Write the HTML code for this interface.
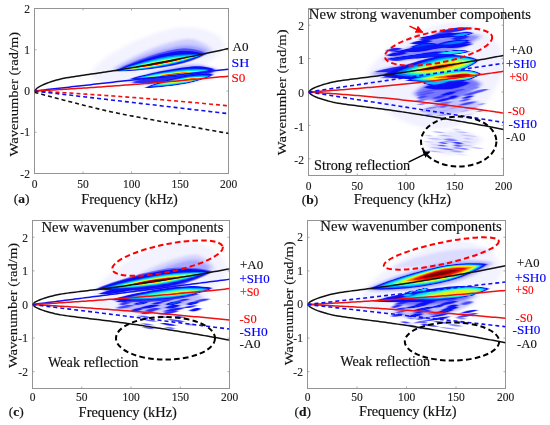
<!DOCTYPE html><html><head><meta charset="utf-8"><style>html,body{margin:0;padding:0;background:#fff;}svg{display:block;will-change:transform;}text{font-family:"Liberation Serif", serif;stroke-width:0.15px;}</style></head><body>
<svg width="550" height="425" viewBox="0 0 550 425">
<defs>
<filter id="cm" x="0" y="0" width="1" height="1" color-interpolation-filters="sRGB"><feComponentTransfer><feFuncR type="table" tableValues="1.000 0.987 0.973 0.960 0.947 0.933 0.909 0.885 0.861 0.837 0.813 0.789 0.765 0.728 0.691 0.654 0.618 0.581 0.544 0.507 0.471 0.427 0.384 0.341 0.298 0.255 0.212 0.169 0.125 0.082 0.039 0.035 0.031 0.027 0.024 0.020 0.016 0.012 0.008 0.004 0.000 0.000 0.000 0.000 0.000 0.000 0.000 0.000 0.000 0.000 0.000 0.039 0.078 0.118 0.157 0.196 0.235 0.275 0.314 0.373 0.431 0.490 0.549 0.608 0.667 0.725 0.784 0.820 0.856 0.892 0.928 0.964 1.000 1.000 1.000 1.000 1.000 1.000 1.000 1.000 1.000 0.993 0.985 0.978 0.971 0.963 0.956 0.949 0.941 0.895 0.850 0.804 0.758 0.712 0.667 0.621 0.575 0.529 0.510 0.490 0.471"/><feFuncG type="table" tableValues="1.000 0.987 0.973 0.960 0.947 0.933 0.909 0.885 0.861 0.837 0.813 0.789 0.765 0.728 0.691 0.654 0.618 0.581 0.544 0.507 0.471 0.427 0.384 0.341 0.298 0.255 0.212 0.169 0.125 0.082 0.039 0.076 0.114 0.151 0.188 0.225 0.263 0.300 0.337 0.375 0.412 0.459 0.506 0.553 0.600 0.647 0.694 0.741 0.788 0.835 0.882 0.897 0.912 0.926 0.941 0.956 0.971 0.985 1.000 1.000 1.000 1.000 1.000 1.000 1.000 1.000 1.000 0.985 0.970 0.955 0.940 0.925 0.910 0.857 0.805 0.752 0.700 0.648 0.595 0.543 0.490 0.431 0.373 0.314 0.255 0.196 0.137 0.078 0.020 0.017 0.015 0.013 0.011 0.009 0.007 0.004 0.002 0.000 0.000 0.000 0.000"/><feFuncB type="table" tableValues="1.000 1.000 1.000 1.000 1.000 1.000 1.000 1.000 1.000 1.000 1.000 1.000 1.000 1.000 1.000 1.000 1.000 1.000 1.000 1.000 1.000 0.996 0.992 0.988 0.984 0.980 0.976 0.973 0.969 0.965 0.961 0.965 0.969 0.973 0.976 0.980 0.984 0.988 0.992 0.996 1.000 1.000 1.000 1.000 1.000 1.000 1.000 1.000 1.000 1.000 1.000 0.961 0.922 0.882 0.843 0.804 0.765 0.725 0.686 0.625 0.564 0.502 0.441 0.380 0.319 0.257 0.196 0.163 0.131 0.098 0.065 0.033 0.000 0.000 0.000 0.000 0.000 0.000 0.000 0.000 0.000 0.000 0.000 0.000 0.000 0.000 0.000 0.000 0.000 0.000 0.000 0.000 0.000 0.000 0.000 0.000 0.000 0.000 0.000 0.000 0.000"/></feComponentTransfer></filter>
<clipPath id="clipa"><rect x="34.5" y="8.5" width="194.00" height="165.00"/></clipPath>
<clipPath id="clipb"><rect x="308.5" y="8.5" width="195.00" height="167.00"/></clipPath>
<clipPath id="clipc"><rect x="32.5" y="220.5" width="197.00" height="168.00"/></clipPath>
<clipPath id="clipd"><rect x="307.5" y="220.5" width="198.00" height="168.00"/></clipPath>
<filter id="b1p5_0p6" x="-30%" y="-50%" width="160%" height="200%" color-interpolation-filters="sRGB"><feGaussianBlur stdDeviation="1.5 0.6"/></filter>
<filter id="b0p9_0p5" x="-30%" y="-50%" width="160%" height="200%" color-interpolation-filters="sRGB"><feGaussianBlur stdDeviation="0.9 0.5"/></filter>
<filter id="b2p5_1p5" x="-30%" y="-50%" width="160%" height="200%" color-interpolation-filters="sRGB"><feGaussianBlur stdDeviation="2.5 1.5"/></filter>
<marker id="ahk" viewBox="0 0 10 10" refX="9" refY="5" markerWidth="7.5" markerHeight="7" orient="auto" markerUnits="userSpaceOnUse"><path d="M0,0 L10,5 L0,10 z" fill="#000"/></marker>
<marker id="ahr" viewBox="0 0 10 10" refX="9" refY="5" markerWidth="8" markerHeight="8" orient="auto" markerUnits="userSpaceOnUse"><path d="M0,0 L10,5 L0,10 z" fill="#f00"/></marker>
</defs>
<g clip-path="url(#clipa)"><g filter="url(#cm)">
<rect x="4.5" y="-21.5" width="254.0" height="225.0" fill="#000"/>
<g filter="url(#b2p5_1p5)">
<path d="M90.0,75.0L95.9,66.1L101.7,60.9L107.6,56.6L113.5,52.7L119.3,49.2L125.2,45.9L131.1,43.0L137.0,40.3L142.8,37.8L148.7,35.5L154.6,33.5L160.4,31.7L166.3,30.1L172.2,28.7L178.0,27.8L183.9,27.3L189.8,27.3L195.7,27.9L201.5,29.0L207.4,30.7L213.3,33.1L219.1,36.6L225.0,45.0L225.0,45.0L219.1,53.9L213.3,59.0L207.4,63.3L201.5,66.9L195.7,70.1L189.8,72.8L183.9,75.2L178.0,77.2L172.2,78.7L166.3,80.0L160.4,81.1L154.6,82.0L148.7,82.7L142.8,83.3L137.0,83.7L131.1,83.9L125.2,83.9L119.3,83.7L113.5,83.2L107.6,82.5L101.7,81.4L95.9,79.7L90.0,75.0Z" fill="#090909"/>
<path d="M112.1,70.0L115.6,67.1L119.1,64.8L122.5,62.7L126.0,60.8L129.5,58.9L133.0,57.1L136.5,55.3L139.9,53.7L143.4,52.0L146.9,50.5L150.4,49.0L153.8,47.6L157.3,46.3L160.8,45.1L164.3,43.9L167.8,42.8L171.2,41.9L174.7,40.9L178.2,40.1L181.7,39.4L185.2,38.8L188.6,38.7L192.1,39.0L195.6,39.8L199.1,41.0L202.5,42.6L206.0,44.6L209.5,47.1L213.0,50.9L213.0,50.9L209.5,52.7L206.0,54.2L202.5,55.5L199.1,56.7L195.6,57.9L192.1,58.9L188.6,59.8L185.2,60.7L181.7,61.4L178.2,62.0L174.7,62.7L171.2,63.3L167.8,63.9L164.3,64.5L160.8,65.0L157.3,65.5L153.8,66.1L150.4,66.6L146.9,67.0L143.4,67.5L139.9,67.9L136.5,68.3L133.0,68.6L129.5,69.0L126.0,69.3L122.5,69.5L119.1,69.8L115.6,69.9L112.1,70.0Z" fill="#1a1a1a"/>
<path d="M114.0,69.7L117.3,67.6L120.6,65.9L123.9,64.3L127.2,62.8L130.4,61.3L133.7,60.0L137.0,58.6L140.3,57.3L143.5,56.1L146.8,54.9L150.1,53.7L153.4,52.6L156.7,51.5L159.9,50.5L163.2,49.6L166.5,48.7L169.8,47.9L173.0,47.1L176.3,46.4L179.6,45.8L182.9,45.4L186.2,45.2L189.4,45.3L192.7,45.7L196.0,46.3L199.3,47.1L202.5,48.2L205.8,49.6L209.1,51.8L209.1,51.8L205.8,53.4L202.5,54.8L199.3,56.1L196.0,57.3L192.7,58.3L189.4,59.3L186.2,60.2L182.9,61.1L179.6,61.8L176.3,62.4L173.0,63.0L169.8,63.6L166.5,64.2L163.2,64.7L159.9,65.2L156.7,65.7L153.4,66.2L150.1,66.7L146.8,67.1L143.5,67.5L140.3,67.9L137.0,68.2L133.7,68.6L130.4,68.8L127.2,69.1L123.9,69.3L120.6,69.5L117.3,69.7L114.0,69.7Z" fill="#292929"/>
<path d="M128.0,82.0L131.9,80.0L135.8,78.4L139.7,76.9L143.7,75.5L147.6,74.2L151.5,73.0L155.4,71.8L159.3,70.7L163.2,69.7L167.1,68.7L171.0,67.9L175.0,67.1L178.9,66.4L182.8,65.7L186.7,65.2L190.6,64.8L194.5,64.7L198.4,64.9L202.3,65.3L206.3,66.0L210.2,66.9L214.1,68.1L218.0,70.0L218.0,70.0L214.1,72.9L210.2,75.2L206.3,77.2L202.3,78.9L198.4,80.3L194.5,81.6L190.6,82.5L186.7,83.2L182.8,83.7L178.9,84.1L175.0,84.4L171.0,84.6L167.1,84.8L163.2,84.9L159.3,84.9L155.4,84.9L151.5,84.8L147.6,84.6L143.7,84.3L139.7,84.0L135.8,83.5L131.9,83.0L128.0,82.0Z" fill="#292929"/>
</g>
<g filter="url(#b0p9_0p5)">
<path d="M114.0,71.3L117.3,69.3L120.5,67.7L123.7,66.2L126.9,64.7L130.1,63.4L133.3,62.0L136.5,60.8L139.7,59.5L142.9,58.3L146.2,57.2L149.4,56.1L152.6,55.0L155.8,54.0L159.0,53.1L162.2,52.2L165.4,51.4L168.6,50.6L171.8,49.9L175.0,49.3L178.3,48.7L181.5,48.4L184.7,48.3L187.9,48.4L191.1,48.7L194.3,49.2L197.5,49.9L200.7,50.8L203.9,51.9L207.2,53.8L207.2,53.8L203.9,55.6L200.7,57.1L197.5,58.5L194.3,59.7L191.1,60.9L187.9,62.0L184.7,63.0L181.5,63.8L178.3,64.6L175.0,65.3L171.8,65.9L168.6,66.4L165.4,67.0L162.2,67.5L159.0,68.0L155.8,68.4L152.6,68.9L149.4,69.3L146.2,69.6L142.9,70.0L139.7,70.3L136.5,70.6L133.3,70.8L130.1,71.0L126.9,71.2L123.7,71.3L120.5,71.4L117.3,71.4L114.0,71.3Z" fill="#3d3d3d"/>
<path d="M132.0,82.5L135.6,81.1L139.1,79.9L142.7,78.8L146.3,77.8L149.8,76.8L153.4,75.8L157.0,74.9L160.5,74.1L164.1,73.2L167.7,72.5L171.2,71.8L174.8,71.1L178.3,70.5L181.9,69.9L185.5,69.3L189.0,68.9L192.6,68.6L196.2,68.5L199.7,68.6L203.3,69.0L206.9,69.5L210.4,70.2L214.0,71.5L214.0,71.5L210.4,73.6L206.9,75.2L203.3,76.6L199.7,77.8L196.2,78.8L192.6,79.7L189.0,80.3L185.5,80.8L181.9,81.2L178.3,81.6L174.8,82.0L171.2,82.3L167.7,82.5L164.1,82.7L160.5,82.9L157.0,83.0L153.4,83.1L149.8,83.2L146.3,83.2L142.7,83.1L139.1,83.1L135.6,82.9L132.0,82.5Z" fill="#454545"/>
<path d="M116.0,71.0L119.0,69.2L122.1,67.9L125.1,66.6L128.2,65.3L131.2,64.1L134.2,63.0L137.3,61.9L140.3,60.8L143.4,59.7L146.4,58.7L149.5,57.8L152.5,56.8L155.5,56.0L158.6,55.1L161.6,54.3L164.7,53.6L167.7,52.9L170.8,52.3L173.8,51.7L176.9,51.3L179.9,51.0L182.9,50.8L186.0,50.9L189.0,51.0L192.1,51.3L195.1,51.8L198.2,52.3L201.2,53.1L204.2,54.4L204.2,54.4L201.2,56.0L198.2,57.4L195.1,58.6L192.1,59.8L189.0,60.8L186.0,61.8L182.9,62.7L179.9,63.6L176.9,64.3L173.8,65.0L170.8,65.6L167.7,66.1L164.7,66.7L161.6,67.2L158.6,67.6L155.5,68.1L152.5,68.5L149.5,68.9L146.4,69.3L143.4,69.6L140.3,69.9L137.3,70.2L134.2,70.4L131.2,70.6L128.2,70.8L125.1,71.0L122.1,71.1L119.0,71.1L116.0,71.0Z" fill="#4c4c4c"/>
<path d="M129.6,79.0L132.5,78.0L135.4,77.1L138.4,76.3L141.3,75.6L144.3,74.9L147.2,74.2L150.2,73.5L153.1,72.8L156.1,72.2L159.0,71.6L161.9,71.0L164.9,70.5L167.8,69.9L170.8,69.4L173.7,68.9L176.7,68.5L179.6,68.0L182.5,67.6L185.5,67.2L188.4,66.9L191.4,66.5L194.3,66.3L197.3,66.2L200.2,66.3L203.1,66.6L206.1,67.0L209.0,67.5L212.0,68.2L214.9,69.4L214.9,69.4L212.0,70.6L209.0,71.5L206.1,72.3L203.1,73.1L200.2,73.8L197.3,74.3L194.3,74.8L191.4,75.2L188.4,75.5L185.5,75.9L182.5,76.2L179.6,76.4L176.7,76.7L173.7,77.0L170.8,77.2L167.8,77.4L164.9,77.6L161.9,77.8L159.0,78.0L156.1,78.2L153.1,78.4L150.2,78.5L147.2,78.6L144.3,78.8L141.3,78.9L138.4,79.0L135.4,79.0L132.5,79.1L129.6,79.0Z" fill="#4c4c4c"/>
<path d="M144.0,88.0L147.0,86.7L150.1,85.5L153.1,84.5L156.2,83.5L159.2,82.5L162.3,81.6L165.3,80.7L168.3,79.8L171.4,79.0L174.4,78.2L177.5,77.5L180.5,76.8L183.6,76.2L186.6,75.6L189.7,75.1L192.7,74.6L195.7,74.3L198.8,74.1L201.8,73.9L204.9,73.9L207.9,73.9L211.0,74.1L214.0,74.5L214.0,74.5L211.0,76.0L207.9,77.2L204.9,78.3L201.8,79.3L198.8,80.3L195.7,81.2L192.7,82.0L189.7,82.7L186.6,83.4L183.6,84.0L180.5,84.5L177.5,85.0L174.4,85.5L171.4,85.9L168.3,86.3L165.3,86.6L162.3,87.0L159.2,87.3L156.2,87.5L153.1,87.7L150.1,87.9L147.0,88.0L144.0,88.0Z" fill="#4c4c4c"/>
<path d="M117.9,70.6L120.8,69.4L123.7,68.3L126.5,67.3L129.4,66.3L132.3,65.3L135.2,64.4L138.1,63.5L140.9,62.7L143.8,61.8L146.7,61.0L149.6,60.3L152.4,59.5L155.3,58.8L158.2,58.1L161.1,57.5L163.9,56.9L166.8,56.3L169.7,55.8L172.6,55.4L175.5,55.0L178.3,54.7L181.2,54.5L184.1,54.4L187.0,54.3L189.8,54.2L192.7,54.2L195.6,54.3L198.5,54.5L201.3,55.0L201.3,55.0L198.5,56.3L195.6,57.3L192.7,58.3L189.8,59.3L187.0,60.2L184.1,61.0L181.2,61.9L178.3,62.6L175.5,63.3L172.6,64.0L169.7,64.7L166.8,65.2L163.9,65.8L161.1,66.3L158.2,66.8L155.3,67.3L152.4,67.7L149.6,68.1L146.7,68.5L143.8,68.9L140.9,69.2L138.1,69.5L135.2,69.8L132.3,70.0L129.4,70.3L126.5,70.4L123.7,70.6L120.8,70.7L117.9,70.6Z" fill="#6b6b6b"/>
<path d="M134.4,78.4L137.0,77.7L139.6,77.0L142.2,76.4L144.8,75.8L147.5,75.2L150.1,74.7L152.7,74.1L155.3,73.6L157.9,73.1L160.5,72.7L163.1,72.2L165.7,71.8L168.3,71.4L170.9,71.0L173.5,70.6L176.2,70.2L178.8,69.9L181.4,69.6L184.0,69.3L186.6,69.0L189.2,68.8L191.8,68.7L194.4,68.7L197.0,68.7L199.6,68.8L202.2,68.9L204.9,69.1L207.5,69.4L210.1,69.9L210.1,69.9L207.5,70.7L204.9,71.4L202.2,72.0L199.6,72.6L197.0,73.1L194.4,73.6L191.8,74.1L189.2,74.5L186.6,74.8L184.0,75.2L181.4,75.4L178.8,75.7L176.2,76.0L173.5,76.2L170.9,76.5L168.3,76.7L165.7,76.9L163.1,77.1L160.5,77.3L157.9,77.5L155.3,77.7L152.7,77.8L150.1,78.0L147.5,78.1L144.8,78.2L142.2,78.3L139.6,78.4L137.0,78.5L134.4,78.4Z" fill="#6b6b6b"/>
<path d="M149.0,86.8L151.7,85.8L154.4,84.9L157.1,84.0L159.8,83.2L162.5,82.4L165.2,81.7L167.9,80.9L170.6,80.3L173.3,79.6L176.0,79.0L178.7,78.4L181.3,77.8L184.0,77.3L186.7,76.8L189.4,76.3L192.1,76.0L194.8,75.7L197.5,75.5L200.2,75.3L202.9,75.3L205.6,75.2L208.3,75.3L211.0,75.6L211.0,75.6L208.3,76.7L205.6,77.7L202.9,78.6L200.2,79.4L197.5,80.2L194.8,80.9L192.1,81.6L189.4,82.2L186.7,82.7L184.0,83.2L181.3,83.6L178.7,84.0L176.0,84.4L173.3,84.8L170.6,85.1L167.9,85.5L165.2,85.7L162.5,86.0L159.8,86.3L157.1,86.5L154.4,86.6L151.7,86.8L149.0,86.8Z" fill="#6b6b6b"/>
<path d="M119.9,70.3L122.6,69.2L125.3,68.3L128.1,67.4L130.8,66.6L133.6,65.7L136.3,64.9L139.1,64.1L141.8,63.4L144.5,62.6L147.3,61.9L150.0,61.2L152.8,60.6L155.5,59.9L158.3,59.3L161.0,58.8L163.7,58.2L166.5,57.7L169.2,57.3L172.0,56.9L174.7,56.5L177.5,56.2L180.2,55.9L182.9,55.7L185.7,55.5L188.4,55.4L191.2,55.3L193.9,55.2L196.7,55.2L199.4,55.4L199.4,55.4L196.7,56.5L193.9,57.4L191.2,58.3L188.4,59.1L185.7,60.0L182.9,60.7L180.2,61.5L177.5,62.2L174.7,62.9L172.0,63.5L169.2,64.1L166.5,64.7L163.7,65.2L161.0,65.7L158.3,66.2L155.5,66.7L152.8,67.1L150.0,67.6L147.3,68.0L144.5,68.3L141.8,68.7L139.1,69.0L136.3,69.3L133.6,69.6L130.8,69.8L128.1,70.0L125.3,70.2L122.6,70.3L119.9,70.3Z" fill="#808080"/>
<path d="M139.3,77.9L141.6,77.3L143.9,76.7L146.3,76.2L148.6,75.7L151.0,75.2L153.3,74.8L155.6,74.3L158.0,73.9L160.3,73.5L162.7,73.1L165.0,72.7L167.4,72.4L169.7,72.0L172.0,71.7L174.4,71.4L176.7,71.1L179.1,70.8L181.4,70.6L183.7,70.3L186.1,70.1L188.4,70.0L190.8,69.9L193.1,69.8L195.5,69.8L197.8,69.8L200.1,69.8L202.5,69.9L204.8,70.0L207.2,70.2L207.2,70.2L204.8,70.8L202.5,71.4L200.1,71.8L197.8,72.3L195.5,72.7L193.1,73.1L190.8,73.5L188.4,73.9L186.1,74.2L183.7,74.5L181.4,74.8L179.1,75.1L176.7,75.4L174.4,75.6L172.0,75.8L169.7,76.1L167.4,76.3L165.0,76.5L162.7,76.7L160.3,76.8L158.0,77.0L155.6,77.2L153.3,77.3L151.0,77.5L148.6,77.6L146.3,77.7L143.9,77.8L141.6,77.9L139.3,77.9Z" fill="#808080"/>
<path d="M152.0,86.0L154.4,85.1L156.9,84.4L159.3,83.7L161.7,83.1L164.2,82.4L166.6,81.8L169.0,81.2L171.5,80.6L173.9,80.1L176.3,79.6L178.8,79.1L181.2,78.6L183.7,78.1L186.1,77.7L188.5,77.3L191.0,77.0L193.4,76.8L195.8,76.6L198.3,76.4L200.7,76.3L203.1,76.3L205.6,76.3L208.0,76.5L208.0,76.5L205.6,77.4L203.1,78.2L200.7,79.0L198.3,79.7L195.8,80.3L193.4,80.9L191.0,81.5L188.5,82.0L186.1,82.4L183.7,82.8L181.2,83.2L178.8,83.6L176.3,83.9L173.9,84.2L171.5,84.5L169.0,84.8L166.6,85.0L164.2,85.3L161.7,85.5L159.3,85.7L156.9,85.8L154.4,86.0L152.0,86.0Z" fill="#808080"/>
<path d="M122.8,69.9L125.3,68.9L127.9,68.1L130.4,67.4L132.9,66.6L135.5,65.9L138.0,65.2L140.6,64.6L143.1,63.9L145.6,63.3L148.2,62.7L150.7,62.1L153.3,61.5L155.8,61.0L158.4,60.5L160.9,60.0L163.4,59.5L166.0,59.1L168.5,58.7L171.1,58.3L173.6,58.0L176.2,57.6L178.7,57.3L181.2,57.0L183.8,56.8L186.3,56.6L188.9,56.3L191.4,56.2L193.9,56.0L196.5,56.0L196.5,56.0L193.9,56.9L191.4,57.6L188.9,58.4L186.3,59.1L183.8,59.8L181.2,60.5L178.7,61.1L176.2,61.7L173.6,62.3L171.1,62.9L168.5,63.5L166.0,64.0L163.4,64.6L160.9,65.1L158.4,65.5L155.8,66.0L153.3,66.5L150.7,66.9L148.2,67.3L145.6,67.7L143.1,68.0L140.6,68.3L138.0,68.6L135.5,68.9L132.9,69.2L130.4,69.4L127.9,69.6L125.3,69.8L122.8,69.9Z" fill="#949494"/>
<path d="M158.0,85.0L160.0,84.3L162.1,83.7L164.1,83.2L166.2,82.6L168.2,82.1L170.3,81.6L172.3,81.1L174.3,80.6L176.4,80.2L178.4,79.8L180.5,79.4L182.5,79.0L184.6,78.6L186.6,78.2L188.7,77.9L190.7,77.6L192.7,77.4L194.8,77.2L196.8,77.1L198.9,77.0L200.9,76.9L203.0,76.9L205.0,77.0L205.0,77.0L203.0,77.7L200.9,78.4L198.9,78.9L196.8,79.5L194.8,80.0L192.7,80.5L190.7,80.9L188.7,81.4L186.6,81.7L184.6,82.1L182.5,82.4L180.5,82.7L178.4,83.0L176.4,83.3L174.3,83.5L172.3,83.8L170.3,84.0L168.2,84.2L166.2,84.4L164.1,84.6L162.1,84.8L160.0,84.9L158.0,85.0Z" fill="#999999"/>
<path d="M146.1,77.1L148.0,76.6L149.9,76.2L151.8,75.8L153.7,75.4L155.6,75.1L157.5,74.7L159.4,74.4L161.3,74.0L163.2,73.7L165.1,73.4L167.0,73.2L168.9,72.9L170.8,72.7L172.7,72.4L174.6,72.2L176.6,72.0L178.5,71.8L180.4,71.7L182.3,71.5L184.2,71.4L186.1,71.2L188.0,71.1L189.9,71.0L191.8,71.0L193.7,70.9L195.6,70.9L197.5,70.8L199.4,70.8L201.3,70.9L201.3,70.9L199.4,71.3L197.5,71.6L195.6,72.0L193.7,72.3L191.8,72.6L189.9,72.9L188.0,73.2L186.1,73.5L184.2,73.8L182.3,74.0L180.4,74.3L178.5,74.5L176.6,74.8L174.6,75.0L172.7,75.2L170.8,75.4L168.9,75.6L167.0,75.8L165.1,76.0L163.2,76.1L161.3,76.3L159.4,76.4L157.5,76.6L155.6,76.7L153.7,76.8L151.8,76.9L149.9,77.0L148.0,77.1L146.1,77.1Z" fill="#9e9e9e"/>
<path d="M126.7,69.2L128.9,68.5L131.2,67.8L133.5,67.2L135.7,66.6L138.0,66.0L140.3,65.4L142.6,64.9L144.8,64.3L147.1,63.8L149.4,63.2L151.7,62.7L153.9,62.3L156.2,61.8L158.5,61.3L160.8,60.9L163.0,60.5L165.3,60.1L167.6,59.7L169.9,59.3L172.1,59.0L174.4,58.7L176.7,58.4L179.0,58.1L181.2,57.8L183.5,57.6L185.8,57.3L188.1,57.1L190.3,56.9L192.6,56.8L192.6,56.8L190.3,57.5L188.1,58.2L185.8,58.8L183.5,59.4L181.2,60.0L179.0,60.6L176.7,61.1L174.4,61.7L172.1,62.2L169.9,62.7L167.6,63.2L165.3,63.7L163.0,64.1L160.8,64.6L158.5,65.0L156.2,65.4L153.9,65.8L151.7,66.2L149.4,66.6L147.1,66.9L144.8,67.3L142.6,67.6L140.3,67.9L138.0,68.2L135.7,68.4L133.5,68.7L131.2,68.9L128.9,69.1L126.7,69.2Z" fill="#adadad"/>
<path d="M166.0,83.3L167.6,82.8L169.1,82.4L170.7,82.0L172.3,81.6L173.8,81.2L175.4,80.8L177.0,80.5L178.5,80.1L180.1,79.8L181.7,79.5L183.2,79.2L184.8,78.9L186.3,78.6L187.9,78.3L189.5,78.1L191.0,77.9L192.6,77.7L194.2,77.6L195.7,77.4L197.3,77.3L198.9,77.3L200.4,77.2L202.0,77.3L202.0,77.3L200.4,77.8L198.9,78.3L197.3,78.7L195.7,79.1L194.2,79.5L192.6,79.8L191.0,80.2L189.5,80.5L187.9,80.7L186.3,81.0L184.8,81.3L183.2,81.5L181.7,81.7L180.1,81.9L178.5,82.1L177.0,82.3L175.4,82.5L173.8,82.7L172.3,82.8L170.7,83.0L169.1,83.1L167.6,83.2L166.0,83.3Z" fill="#b2b2b2"/>
<path d="M152.8,76.4L154.3,76.0L155.8,75.7L157.3,75.4L158.7,75.2L160.2,74.9L161.7,74.6L163.1,74.4L164.6,74.2L166.1,73.9L167.6,73.7L169.0,73.5L170.5,73.3L172.0,73.1L173.4,72.9L174.9,72.8L176.4,72.6L177.9,72.5L179.3,72.3L180.8,72.2L182.3,72.1L183.7,72.0L185.2,71.9L186.7,71.8L188.2,71.7L189.6,71.7L191.1,71.6L192.6,71.6L194.0,71.5L195.5,71.6L195.5,71.6L194.0,71.9L192.6,72.1L191.1,72.4L189.6,72.6L188.2,72.9L186.7,73.1L185.2,73.3L183.7,73.5L182.3,73.7L180.8,73.9L179.3,74.1L177.9,74.3L176.4,74.5L174.9,74.7L173.4,74.8L172.0,75.0L170.5,75.2L169.0,75.3L167.6,75.4L166.1,75.6L164.6,75.7L163.1,75.8L161.7,75.9L160.2,76.0L158.7,76.1L157.3,76.2L155.8,76.3L154.3,76.3L152.8,76.4Z" fill="#b8b8b8"/>
<path d="M131.5,68.4L133.5,67.8L135.5,67.3L137.5,66.8L139.5,66.3L141.5,65.8L143.5,65.3L145.5,64.8L147.6,64.4L149.6,63.9L151.6,63.5L153.6,63.0L155.6,62.6L157.6,62.2L159.6,61.8L161.6,61.4L163.6,61.1L165.6,60.7L167.6,60.4L169.6,60.0L171.6,59.7L173.6,59.4L175.7,59.1L177.7,58.8L179.7,58.5L181.7,58.3L183.7,58.0L185.7,57.8L187.7,57.5L189.7,57.4L189.7,57.4L187.7,58.0L185.7,58.5L183.7,59.0L181.7,59.5L179.7,60.0L177.7,60.5L175.7,61.0L173.6,61.4L171.6,61.9L169.6,62.3L167.6,62.7L165.6,63.1L163.6,63.5L161.6,63.9L159.6,64.3L157.6,64.7L155.6,65.0L153.6,65.4L151.6,65.7L149.6,66.1L147.6,66.4L145.5,66.7L143.5,67.0L141.5,67.3L139.5,67.5L137.5,67.8L135.5,68.0L133.5,68.2L131.5,68.4Z" fill="#cccccc"/>
<path d="M176.0,81.6L177.0,81.3L178.0,81.0L179.0,80.8L180.0,80.5L181.0,80.3L182.0,80.1L183.0,79.8L184.0,79.6L185.0,79.4L186.0,79.2L187.0,79.0L188.0,78.8L189.0,78.7L190.0,78.5L191.0,78.3L192.0,78.2L193.0,78.1L194.0,78.0L195.0,77.9L196.0,77.8L197.0,77.8L198.0,77.8L199.0,77.8L199.0,77.8L198.0,78.1L197.0,78.4L196.0,78.7L195.0,78.9L194.0,79.2L193.0,79.4L192.0,79.6L191.0,79.8L190.0,80.0L189.0,80.1L188.0,80.3L187.0,80.5L186.0,80.6L185.0,80.7L184.0,80.9L183.0,81.0L182.0,81.1L181.0,81.2L180.0,81.3L179.0,81.4L178.0,81.5L177.0,81.6L176.0,81.6Z" fill="#d1d1d1"/>
<path d="M160.6,75.5L161.6,75.3L162.6,75.1L163.6,74.9L164.6,74.7L165.6,74.6L166.6,74.4L167.6,74.3L168.6,74.1L169.6,74.0L170.6,73.8L171.6,73.7L172.6,73.5L173.6,73.4L174.6,73.3L175.7,73.2L176.7,73.1L177.7,73.0L178.7,72.9L179.7,72.8L180.7,72.7L181.7,72.6L182.7,72.6L183.7,72.5L184.7,72.4L185.7,72.4L186.7,72.3L187.7,72.3L188.7,72.2L189.7,72.2L189.7,72.2L188.7,72.4L187.7,72.6L186.7,72.7L185.7,72.9L184.7,73.1L183.7,73.2L182.7,73.4L181.7,73.5L180.7,73.7L179.7,73.8L178.7,73.9L177.7,74.1L176.7,74.2L175.7,74.3L174.6,74.4L173.6,74.5L172.6,74.6L171.6,74.7L170.6,74.8L169.6,74.9L168.6,75.0L167.6,75.1L166.6,75.1L165.6,75.2L164.6,75.3L163.6,75.4L162.6,75.4L161.6,75.5L160.6,75.5Z" fill="#d9d9d9"/>
<path d="M136.3,67.5L138.1,67.1L139.8,66.7L141.5,66.3L143.2,65.9L144.9,65.5L146.6,65.1L148.3,64.7L150.0,64.3L151.7,63.9L153.4,63.6L155.1,63.2L156.8,62.9L158.5,62.5L160.2,62.2L161.9,61.9L163.6,61.5L165.3,61.2L167.1,60.9L168.8,60.6L170.5,60.4L172.2,60.1L173.9,59.8L175.6,59.5L177.3,59.3L179.0,59.0L180.7,58.8L182.4,58.6L184.1,58.3L185.8,58.1L185.8,58.1L184.1,58.6L182.4,59.1L180.7,59.5L179.0,59.9L177.3,60.3L175.6,60.7L173.9,61.1L172.2,61.5L170.5,61.8L168.8,62.2L167.1,62.5L165.3,62.9L163.6,63.2L161.9,63.6L160.2,63.9L158.5,64.2L156.8,64.5L155.1,64.8L153.4,65.1L151.7,65.4L150.0,65.7L148.3,65.9L146.6,66.2L144.9,66.5L143.2,66.7L141.5,66.9L139.8,67.2L138.1,67.4L136.3,67.5Z" fill="#e6e6e6"/>
<path d="M143.1,66.3L144.4,66.0L145.7,65.7L147.0,65.4L148.2,65.1L149.5,64.8L150.8,64.6L152.0,64.3L153.3,64.0L154.6,63.7L155.9,63.5L157.1,63.2L158.4,63.0L159.7,62.7L160.9,62.5L162.2,62.2L163.5,62.0L164.7,61.7L166.0,61.5L167.3,61.3L168.6,61.1L169.8,60.9L171.1,60.6L172.4,60.4L173.6,60.2L174.9,60.0L176.2,59.8L177.5,59.6L178.7,59.5L180.0,59.3L180.0,59.3L178.7,59.6L177.5,59.9L176.2,60.2L174.9,60.5L173.6,60.8L172.4,61.1L171.1,61.4L169.8,61.7L168.6,61.9L167.3,62.2L166.0,62.5L164.7,62.7L163.5,63.0L162.2,63.2L160.9,63.5L159.7,63.7L158.4,63.9L157.1,64.2L155.9,64.4L154.6,64.6L153.3,64.8L152.0,65.0L150.8,65.2L149.5,65.4L148.2,65.6L147.0,65.8L145.7,66.0L144.4,66.2L143.1,66.3Z" fill="#fafafa"/>
</g>
</g></g>
<rect x="34.5" y="8.5" width="194.00" height="165.00" fill="none" stroke="#949494" stroke-width="1"/>
<path d="M34.5,173.50h2M228.5,173.50h-2M34.5,132.25h2M228.5,132.25h-2M34.5,91.00h2M228.5,91.00h-2M34.5,49.75h2M228.5,49.75h-2M34.5,8.50h2M228.5,8.50h-2M34.50,173.5v-2M34.50,8.5v2M83.00,173.5v-2M83.00,8.5v2M131.50,173.5v-2M131.50,8.5v2M180.00,173.5v-2M180.00,8.5v2M228.50,173.5v-2M228.50,8.5v2" stroke="#949494" stroke-width="0.8" fill="none"/>
<g clip-path="url(#clipb)"><g filter="url(#cm)">
<rect x="278.5" y="-21.5" width="255.0" height="227.0" fill="#000"/>
<g filter="url(#b2p5_1p5)">
<path d="M365.0,80.0L371.1,66.9L377.2,59.8L383.3,54.0L389.3,49.0L395.4,44.6L401.5,40.6L407.6,37.1L413.7,34.0L419.8,31.2L425.9,28.8L432.0,26.8L438.0,25.1L444.1,23.8L450.2,22.8L456.3,22.5L462.4,23.0L468.5,24.3L474.6,26.4L480.7,29.3L486.7,33.3L492.8,38.4L498.9,45.3L505.0,60.0L505.0,60.0L498.9,81.6L492.8,92.9L486.7,101.7L480.7,109.0L474.6,115.0L468.5,119.8L462.4,123.5L456.3,126.2L450.2,127.8L444.1,128.5L438.0,128.8L432.0,128.6L425.9,127.9L419.8,126.8L413.7,125.1L407.6,123.0L401.5,120.3L395.4,117.1L389.3,113.2L383.3,108.5L377.2,102.8L371.1,95.4L365.0,80.0Z" fill="#0a0a0a"/>
<path d="M425.0,145.0L427.5,142.3L430.0,140.4L432.4,138.6L434.9,137.0L437.4,135.6L439.9,134.4L442.3,133.3L444.8,132.3L447.3,131.6L449.8,131.0L452.3,130.6L454.7,130.4L457.2,130.4L459.7,130.5L462.2,130.8L464.7,131.3L467.1,132.0L469.6,132.8L472.1,133.8L474.6,134.9L477.0,136.2L479.5,137.8L482.0,140.0L482.0,140.0L479.5,142.7L477.0,144.6L474.6,146.4L472.1,148.0L469.6,149.4L467.1,150.6L464.7,151.7L462.2,152.7L459.7,153.4L457.2,154.0L454.7,154.4L452.3,154.6L449.8,154.6L447.3,154.5L444.8,154.2L442.3,153.7L439.9,153.0L437.4,152.2L434.9,151.2L432.4,150.1L430.0,148.8L427.5,147.2L425.0,145.0Z" fill="#0f0f0f"/>
<path d="M420.0,112.0L422.7,110.2L425.4,108.8L428.1,107.5L430.8,106.3L433.5,105.2L436.2,104.2L438.9,103.3L441.6,102.5L444.3,101.8L447.0,101.2L449.7,100.7L452.3,100.3L455.0,100.0L457.7,99.8L460.4,99.8L463.1,99.8L465.8,99.9L468.5,100.1L471.2,100.4L473.9,100.8L476.6,101.3L479.3,102.0L482.0,103.0L482.0,103.0L479.3,104.8L476.6,106.2L473.9,107.5L471.2,108.7L468.5,109.8L465.8,110.8L463.1,111.7L460.4,112.5L457.7,113.2L455.0,113.8L452.3,114.3L449.7,114.7L447.0,115.0L444.3,115.2L441.6,115.2L438.9,115.2L436.2,115.1L433.5,114.9L430.8,114.6L428.1,114.2L425.4,113.7L422.7,113.0L420.0,112.0Z" fill="#1f1f1f"/>
<path d="M383.0,60.0L387.3,57.4L391.6,55.2L395.9,53.1L400.2,51.2L404.5,49.3L408.8,47.5L413.1,45.8L417.4,44.2L421.7,42.7L426.0,41.2L430.3,39.9L434.7,38.6L439.0,37.5L443.3,36.4L447.6,35.5L451.9,34.8L456.2,34.3L460.5,34.0L464.8,33.9L469.1,34.0L473.4,34.3L477.7,34.9L482.0,36.0L482.0,36.0L477.7,39.2L473.4,41.8L469.1,44.2L464.8,46.4L460.5,48.4L456.2,50.2L451.9,51.8L447.6,53.2L443.3,54.4L439.0,55.4L434.7,56.3L430.3,57.2L426.0,57.9L421.7,58.5L417.4,59.1L413.1,59.6L408.8,60.0L404.5,60.3L400.2,60.5L395.9,60.6L391.6,60.6L387.3,60.5L383.0,60.0Z" fill="#2e2e2e"/>
<path d="M370.0,74.0L372.2,73.0L374.3,72.1L376.5,71.4L378.7,70.6L380.9,70.0L383.0,69.3L385.2,68.7L387.4,68.1L389.6,67.6L391.7,67.1L393.9,66.6L396.1,66.2L398.3,65.8L400.4,65.4L402.6,65.1L404.8,64.8L407.0,64.6L409.1,64.7L411.3,64.9L413.5,65.3L415.7,65.9L417.8,66.7L420.0,68.0L420.0,68.0L417.8,69.8L415.7,71.1L413.5,72.2L411.3,73.2L409.1,73.9L407.0,74.5L404.8,74.8L402.6,75.1L400.4,75.3L398.3,75.4L396.1,75.6L393.9,75.6L391.7,75.7L389.6,75.7L387.4,75.7L385.2,75.6L383.0,75.5L380.9,75.4L378.7,75.3L376.5,75.1L374.3,74.8L372.2,74.5L370.0,74.0Z" fill="#2e2e2e"/>
<path d="M413.0,94.0L416.0,90.9L419.0,88.6L422.0,86.5L425.0,84.6L428.0,82.8L431.0,81.3L434.0,79.9L437.0,78.7L440.0,77.7L443.0,76.9L446.0,76.2L449.0,75.8L452.0,75.6L455.0,75.5L458.0,75.7L461.0,76.0L464.0,76.5L467.0,77.2L470.0,78.0L473.0,79.1L476.0,80.3L479.0,81.8L482.0,84.0L482.0,84.0L479.0,86.9L476.0,89.1L473.0,91.1L470.0,92.8L467.0,94.5L464.0,95.9L461.0,97.3L458.0,98.4L455.0,99.4L452.0,100.1L449.0,100.8L446.0,101.2L443.0,101.5L440.0,101.5L437.0,101.4L434.0,101.2L431.0,100.7L428.0,100.1L425.0,99.4L422.0,98.4L419.0,97.3L416.0,96.0L413.0,94.0Z" fill="#333333"/>
</g>
<g filter="url(#b1p5_0p6)">
<path d="M455.3,154.0L456.8,153.8L458.2,153.6L459.7,153.6L461.2,153.7L462.7,153.8L464.2,154.1L465.6,154.4L467.1,154.8L468.6,155.3L468.6,155.3L467.1,155.6L465.6,155.7L464.2,155.7L462.7,155.6L461.2,155.5L459.7,155.2L458.2,154.9L456.8,154.5L455.3,154.0Z" fill="#0f0f0f"/>
<path d="M422.9,141.3L424.1,141.1L425.2,140.9L426.3,140.9L427.4,140.9L428.5,141.0L429.6,141.2L430.8,141.5L431.9,141.8L433.0,142.3L433.0,142.3L431.9,142.6L430.8,142.7L429.6,142.8L428.5,142.7L427.4,142.6L426.3,142.4L425.2,142.2L424.1,141.8L422.9,141.3Z" fill="#181818"/>
<path d="M442.4,102.3L443.9,101.7L445.5,101.1L447.1,100.7L448.7,100.3L450.3,100.0L451.9,99.8L453.5,99.7L455.0,99.7L456.6,99.8L456.6,99.8L455.0,100.4L453.5,101.0L451.9,101.4L450.3,101.8L448.7,102.1L447.1,102.3L445.5,102.4L443.9,102.4L442.4,102.3Z" fill="#1a1a1a"/>
<path d="M452.4,129.0L453.3,128.7L454.3,128.5L455.2,128.4L456.2,128.4L457.1,128.5L458.1,128.7L459.0,129.0L460.0,129.3L461.0,129.8L461.0,129.8L460.0,130.1L459.0,130.3L458.1,130.4L457.1,130.4L456.2,130.3L455.2,130.1L454.3,129.8L453.3,129.5L452.4,129.0Z" fill="#1a1a1a"/>
<path d="M459.7,116.1L461.3,115.5L462.9,115.0L464.5,114.6L466.2,114.2L467.8,114.0L469.4,113.7L471.0,113.6L472.6,113.5L474.2,113.5L474.2,113.5L472.6,114.1L471.0,114.6L469.4,115.0L467.8,115.3L466.2,115.6L464.5,115.9L462.9,116.0L461.3,116.1L459.7,116.1Z" fill="#1a1a1a"/>
<path d="M424.3,135.3L425.3,135.0L426.4,134.8L427.4,134.7L428.4,134.8L429.4,134.9L430.4,135.1L431.4,135.3L432.4,135.7L433.4,136.2L433.4,136.2L432.4,136.5L431.4,136.6L430.4,136.7L429.4,136.7L428.4,136.6L427.4,136.4L426.4,136.1L425.3,135.8L424.3,135.3Z" fill="#1c1c1c"/>
<path d="M430.2,144.4L432.1,144.3L434.0,144.3L435.8,144.4L437.7,144.5L439.6,144.7L441.4,144.9L443.3,145.2L445.2,145.6L447.1,146.0L447.1,146.0L445.2,146.1L443.3,146.1L441.4,146.0L439.6,145.9L437.7,145.7L435.8,145.5L434.0,145.2L432.1,144.8L430.2,144.4Z" fill="#1c1c1c"/>
<path d="M470.6,147.4L472.1,147.1L473.5,147.0L474.9,147.0L476.4,147.1L477.8,147.2L479.3,147.5L480.7,147.8L482.1,148.1L483.6,148.7L483.6,148.7L482.1,148.9L480.7,149.0L479.3,149.0L477.8,148.9L476.4,148.8L474.9,148.6L473.5,148.2L472.1,147.9L470.6,147.4Z" fill="#1e1e1e"/>
<path d="M460.7,141.2L462.0,141.1L463.4,141.0L464.7,141.0L466.0,141.0L467.4,141.2L468.7,141.4L470.0,141.7L471.4,142.0L472.7,142.4L472.7,142.4L471.4,142.6L470.0,142.7L468.7,142.7L467.4,142.6L466.0,142.5L464.7,142.3L463.4,142.0L462.0,141.7L460.7,141.2Z" fill="#1f1f1f"/>
<path d="M463.2,138.2L464.3,138.0L465.3,137.8L466.4,137.8L467.4,137.8L468.5,137.9L469.6,138.1L470.6,138.4L471.7,138.7L472.8,139.2L472.8,139.2L471.7,139.5L470.6,139.6L469.6,139.6L468.5,139.6L467.4,139.5L466.4,139.3L465.3,139.1L464.3,138.7L463.2,138.2Z" fill="#1f1f1f"/>
<path d="M459.9,134.8L461.9,134.8L463.8,134.8L465.8,134.9L467.8,135.0L469.8,135.2L471.8,135.4L473.8,135.8L475.7,136.1L477.7,136.6L477.7,136.6L475.7,136.7L473.8,136.7L471.8,136.6L469.8,136.4L467.8,136.2L465.8,136.0L463.8,135.7L461.9,135.3L459.9,134.8Z" fill="#202020"/>
<path d="M445.7,138.2L446.9,138.0L448.2,138.0L449.4,138.0L450.6,138.0L451.9,138.2L453.1,138.3L454.3,138.6L455.6,138.9L456.8,139.3L456.8,139.3L455.6,139.4L454.3,139.5L453.1,139.5L451.9,139.4L450.6,139.3L449.4,139.1L448.2,138.8L446.9,138.5L445.7,138.2Z" fill="#212121"/>
<path d="M425.4,137.9L427.2,137.7L429.1,137.7L431.0,137.7L432.9,137.8L434.7,138.0L436.6,138.3L438.5,138.6L440.4,139.0L442.2,139.6L442.2,139.6L440.4,139.7L438.5,139.8L436.6,139.7L434.7,139.6L432.9,139.4L431.0,139.2L429.1,138.8L427.2,138.4L425.4,137.9Z" fill="#212121"/>
<path d="M429.5,147.2L431.3,147.0L433.1,147.0L434.9,147.0L436.7,147.1L438.6,147.3L440.4,147.6L442.2,147.9L444.0,148.3L445.8,148.8L445.8,148.8L444.0,149.0L442.2,149.0L440.4,149.0L438.6,148.9L436.7,148.7L434.9,148.5L433.1,148.1L431.3,147.7L429.5,147.2Z" fill="#212121"/>
<path d="M453.6,144.2L455.9,144.1L458.1,144.1L460.4,144.2L462.7,144.3L465.0,144.6L467.3,144.9L469.6,145.2L471.9,145.7L474.1,146.2L474.1,146.2L471.9,146.3L469.6,146.3L467.3,146.2L465.0,146.0L462.7,145.8L460.4,145.5L458.1,145.1L455.9,144.7L453.6,144.2Z" fill="#222222"/>
<path d="M455.1,131.5L456.6,131.4L458.1,131.3L459.6,131.3L461.1,131.4L462.6,131.6L464.1,131.8L465.6,132.1L467.1,132.4L468.6,132.9L468.6,132.9L467.1,133.0L465.6,133.1L464.1,133.1L462.6,133.0L461.1,132.9L459.6,132.6L458.1,132.3L456.6,132.0L455.1,131.5Z" fill="#222222"/>
<path d="M422.8,150.3L425.2,150.2L427.6,150.3L429.9,150.4L432.3,150.5L434.6,150.8L437.0,151.1L439.3,151.5L441.7,151.9L444.0,152.4L444.0,152.4L441.7,152.5L439.3,152.4L437.0,152.3L434.6,152.2L432.3,151.9L429.9,151.6L427.6,151.3L425.2,150.8L422.8,150.3Z" fill="#232323"/>
<path d="M458.1,105.4L459.5,104.7L460.9,104.3L462.3,103.8L463.7,103.5L465.2,103.3L466.6,103.1L468.0,103.0L469.4,103.0L470.8,103.1L470.8,103.1L469.4,103.7L468.0,104.2L466.6,104.6L465.2,104.9L463.7,105.2L462.3,105.3L460.9,105.4L459.5,105.5L458.1,105.4Z" fill="#242424"/>
<path d="M431.7,131.5L433.3,131.3L434.8,131.3L436.4,131.3L438.0,131.3L439.5,131.5L441.1,131.7L442.6,132.0L444.2,132.4L445.7,132.9L445.7,132.9L444.2,133.1L442.6,133.2L441.1,133.2L439.5,133.1L438.0,132.9L436.4,132.7L434.8,132.4L433.3,132.0L431.7,131.5Z" fill="#242424"/>
<path d="M438.1,135.0L439.8,134.9L441.5,134.9L443.1,134.9L444.8,135.0L446.5,135.2L448.2,135.4L449.8,135.7L451.5,136.0L453.2,136.5L453.2,136.5L451.5,136.6L449.8,136.6L448.2,136.5L446.5,136.4L444.8,136.3L443.1,136.0L441.5,135.7L439.8,135.4L438.1,135.0Z" fill="#252525"/>
<path d="M434.8,112.4L436.6,111.8L438.4,111.2L440.2,110.7L441.9,110.3L443.7,110.0L445.5,109.8L447.3,109.6L449.1,109.5L450.8,109.6L450.8,109.6L449.1,110.2L447.3,110.8L445.5,111.3L443.7,111.7L441.9,112.0L440.2,112.2L438.4,112.4L436.6,112.5L434.8,112.4Z" fill="#252525"/>
<path d="M432.7,105.7L434.6,105.0L436.5,104.5L438.4,104.0L440.2,103.5L442.1,103.2L444.0,102.9L445.9,102.8L447.8,102.7L449.6,102.7L449.6,102.7L447.8,103.4L445.9,104.0L444.0,104.5L442.1,104.9L440.2,105.2L438.4,105.5L436.5,105.7L434.6,105.8L432.7,105.7Z" fill="#252525"/>
<path d="M459.4,112.0L460.6,111.4L461.8,111.0L463.1,110.6L464.3,110.3L465.5,110.1L466.7,110.0L467.9,109.9L469.1,109.9L470.3,110.0L470.3,110.0L469.1,110.5L467.9,111.0L466.7,111.3L465.5,111.6L464.3,111.8L463.1,112.0L461.8,112.1L460.6,112.1L459.4,112.0Z" fill="#262626"/>
<path d="M420.4,111.8L421.4,111.3L422.4,110.9L423.4,110.6L424.4,110.3L425.4,110.1L426.4,110.0L427.4,110.0L428.4,110.0L429.4,110.2L429.4,110.2L428.4,110.7L427.4,111.1L426.4,111.4L425.4,111.7L424.4,111.8L423.4,111.9L422.4,112.0L421.4,111.9L420.4,111.8Z" fill="#272727"/>
<path d="M448.6,150.6L450.4,150.4L452.1,150.3L453.8,150.3L455.5,150.3L457.2,150.5L459.0,150.8L460.7,151.1L462.4,151.6L464.1,152.1L464.1,152.1L462.4,152.4L460.7,152.4L459.0,152.4L457.2,152.4L455.5,152.2L453.8,151.9L452.1,151.6L450.4,151.1L448.6,150.6Z" fill="#282828"/>
<path d="M441.3,141.1L443.0,140.9L444.6,140.9L446.3,140.9L448.0,141.0L449.7,141.2L451.4,141.4L453.1,141.7L454.7,142.1L456.4,142.6L456.4,142.6L454.7,142.7L453.1,142.8L451.4,142.7L449.7,142.6L448.0,142.5L446.3,142.2L444.6,141.9L443.0,141.6L441.3,141.1Z" fill="#282828"/>
<path d="M448.6,108.8L449.8,108.2L451.0,107.8L452.2,107.4L453.5,107.1L454.7,106.8L455.9,106.7L457.1,106.7L458.4,106.7L459.6,106.8L459.6,106.8L458.4,107.4L457.1,107.9L455.9,108.3L454.7,108.6L453.5,108.8L452.2,109.0L451.0,109.0L449.8,109.0L448.6,108.8Z" fill="#2a2a2a"/>
<path d="M452.2,147.5L453.3,147.2L454.3,147.1L455.4,147.0L456.5,147.0L457.5,147.1L458.6,147.3L459.7,147.6L460.7,148.0L461.8,148.5L461.8,148.5L460.7,148.8L459.7,148.9L458.6,149.0L457.5,149.0L456.5,148.9L455.4,148.7L454.3,148.4L453.3,148.0L452.2,147.5Z" fill="#2b2b2b"/>
<path d="M423.0,115.7L424.1,115.1L425.2,114.6L426.2,114.3L427.3,114.0L428.4,113.8L429.5,113.7L430.6,113.7L431.6,113.7L432.7,113.9L432.7,113.9L431.6,114.5L430.6,115.0L429.5,115.3L428.4,115.6L427.3,115.8L426.2,115.9L425.2,115.9L424.1,115.9L423.0,115.7Z" fill="#2c2c2c"/>
<path d="M476.7,105.0L477.7,104.5L478.7,104.0L479.7,103.7L480.7,103.4L481.8,103.2L482.8,103.1L483.8,103.1L484.8,103.2L485.8,103.4L485.8,103.4L484.8,104.0L483.8,104.4L482.8,104.8L481.8,105.0L480.7,105.2L479.7,105.3L478.7,105.3L477.7,105.2L476.7,105.0Z" fill="#2d2d2d"/>
<path d="M464.2,109.2L465.8,108.5L467.5,108.0L469.1,107.5L470.8,107.2L472.4,106.9L474.1,106.7L475.7,106.5L477.4,106.4L479.0,106.5L479.0,106.5L477.4,107.1L475.7,107.7L474.1,108.1L472.4,108.5L470.8,108.8L469.1,109.0L467.5,109.2L465.8,109.2L464.2,109.2Z" fill="#2d2d2d"/>
<path d="M436.0,116.2L437.7,115.5L439.4,115.0L441.1,114.6L442.7,114.2L444.4,113.9L446.1,113.7L447.8,113.5L449.4,113.4L451.1,113.4L451.1,113.4L449.4,114.1L447.8,114.6L446.1,115.0L444.4,115.4L442.7,115.7L441.1,115.9L439.4,116.1L437.7,116.2L436.0,116.2Z" fill="#2d2d2d"/>
<path d="M475.4,112.0L476.6,111.4L477.8,110.9L479.0,110.5L480.1,110.2L481.3,110.0L482.5,109.9L483.7,109.8L484.9,109.9L486.1,110.0L486.1,110.0L484.9,110.6L483.7,111.1L482.5,111.5L481.3,111.8L480.1,112.0L479.0,112.1L477.8,112.2L476.6,112.1L475.4,112.0Z" fill="#313131"/>
<path d="M442.9,139.1L444.6,138.8L446.3,138.7L448.1,138.6L449.8,138.7L451.5,138.9L453.3,139.1L455.0,139.5L456.7,140.0L458.5,140.7L458.5,140.7L456.7,141.0L455.0,141.2L453.3,141.2L451.5,141.2L449.8,141.0L448.1,140.7L446.3,140.3L444.6,139.8L442.9,139.1Z" fill="#313131"/>
<path d="M414.5,101.5L416.2,100.6L417.8,99.9L419.5,99.3L421.2,98.8L422.8,98.5L424.5,98.3L426.2,98.2L427.9,98.2L429.5,98.5L429.5,98.5L427.9,99.4L426.2,100.1L424.5,100.7L422.8,101.1L421.2,101.5L419.5,101.7L417.8,101.8L416.2,101.7L414.5,101.5Z" fill="#323232"/>
<path d="M422.5,109.5L424.5,108.7L426.5,108.0L428.6,107.5L430.6,107.0L432.6,106.7L434.6,106.4L436.6,106.2L438.6,106.1L440.6,106.2L440.6,106.2L438.6,107.0L436.6,107.6L434.6,108.2L432.6,108.6L430.6,109.0L428.6,109.3L426.5,109.4L424.5,109.5L422.5,109.5Z" fill="#323232"/>
<path d="M466.5,89.5L468.0,88.7L469.4,88.1L470.9,87.6L472.3,87.2L473.7,86.9L475.2,86.7L476.6,86.6L478.0,86.7L479.5,86.9L479.5,86.9L478.0,87.7L476.6,88.4L475.2,88.9L473.7,89.3L472.3,89.6L470.9,89.7L469.4,89.8L468.0,89.7L466.5,89.5Z" fill="#323232"/>
<path d="M416.8,104.9L418.3,104.1L419.9,103.5L421.4,102.9L422.9,102.5L424.4,102.2L426.0,102.0L427.5,101.9L429.0,101.9L430.6,102.1L430.6,102.1L429.0,102.9L427.5,103.5L426.0,104.0L424.4,104.5L422.9,104.8L421.4,105.0L419.9,105.0L418.3,105.0L416.8,104.9Z" fill="#333333"/>
<path d="M435.4,86.4L437.3,85.6L439.3,84.9L441.3,84.3L443.3,83.8L445.2,83.4L447.2,83.1L449.2,82.9L451.2,82.8L453.1,82.8L453.1,82.8L451.2,83.7L449.2,84.3L447.2,84.9L445.2,85.4L443.3,85.8L441.3,86.1L439.3,86.3L437.3,86.4L435.4,86.4Z" fill="#333333"/>
<path d="M437.9,148.1L439.7,147.9L441.6,147.9L443.5,147.9L445.4,148.0L447.3,148.2L449.2,148.5L451.0,148.8L452.9,149.2L454.8,149.8L454.8,149.8L452.9,150.0L451.0,150.0L449.2,150.0L447.3,149.9L445.4,149.7L443.5,149.5L441.6,149.1L439.7,148.7L437.9,148.1Z" fill="#353535"/>
<path d="M448.7,89.7L450.4,88.9L452.0,88.2L453.7,87.6L455.4,87.1L457.1,86.8L458.8,86.6L460.4,86.5L462.1,86.5L463.8,86.7L463.8,86.7L462.1,87.6L460.4,88.3L458.8,88.8L457.1,89.3L455.4,89.6L453.7,89.9L452.0,89.9L450.4,89.9L448.7,89.7Z" fill="#363636"/>
<path d="M434.0,105.4L436.2,104.3L438.3,103.5L440.4,102.8L442.5,102.2L444.7,101.8L446.8,101.5L448.9,101.4L451.0,101.4L453.1,101.6L453.1,101.6L451.0,102.6L448.9,103.5L446.8,104.2L444.7,104.7L442.5,105.2L440.4,105.4L438.3,105.6L436.2,105.6L434.0,105.4Z" fill="#363636"/>
<path d="M428.5,89.8L430.3,89.0L432.1,88.3L433.9,87.7L435.7,87.3L437.5,86.9L439.3,86.6L441.1,86.5L442.9,86.5L444.7,86.6L444.7,86.6L442.9,87.5L441.1,88.1L439.3,88.7L437.5,89.2L435.7,89.5L433.9,89.8L432.1,89.9L430.3,90.0L428.5,89.8Z" fill="#373737"/>
<path d="M459.5,148.5L460.5,148.2L461.6,148.1L462.7,148.1L463.7,148.1L464.8,148.2L465.8,148.4L466.9,148.6L467.9,149.0L469.0,149.4L469.0,149.4L467.9,149.7L466.9,149.8L465.8,149.8L464.8,149.8L463.7,149.7L462.7,149.5L461.6,149.3L460.5,148.9L459.5,148.5Z" fill="#373737"/>
<path d="M452.7,145.2L453.9,144.8L455.0,144.6L456.1,144.5L457.2,144.5L458.4,144.6L459.5,144.8L460.6,145.2L461.8,145.6L462.9,146.2L462.9,146.2L461.8,146.6L460.6,146.8L459.5,146.9L458.4,146.9L457.2,146.8L456.1,146.6L455.0,146.3L453.9,145.8L452.7,145.2Z" fill="#393939"/>
<path d="M438.9,107.3L440.0,106.5L441.2,105.9L442.3,105.4L443.4,105.0L444.5,104.8L445.7,104.7L446.8,104.8L447.9,104.9L449.1,105.3L449.1,105.3L447.9,106.1L446.8,106.7L445.7,107.2L444.5,107.6L443.4,107.8L442.3,107.9L441.2,107.8L440.0,107.7L438.9,107.3Z" fill="#3a3a3a"/>
<path d="M416.4,93.5L419.0,92.5L421.6,91.7L424.2,91.0L426.8,90.4L429.4,89.9L432.0,89.4L434.6,89.1L437.2,88.9L439.8,88.8L439.8,88.8L437.2,89.8L434.6,90.6L432.0,91.3L429.4,91.9L426.8,92.4L424.2,92.8L421.6,93.2L419.0,93.4L416.4,93.5Z" fill="#3b3b3b"/>
<path d="M437.3,145.2L438.4,145.0L439.6,144.8L440.7,144.8L441.9,144.8L443.0,144.9L444.1,145.1L445.3,145.4L446.4,145.8L447.6,146.2L447.6,146.2L446.4,146.5L445.3,146.6L444.1,146.6L443.0,146.6L441.9,146.5L440.7,146.3L439.6,146.0L438.4,145.7L437.3,145.2Z" fill="#3b3b3b"/>
<path d="M416.8,95.6L418.9,94.8L421.0,94.1L423.0,93.5L425.1,93.0L427.2,92.5L429.2,92.2L431.3,92.0L433.4,91.9L435.4,91.9L435.4,91.9L433.4,92.8L431.3,93.5L429.2,94.1L427.2,94.6L425.1,95.0L423.0,95.3L421.0,95.5L418.9,95.7L416.8,95.6Z" fill="#3d3d3d"/>
<path d="M469.7,93.1L471.9,92.0L474.0,91.2L476.2,90.5L478.3,89.9L480.5,89.5L482.6,89.2L484.8,89.1L486.9,89.0L489.1,89.2L489.1,89.2L486.9,90.3L484.8,91.1L482.6,91.8L480.5,92.4L478.3,92.8L476.2,93.1L474.0,93.2L471.9,93.3L469.7,93.1Z" fill="#3d3d3d"/>
<path d="M458.6,101.3L460.1,100.6L461.5,100.0L463.0,99.5L464.5,99.1L466.0,98.8L467.5,98.6L469.0,98.5L470.5,98.5L471.9,98.6L471.9,98.6L470.5,99.4L469.0,100.0L467.5,100.5L466.0,100.9L464.5,101.2L463.0,101.4L461.5,101.5L460.1,101.5L458.6,101.3Z" fill="#3e3e3e"/>
<path d="M462.1,95.5L464.0,94.6L466.0,93.8L467.9,93.1L469.9,92.6L471.9,92.2L473.8,91.9L475.8,91.8L477.8,91.8L479.7,92.0L479.7,92.0L477.8,93.0L475.8,93.8L473.8,94.4L471.9,95.0L469.9,95.4L467.9,95.6L466.0,95.7L464.0,95.7L462.1,95.5Z" fill="#3e3e3e"/>
<path d="M438.1,142.5L439.2,142.2L440.3,142.1L441.4,142.1L442.5,142.1L443.6,142.2L444.7,142.4L445.8,142.7L446.9,143.0L448.0,143.5L448.0,143.5L446.9,143.7L445.8,143.9L444.7,143.9L443.6,143.9L442.5,143.8L441.4,143.6L440.3,143.3L439.2,143.0L438.1,142.5Z" fill="#3e3e3e"/>
<path d="M432.8,34.6L435.2,33.5L437.5,32.7L439.8,32.0L442.1,31.6L444.5,31.3L446.8,31.2L449.1,31.3L451.5,31.6L453.8,32.1L453.8,32.1L451.5,33.2L449.1,34.1L446.8,34.7L444.5,35.2L442.1,35.5L439.8,35.6L437.5,35.5L435.2,35.2L432.8,34.6Z" fill="#3f3f3f"/>
<path d="M457.7,105.4L459.9,104.5L462.1,103.7L464.2,103.0L466.4,102.5L468.6,102.0L470.7,101.7L472.9,101.5L475.1,101.4L477.2,101.5L477.2,101.5L475.1,102.5L472.9,103.3L470.7,104.0L468.6,104.5L466.4,104.9L464.2,105.2L462.1,105.4L459.9,105.5L457.7,105.4Z" fill="#404040"/>
<path d="M444.6,93.2L447.0,92.3L449.3,91.6L451.6,90.9L453.9,90.4L456.2,89.9L458.5,89.5L460.8,89.3L463.1,89.1L465.4,89.1L465.4,89.1L463.1,90.0L460.8,90.7L458.5,91.4L456.2,91.9L453.9,92.4L451.6,92.8L449.3,93.0L447.0,93.2L444.6,93.2Z" fill="#404040"/>
<path d="M416.8,98.2L418.0,97.3L419.1,96.7L420.3,96.2L421.5,95.8L422.7,95.6L423.9,95.5L425.0,95.5L426.2,95.7L427.4,96.0L427.4,96.0L426.2,96.9L425.0,97.5L423.9,98.0L422.7,98.4L421.5,98.7L420.3,98.7L419.1,98.7L418.0,98.5L416.8,98.2Z" fill="#404040"/>
<path d="M389.3,60.1L391.7,59.0L394.2,58.2L396.6,57.5L399.0,57.0L401.5,56.7L403.9,56.6L406.4,56.7L408.8,57.0L411.2,57.5L411.2,57.5L408.8,58.6L406.4,59.5L403.9,60.1L401.5,60.6L399.0,60.9L396.6,61.0L394.2,60.9L391.7,60.7L389.3,60.1Z" fill="#424242"/>
<path d="M452.6,142.4L453.8,142.1L455.0,141.9L456.2,141.9L457.4,141.9L458.6,142.0L459.9,142.2L461.1,142.5L462.3,143.0L463.5,143.5L463.5,143.5L462.3,143.9L461.1,144.0L459.9,144.1L458.6,144.1L457.4,144.0L456.2,143.8L455.0,143.4L453.8,143.0L452.6,142.4Z" fill="#434343"/>
<path d="M433.0,98.4L434.4,97.6L435.8,96.9L437.2,96.4L438.6,96.0L440.0,95.7L441.4,95.6L442.8,95.5L444.2,95.6L445.7,95.8L445.7,95.8L444.2,96.7L442.8,97.3L441.4,97.8L440.0,98.2L438.6,98.5L437.2,98.7L435.8,98.7L434.4,98.6L433.0,98.4Z" fill="#444444"/>
<path d="M457.8,34.2L459.3,33.3L460.9,32.7L462.5,32.2L464.0,31.8L465.6,31.6L467.2,31.6L468.8,31.7L470.3,32.0L471.9,32.5L471.9,32.5L470.3,33.4L468.8,34.1L467.2,34.6L465.6,34.9L464.0,35.1L462.5,35.2L460.9,35.0L459.3,34.7L457.8,34.2Z" fill="#464646"/>
<path d="M385.5,50.7L387.4,49.7L389.2,48.9L391.1,48.3L393.0,47.9L394.9,47.7L396.8,47.7L398.6,47.8L400.5,48.1L402.4,48.6L402.4,48.6L400.5,49.7L398.6,50.4L396.8,51.0L394.9,51.4L393.0,51.6L391.1,51.7L389.2,51.5L387.4,51.2L385.5,50.7Z" fill="#474747"/>
<path d="M438.4,31.9L442.2,30.5L446.0,29.5L449.8,28.7L453.6,28.0L457.4,27.6L461.2,27.3L465.0,27.2L468.8,27.4L472.6,27.8L472.6,27.8L468.8,29.1L465.0,30.2L461.2,31.0L457.4,31.7L453.6,32.1L449.8,32.4L446.0,32.4L442.2,32.3L438.4,31.9Z" fill="#474747"/>
<path d="M451.0,38.8L453.1,37.7L455.1,36.8L457.1,36.1L459.2,35.7L461.2,35.4L463.2,35.4L465.3,35.6L467.3,35.9L469.3,36.6L469.3,36.6L467.3,37.8L465.3,38.7L463.2,39.3L461.2,39.8L459.2,40.0L457.1,40.1L455.1,39.9L453.1,39.5L451.0,38.8Z" fill="#484848"/>
<path d="M418.4,39.4L421.5,38.2L424.6,37.2L427.7,36.4L430.8,35.9L433.9,35.5L437.0,35.3L440.1,35.4L443.2,35.6L446.3,36.1L446.3,36.1L443.2,37.3L440.1,38.3L437.0,39.0L433.9,39.6L430.8,40.0L427.7,40.1L424.6,40.1L421.5,39.9L418.4,39.4Z" fill="#494949"/>
<path d="M461.3,98.5L462.8,97.6L464.3,97.0L465.8,96.5L467.3,96.0L468.8,95.7L470.3,95.6L471.8,95.5L473.3,95.5L474.9,95.7L474.9,95.7L473.3,96.6L471.8,97.2L470.3,97.8L468.8,98.2L467.3,98.5L465.8,98.7L464.3,98.7L462.8,98.7L461.3,98.5Z" fill="#494949"/>
<path d="M433.9,101.8L435.9,100.8L437.9,100.1L440.0,99.4L442.0,98.9L444.0,98.5L446.0,98.2L448.1,98.0L450.1,98.0L452.1,98.2L452.1,98.2L450.1,99.1L448.1,99.9L446.0,100.5L444.0,101.1L442.0,101.5L440.0,101.8L437.9,101.9L435.9,102.0L433.9,101.8Z" fill="#4b4b4b"/>
<path d="M443.1,47.5L446.5,46.3L449.9,45.4L453.3,44.6L456.8,44.0L460.2,43.6L463.6,43.4L467.0,43.3L470.4,43.4L473.8,43.8L473.8,43.8L470.4,45.1L467.0,46.0L463.6,46.8L460.2,47.4L456.8,47.8L453.3,48.0L449.9,48.0L446.5,47.9L443.1,47.5Z" fill="#4c4c4c"/>
<path d="M411.9,56.2L415.8,54.9L419.8,53.9L423.7,53.0L427.7,52.4L431.6,51.9L435.5,51.6L439.5,51.5L443.4,51.6L447.3,51.9L447.3,51.9L443.4,53.2L439.5,54.2L435.5,55.1L431.6,55.7L427.7,56.2L423.7,56.5L419.8,56.6L415.8,56.5L411.9,56.2Z" fill="#4d4d4d"/>
<path d="M437.8,44.1L441.4,42.8L445.0,41.8L448.6,41.0L452.2,40.4L455.8,40.0L459.4,39.7L463.0,39.7L466.7,39.8L470.3,40.2L470.3,40.2L466.7,41.5L463.0,42.5L459.4,43.3L455.8,43.9L452.2,44.4L448.6,44.6L445.0,44.6L441.4,44.5L437.8,44.1Z" fill="#4d4d4d"/>
<path d="M405.9,51.5L409.3,50.3L412.8,49.4L416.2,48.6L419.6,48.0L423.1,47.6L426.5,47.4L429.9,47.3L433.4,47.4L436.8,47.8L436.8,47.8L433.4,49.0L429.9,49.9L426.5,50.7L423.1,51.3L419.6,51.7L416.2,51.9L412.8,52.0L409.3,51.9L405.9,51.5Z" fill="#4d4d4d"/>
<path d="M448.2,98.1L449.3,97.3L450.4,96.6L451.5,96.1L452.6,95.8L453.8,95.6L454.9,95.5L456.0,95.5L457.1,95.7L458.2,96.1L458.2,96.1L457.1,96.9L456.0,97.6L454.9,98.1L453.8,98.4L452.6,98.7L451.5,98.7L450.4,98.7L449.3,98.5L448.2,98.1Z" fill="#4e4e4e"/>
<path d="M409.6,43.5L412.2,42.4L414.8,41.5L417.4,40.9L419.9,40.4L422.5,40.1L425.1,39.9L427.7,40.0L430.3,40.2L432.9,40.8L432.9,40.8L430.3,41.9L427.7,42.8L425.1,43.4L422.5,43.9L419.9,44.2L417.4,44.4L414.8,44.3L412.2,44.1L409.6,43.5Z" fill="#4e4e4e"/>
<path d="M385.3,55.4L387.8,54.4L390.3,53.6L392.9,53.0L395.4,52.5L397.9,52.2L400.4,52.1L402.9,52.1L405.4,52.3L407.9,52.7L407.9,52.7L405.4,53.7L402.9,54.4L400.4,55.1L397.9,55.5L395.4,55.8L392.9,56.0L390.3,56.0L387.8,55.8L385.3,55.4Z" fill="#4f4f4f"/>
<path d="M440.5,95.3L442.3,94.5L444.0,93.8L445.7,93.2L447.4,92.7L449.1,92.4L450.8,92.2L452.5,92.1L454.2,92.1L455.9,92.2L455.9,92.2L454.2,93.1L452.5,93.8L450.8,94.4L449.1,94.8L447.4,95.2L445.7,95.4L444.0,95.5L442.3,95.5L440.5,95.3Z" fill="#525252"/>
<path d="M410.5,47.3L413.4,46.0L416.4,45.0L419.4,44.3L422.3,43.7L425.3,43.3L428.3,43.2L431.2,43.3L434.2,43.5L437.2,44.1L437.2,44.1L434.2,45.4L431.2,46.3L428.3,47.1L425.3,47.7L422.3,48.0L419.4,48.2L416.4,48.1L413.4,47.8L410.5,47.3Z" fill="#5b5b5b"/>
</g>
<g filter="url(#b0p9_0p5)">
<path d="M380.0,78.0L381.7,77.5L383.5,77.0L385.2,76.6L387.0,76.3L388.7,75.9L390.4,75.6L392.2,75.3L393.9,75.0L395.7,74.7L397.4,74.4L399.1,74.2L400.9,73.9L402.6,73.7L404.3,73.6L406.1,73.4L407.8,73.3L409.6,73.3L411.3,73.3L413.0,73.3L414.8,73.4L416.5,73.5L418.3,73.7L420.0,74.0L420.0,74.0L418.3,74.7L416.5,75.2L414.8,75.7L413.0,76.1L411.3,76.5L409.6,76.8L407.8,77.1L406.1,77.4L404.3,77.6L402.6,77.7L400.9,77.9L399.1,78.0L397.4,78.1L395.7,78.2L393.9,78.3L392.2,78.3L390.4,78.3L388.7,78.4L387.0,78.3L385.2,78.3L383.5,78.3L381.7,78.2L380.0,78.0Z" fill="#383838"/>
<path d="M374.0,72.0L376.0,71.4L378.0,70.8L380.0,70.3L382.0,69.8L384.0,69.3L386.0,68.9L388.0,68.4L390.0,68.0L392.0,67.6L394.0,67.2L396.0,66.9L398.0,66.5L400.0,66.2L402.0,65.9L404.0,65.6L406.0,65.3L408.0,65.1L410.0,65.0L412.0,65.0L414.0,65.1L416.0,65.2L418.0,65.5L420.0,66.0L420.0,66.0L418.0,67.0L416.0,67.8L414.0,68.5L412.0,69.1L410.0,69.6L408.0,70.0L406.0,70.3L404.0,70.6L402.0,70.8L400.0,71.0L398.0,71.2L396.0,71.4L394.0,71.5L392.0,71.7L390.0,71.8L388.0,71.9L386.0,72.0L384.0,72.1L382.0,72.1L380.0,72.1L378.0,72.2L376.0,72.1L374.0,72.0Z" fill="#474747"/>
<path d="M381.6,75.7L385.0,73.7L388.3,72.0L391.7,70.5L395.1,69.1L398.4,67.7L401.8,66.5L405.2,65.2L408.5,64.0L411.9,62.9L415.2,61.9L418.6,60.8L422.0,59.9L425.3,59.0L428.7,58.2L432.1,57.4L435.4,56.7L438.8,56.1L442.1,55.6L445.5,55.2L448.9,55.0L452.2,54.9L455.6,55.0L459.0,55.3L462.3,55.6L465.7,56.2L469.0,56.8L472.4,57.6L475.8,58.7L479.1,60.3L479.1,60.3L475.8,62.9L472.4,65.0L469.0,66.8L465.7,68.5L462.3,70.1L459.0,71.5L455.6,72.8L452.2,74.0L448.9,75.0L445.5,75.8L442.1,76.5L438.8,77.1L435.4,77.6L432.1,78.0L428.7,78.4L425.3,78.7L422.0,78.9L418.6,79.1L415.2,79.2L411.9,79.2L408.5,79.1L405.2,79.0L401.8,78.8L398.4,78.6L395.1,78.2L391.7,77.8L388.3,77.3L385.0,76.7L381.6,75.7Z" fill="#4c4c4c"/>
<path d="M405.0,80.5L408.3,79.4L411.6,78.5L414.9,77.7L418.2,76.9L421.5,76.2L424.8,75.5L428.1,74.8L431.4,74.2L434.7,73.6L438.0,73.0L441.3,72.5L444.7,72.0L448.0,71.5L451.3,71.1L454.6,70.7L457.9,70.4L461.2,70.0L464.5,69.8L467.8,70.0L471.1,70.4L474.4,71.1L477.7,72.2L481.0,73.8L481.0,73.8L477.7,76.0L474.4,77.6L471.1,79.0L467.8,80.0L464.5,80.7L461.2,81.0L457.9,81.3L454.6,81.5L451.3,81.7L448.0,81.9L444.7,82.0L441.3,82.1L438.0,82.1L434.7,82.2L431.4,82.1L428.1,82.1L424.8,82.0L421.5,81.9L418.2,81.7L414.9,81.6L411.6,81.3L408.3,81.0L405.0,80.5Z" fill="#4c4c4c"/>
<path d="M424.0,87.5L426.0,86.5L428.0,85.7L430.0,85.0L432.0,84.4L434.0,83.8L436.0,83.2L438.0,82.7L440.0,82.3L442.0,81.9L444.0,81.5L446.0,81.2L448.0,81.0L450.0,80.8L452.0,80.6L454.0,80.6L456.0,80.6L458.0,80.7L460.0,80.9L462.0,81.1L464.0,81.4L466.0,81.8L468.0,82.3L470.0,83.0L470.0,83.0L468.0,84.1L466.0,85.0L464.0,85.8L462.0,86.5L460.0,87.1L458.0,87.7L456.0,88.1L454.0,88.6L452.0,88.9L450.0,89.2L448.0,89.3L446.0,89.5L444.0,89.6L442.0,89.6L440.0,89.6L438.0,89.5L436.0,89.4L434.0,89.2L432.0,89.0L430.0,88.8L428.0,88.5L426.0,88.1L424.0,87.5Z" fill="#4c4c4c"/>
<path d="M418.0,38.0L420.4,37.4L422.9,36.8L425.3,36.4L427.7,35.9L430.2,35.5L432.6,35.1L435.0,34.7L437.5,34.4L439.9,34.0L442.3,33.7L444.8,33.4L447.2,33.2L449.7,33.0L452.1,32.8L454.5,32.7L457.0,32.5L459.4,32.5L461.8,32.5L464.3,32.5L466.7,32.5L469.1,32.6L471.6,32.7L474.0,33.0L474.0,33.0L471.6,33.7L469.1,34.3L466.7,34.8L464.3,35.3L461.8,35.7L459.4,36.1L457.0,36.5L454.5,36.8L452.1,37.1L449.7,37.4L447.2,37.6L444.8,37.8L442.3,37.9L439.9,38.1L437.5,38.2L435.0,38.3L432.6,38.3L430.2,38.3L427.7,38.3L425.3,38.3L422.9,38.3L420.4,38.2L418.0,38.0Z" fill="#4f4f4f"/>
<path d="M390.0,52.5L393.6,51.6L397.1,50.9L400.7,50.2L404.3,49.5L407.8,48.8L411.4,48.1L415.0,47.5L418.5,46.9L422.1,46.4L425.7,45.8L429.2,45.3L432.8,44.8L436.3,44.4L439.9,43.9L443.5,43.6L447.0,43.2L450.6,42.9L454.2,42.7L457.7,42.4L461.3,42.2L464.9,42.1L468.4,42.0L472.0,42.0L472.0,42.0L468.4,42.9L464.9,43.8L461.3,44.5L457.7,45.2L454.2,45.9L450.6,46.6L447.0,47.2L443.5,47.7L439.9,48.3L436.3,48.8L432.8,49.2L429.2,49.6L425.7,50.0L422.1,50.4L418.5,50.8L415.0,51.1L411.4,51.4L407.8,51.6L404.3,51.9L400.7,52.1L397.1,52.3L393.6,52.5L390.0,52.5Z" fill="#4f4f4f"/>
<path d="M384.0,59.5L387.8,58.7L391.7,58.1L395.5,57.5L399.3,56.9L403.1,56.3L407.0,55.8L410.8,55.3L414.6,54.8L418.4,54.3L422.3,53.9L426.1,53.5L429.9,53.1L433.7,52.8L437.6,52.5L441.4,52.2L445.2,52.0L449.0,51.8L452.9,51.6L456.7,51.5L460.5,51.4L464.3,51.4L468.2,51.4L472.0,51.5L472.0,51.5L468.2,52.3L464.3,53.0L460.5,53.7L456.7,54.3L452.9,54.9L449.0,55.4L445.2,55.9L441.4,56.4L437.6,56.8L433.7,57.2L429.9,57.5L426.1,57.8L422.3,58.1L418.4,58.4L414.6,58.6L410.8,58.8L407.0,59.0L403.1,59.2L399.3,59.3L395.5,59.4L391.7,59.5L387.8,59.6L384.0,59.5Z" fill="#525252"/>
<path d="M440.0,44.5L441.2,44.1L442.4,43.8L443.7,43.5L444.9,43.2L446.1,42.9L447.3,42.6L448.5,42.4L449.7,42.2L451.0,41.9L452.2,41.7L453.4,41.5L454.6,41.4L455.8,41.2L457.0,41.1L458.3,41.0L459.5,40.9L460.7,40.8L461.9,40.8L463.1,40.8L464.3,40.8L465.6,40.8L466.8,40.9L468.0,41.0L468.0,41.0L466.8,41.4L465.6,41.8L464.3,42.1L463.1,42.4L461.9,42.7L460.7,43.0L459.5,43.2L458.3,43.5L457.0,43.6L455.8,43.8L454.6,44.0L453.4,44.1L452.2,44.2L451.0,44.3L449.7,44.4L448.5,44.5L447.3,44.5L446.1,44.6L444.9,44.6L443.7,44.6L442.4,44.6L441.2,44.6L440.0,44.5Z" fill="#6b6b6b"/>
<path d="M394.3,74.0L397.2,72.3L400.0,70.9L402.9,69.6L405.7,68.4L408.6,67.3L411.4,66.2L414.3,65.2L417.2,64.2L420.0,63.2L422.9,62.3L425.7,61.4L428.6,60.6L431.5,59.9L434.3,59.2L437.2,58.6L440.0,58.0L442.9,57.5L445.7,57.0L448.6,56.7L451.5,56.5L454.3,56.4L457.2,56.5L460.0,56.6L462.9,56.9L465.7,57.3L468.6,57.9L471.5,58.5L474.3,59.3L477.2,60.6L477.2,60.6L474.3,62.9L471.5,64.8L468.6,66.4L465.7,67.9L462.9,69.3L460.0,70.6L457.2,71.7L454.3,72.7L451.5,73.6L448.6,74.3L445.7,75.0L442.9,75.4L440.0,75.9L437.2,76.2L434.3,76.5L431.5,76.8L428.6,76.9L425.7,77.1L422.9,77.1L420.0,77.1L417.2,77.1L414.3,77.0L411.4,76.8L408.6,76.6L405.7,76.3L402.9,75.9L400.0,75.5L397.2,74.9L394.3,74.0Z" fill="#6b6b6b"/>
<path d="M452.0,36.0L452.8,35.6L453.7,35.3L454.5,35.1L455.3,34.8L456.1,34.5L457.0,34.3L457.8,34.1L458.6,33.9L459.4,33.7L460.3,33.6L461.1,33.4L461.9,33.3L462.7,33.2L463.6,33.1L464.4,33.0L465.2,33.0L466.0,33.0L466.9,33.0L467.7,33.0L468.5,33.1L469.3,33.2L470.2,33.3L471.0,33.5L471.0,33.5L470.2,33.9L469.3,34.3L468.5,34.6L467.7,34.8L466.9,35.1L466.0,35.3L465.2,35.5L464.4,35.7L463.6,35.9L462.7,36.0L461.9,36.1L461.1,36.2L460.3,36.3L459.4,36.3L458.6,36.3L457.8,36.4L457.0,36.4L456.1,36.4L455.3,36.3L454.5,36.3L453.7,36.2L452.8,36.2L452.0,36.0Z" fill="#737373"/>
<path d="M410.0,79.8L413.0,78.8L416.1,78.1L419.1,77.4L422.2,76.7L425.2,76.1L428.3,75.4L431.3,74.9L434.3,74.3L437.4,73.8L440.4,73.3L443.5,72.8L446.5,72.4L449.6,72.0L452.6,71.6L455.7,71.3L458.7,71.0L461.7,70.7L464.8,70.5L467.8,70.6L470.9,71.0L473.9,71.7L477.0,72.6L480.0,74.0L480.0,74.0L477.0,75.9L473.9,77.3L470.9,78.5L467.8,79.4L464.8,80.0L461.7,80.3L458.7,80.5L455.7,80.7L452.6,80.9L449.6,81.0L446.5,81.1L443.5,81.2L440.4,81.3L437.4,81.3L434.3,81.2L431.3,81.2L428.3,81.1L425.2,81.0L422.2,80.9L419.1,80.7L416.1,80.5L413.0,80.3L410.0,79.8Z" fill="#737373"/>
<path d="M423.0,83.0L424.2,82.3L425.3,81.8L426.5,81.3L427.7,80.9L428.9,80.5L430.0,80.2L431.2,79.9L432.4,79.6L433.6,79.4L434.7,79.2L435.9,79.0L437.1,78.9L438.3,78.8L439.4,78.8L440.6,78.8L441.8,78.9L443.0,79.0L444.1,79.1L445.3,79.3L446.5,79.5L447.7,79.7L448.8,80.0L450.0,80.5L450.0,80.5L448.8,81.2L447.7,81.7L446.5,82.2L445.3,82.6L444.1,83.0L443.0,83.3L441.8,83.6L440.6,83.9L439.4,84.1L438.3,84.3L437.1,84.5L435.9,84.6L434.7,84.7L433.6,84.7L432.4,84.7L431.2,84.6L430.0,84.5L428.9,84.4L427.7,84.2L426.5,84.0L425.3,83.8L424.2,83.5L423.0,83.0Z" fill="#787878"/>
<path d="M401.1,73.0L403.7,71.6L406.3,70.4L408.9,69.3L411.5,68.2L414.1,67.2L416.7,66.3L419.2,65.4L421.8,64.5L424.4,63.7L427.0,62.9L429.6,62.1L432.2,61.4L434.8,60.7L437.4,60.1L440.0,59.6L442.5,59.1L445.1,58.6L447.7,58.2L450.3,57.9L452.9,57.7L455.5,57.6L458.1,57.6L460.7,57.7L463.3,57.9L465.8,58.2L468.4,58.6L471.0,59.1L473.6,59.7L476.2,60.8L476.2,60.8L473.6,62.9L471.0,64.5L468.4,66.0L465.8,67.3L463.3,68.6L460.7,69.7L458.1,70.7L455.5,71.6L452.9,72.4L450.3,73.1L447.7,73.6L445.1,74.1L442.5,74.5L440.0,74.8L437.4,75.1L434.8,75.3L432.2,75.4L429.6,75.6L427.0,75.6L424.4,75.7L421.8,75.6L419.2,75.5L416.7,75.4L414.1,75.2L411.5,75.0L408.9,74.7L406.3,74.3L403.7,73.8L401.1,73.0Z" fill="#808080"/>
<path d="M438.0,53.5L439.3,53.1L440.6,52.8L441.9,52.5L443.2,52.2L444.5,51.9L445.8,51.7L447.1,51.4L448.4,51.2L449.7,51.1L451.0,50.9L452.3,50.7L453.7,50.6L455.0,50.5L456.3,50.4L457.6,50.4L458.9,50.3L460.2,50.3L461.5,50.4L462.8,50.4L464.1,50.5L465.4,50.6L466.7,50.8L468.0,51.0L468.0,51.0L466.7,51.5L465.4,51.8L464.1,52.2L462.8,52.5L461.5,52.7L460.2,53.0L458.9,53.2L457.6,53.4L456.3,53.6L455.0,53.7L453.7,53.8L452.3,53.9L451.0,53.9L449.7,54.0L448.4,54.0L447.1,54.0L445.8,54.0L444.5,54.0L443.2,53.9L441.9,53.9L440.6,53.8L439.3,53.7L438.0,53.5Z" fill="#858585"/>
<path d="M415.0,79.4L417.8,78.6L420.6,77.9L423.3,77.2L426.1,76.7L428.9,76.1L431.7,75.6L434.5,75.0L437.3,74.6L440.0,74.1L442.8,73.7L445.6,73.3L448.4,72.9L451.2,72.5L454.0,72.2L456.7,71.9L459.5,71.6L462.3,71.4L465.1,71.2L467.9,71.3L470.7,71.6L473.4,72.2L476.2,73.0L479.0,74.2L479.0,74.2L476.2,75.9L473.4,77.1L470.7,78.1L467.9,78.9L465.1,79.5L462.3,79.8L459.5,80.0L456.7,80.1L454.0,80.3L451.2,80.4L448.4,80.5L445.6,80.6L442.8,80.6L440.0,80.6L437.3,80.6L434.5,80.6L431.7,80.5L428.9,80.4L426.1,80.3L423.3,80.2L420.6,80.0L417.8,79.8L415.0,79.4Z" fill="#858585"/>
<path d="M406.0,72.3L408.4,71.1L410.7,70.1L413.1,69.1L415.4,68.2L417.8,67.4L420.1,66.5L422.5,65.7L424.8,65.0L427.2,64.3L429.5,63.6L431.9,63.0L434.2,62.3L436.6,61.8L438.9,61.3L441.3,60.8L443.7,60.3L446.0,59.9L448.4,59.6L450.7,59.3L453.1,59.2L455.4,59.1L457.8,59.0L460.1,59.1L462.5,59.2L464.8,59.4L467.2,59.6L469.5,60.0L471.9,60.4L474.2,61.1L474.2,61.1L471.9,62.8L469.5,64.1L467.2,65.4L464.8,66.5L462.5,67.5L460.1,68.5L457.8,69.3L455.4,70.1L453.1,70.8L450.7,71.5L448.4,72.0L446.0,72.4L443.7,72.8L441.3,73.1L438.9,73.4L436.6,73.7L434.2,73.8L431.9,74.0L429.5,74.1L427.2,74.2L424.8,74.2L422.5,74.1L420.1,74.1L417.8,74.0L415.4,73.8L413.1,73.6L410.7,73.3L408.4,72.9L406.0,72.3Z" fill="#949494"/>
<path d="M420.0,79.0L422.5,78.3L425.0,77.7L427.5,77.2L430.0,76.6L432.5,76.2L435.0,75.7L437.5,75.3L440.0,74.8L442.5,74.4L445.0,74.1L447.5,73.7L450.0,73.4L452.5,73.1L455.0,72.8L457.5,72.6L460.0,72.3L462.5,72.1L465.0,72.1L467.5,72.2L470.0,72.5L472.5,72.9L475.0,73.4L477.5,74.3L477.5,74.3L475.0,75.6L472.5,76.6L470.0,77.4L467.5,78.0L465.0,78.6L462.5,78.9L460.0,79.1L457.5,79.3L455.0,79.5L452.5,79.6L450.0,79.7L447.5,79.8L445.0,79.8L442.5,79.9L440.0,79.9L437.5,79.9L435.0,79.8L432.5,79.8L430.0,79.7L427.5,79.6L425.0,79.5L422.5,79.3L420.0,79.0Z" fill="#9e9e9e"/>
<path d="M409.9,71.7L412.1,70.7L414.2,69.9L416.4,69.1L418.5,68.3L420.7,67.6L422.8,66.9L425.0,66.3L427.1,65.6L429.3,65.0L431.4,64.5L433.6,63.9L435.7,63.4L437.9,62.9L440.0,62.5L442.2,62.1L444.3,61.7L446.5,61.4L448.6,61.1L450.8,60.9L452.9,60.7L455.1,60.5L457.2,60.5L459.4,60.4L461.5,60.4L463.7,60.5L465.8,60.6L468.0,60.8L470.1,61.0L472.3,61.5L472.3,61.5L470.1,62.8L468.0,63.9L465.8,64.8L463.7,65.7L461.5,66.6L459.4,67.4L457.2,68.1L455.1,68.8L452.9,69.4L450.8,69.9L448.6,70.4L446.5,70.8L444.3,71.2L442.2,71.5L440.0,71.8L437.9,72.1L435.7,72.3L433.6,72.5L431.4,72.6L429.3,72.7L427.1,72.8L425.0,72.8L422.8,72.8L420.7,72.8L418.5,72.7L416.4,72.6L414.2,72.4L412.1,72.2L409.9,71.7Z" fill="#a8a8a8"/>
<path d="M412.8,71.3L414.8,70.5L416.7,69.8L418.7,69.2L420.6,68.6L422.6,68.0L424.5,67.4L426.5,66.9L428.4,66.4L430.4,65.9L432.3,65.4L434.3,65.0L436.2,64.5L438.2,64.1L440.1,63.7L442.1,63.4L444.0,63.1L446.0,62.8L447.9,62.5L449.9,62.3L451.8,62.1L453.8,61.9L455.7,61.8L457.7,61.7L459.6,61.6L461.6,61.6L463.5,61.6L465.5,61.7L467.4,61.8L469.4,62.0L469.4,62.0L467.4,63.0L465.5,63.8L463.5,64.5L461.6,65.2L459.6,65.9L457.7,66.5L455.7,67.1L453.8,67.6L451.8,68.1L449.9,68.6L447.9,69.0L446.0,69.4L444.0,69.8L442.1,70.1L440.1,70.4L438.2,70.6L436.2,70.8L434.3,71.0L432.3,71.2L430.4,71.3L428.4,71.5L426.5,71.6L424.5,71.6L422.6,71.7L420.6,71.7L418.7,71.7L416.7,71.6L414.8,71.5L412.8,71.3Z" fill="#b8b8b8"/>
<path d="M426.0,78.5L428.2,77.9L430.3,77.4L432.5,77.0L434.7,76.5L436.9,76.1L439.0,75.8L441.2,75.4L443.4,75.0L445.6,74.7L447.7,74.4L449.9,74.1L452.1,73.8L454.3,73.6L456.4,73.3L458.6,73.1L460.8,72.9L463.0,72.8L465.1,72.8L467.3,72.9L469.5,73.1L471.7,73.4L473.8,73.8L476.0,74.4L476.0,74.4L473.8,75.4L471.7,76.2L469.5,76.8L467.3,77.3L465.1,77.8L463.0,78.1L460.8,78.3L458.6,78.5L456.4,78.7L454.3,78.8L452.1,78.9L449.9,79.0L447.7,79.0L445.6,79.1L443.4,79.1L441.2,79.1L439.0,79.1L436.9,79.1L434.7,79.0L432.5,79.0L430.3,78.9L428.2,78.7L426.0,78.5Z" fill="#b8b8b8"/>
<path d="M415.8,70.8L417.4,70.2L419.0,69.7L420.6,69.2L422.2,68.7L423.8,68.3L425.4,67.8L427.0,67.4L428.7,67.0L430.3,66.6L431.9,66.3L433.5,65.9L435.1,65.6L436.7,65.3L438.3,65.0L440.0,64.7L441.6,64.5L443.2,64.3L444.8,64.1L446.4,63.9L448.0,63.7L449.6,63.6L451.3,63.4L452.9,63.3L454.5,63.2L456.1,63.2L457.7,63.1L459.3,63.1L460.9,63.1L462.6,63.2L462.6,63.2L460.9,63.8L459.3,64.4L457.7,64.9L456.1,65.4L454.5,65.9L452.9,66.3L451.3,66.8L449.6,67.2L448.0,67.6L446.4,68.0L444.8,68.3L443.2,68.6L441.6,68.9L440.0,69.2L438.3,69.5L436.7,69.7L435.1,70.0L433.5,70.2L431.9,70.3L430.3,70.5L428.7,70.6L427.0,70.7L425.4,70.8L423.8,70.9L422.2,71.0L420.6,71.0L419.0,71.0L417.4,71.0L415.8,70.8Z" fill="#cccccc"/>
<path d="M434.0,77.8L435.8,77.3L437.5,77.0L439.3,76.6L441.0,76.3L442.8,76.0L444.6,75.7L446.3,75.4L448.1,75.1L449.8,74.9L451.6,74.6L453.4,74.4L455.1,74.2L456.9,74.0L458.7,73.9L460.4,73.7L462.2,73.6L463.9,73.5L465.7,73.5L467.5,73.6L469.2,73.7L471.0,73.9L472.7,74.2L474.5,74.6L474.5,74.6L472.7,75.3L471.0,75.8L469.2,76.3L467.5,76.7L465.7,77.0L463.9,77.3L462.2,77.6L460.4,77.7L458.7,77.8L456.9,78.0L455.1,78.0L453.4,78.1L451.6,78.2L449.8,78.2L448.1,78.3L446.3,78.3L444.6,78.3L442.8,78.2L441.0,78.2L439.3,78.2L437.5,78.1L435.8,78.0L434.0,77.8Z" fill="#d1d1d1"/>
<path d="M419.6,70.2L420.9,69.8L422.1,69.4L423.3,69.0L424.5,68.7L425.7,68.4L426.9,68.1L428.1,67.8L429.3,67.5L430.5,67.2L431.8,66.9L433.0,66.7L434.2,66.4L435.4,66.2L436.6,66.0L437.8,65.8L439.0,65.6L440.2,65.4L441.4,65.3L442.6,65.1L443.9,65.0L445.1,64.9L446.3,64.8L447.5,64.7L448.7,64.6L449.9,64.5L451.1,64.5L452.3,64.5L453.5,64.4L454.8,64.5L454.8,64.5L453.5,64.9L452.3,65.3L451.1,65.7L449.9,66.0L448.7,66.3L447.5,66.6L446.3,66.9L445.1,67.2L443.9,67.5L442.6,67.8L441.4,68.0L440.2,68.2L439.0,68.5L437.8,68.7L436.6,68.9L435.4,69.1L434.2,69.2L433.0,69.4L431.8,69.5L430.5,69.7L429.3,69.8L428.1,69.9L426.9,70.0L425.7,70.1L424.5,70.1L423.3,70.2L422.1,70.2L420.9,70.3L419.6,70.2Z" fill="#e0e0e0"/>
<path d="M446.0,76.9L447.1,76.6L448.2,76.3L449.3,76.1L450.3,75.9L451.4,75.7L452.5,75.5L453.6,75.3L454.7,75.2L455.8,75.0L456.9,74.9L458.0,74.7L459.0,74.6L460.1,74.5L461.2,74.4L462.3,74.4L463.4,74.4L464.5,74.3L465.6,74.4L466.7,74.4L467.7,74.5L468.8,74.6L469.9,74.8L471.0,75.0L471.0,75.0L469.9,75.4L468.8,75.7L467.7,76.0L466.7,76.2L465.6,76.4L464.5,76.6L463.4,76.8L462.3,76.9L461.2,77.0L460.1,77.1L459.0,77.2L458.0,77.2L456.9,77.3L455.8,77.3L454.7,77.3L453.6,77.3L452.5,77.3L451.4,77.3L450.3,77.2L449.3,77.2L448.2,77.1L447.1,77.0L446.0,76.9Z" fill="#f2f2f2"/>
<path d="M423.6,69.6L424.4,69.3L425.3,69.1L426.2,68.8L427.0,68.6L427.9,68.4L428.8,68.2L429.7,67.9L430.5,67.7L431.4,67.6L432.3,67.4L433.2,67.2L434.0,67.0L434.9,66.9L435.8,66.7L436.7,66.6L437.5,66.4L438.4,66.3L439.3,66.2L440.2,66.1L441.0,66.0L441.9,65.9L442.8,65.8L443.7,65.7L444.5,65.7L445.4,65.6L446.3,65.5L447.2,65.5L448.0,65.5L448.9,65.5L448.9,65.5L448.0,65.7L447.2,66.0L446.3,66.2L445.4,66.4L444.5,66.7L443.7,66.9L442.8,67.1L441.9,67.3L441.0,67.4L440.2,67.6L439.3,67.8L438.4,68.0L437.5,68.1L436.7,68.3L435.8,68.4L434.9,68.5L434.0,68.7L433.2,68.8L432.3,68.9L431.4,69.0L430.5,69.1L429.7,69.2L428.8,69.3L427.9,69.4L427.0,69.4L426.2,69.5L425.3,69.6L424.4,69.6L423.6,69.6Z" fill="#f7f7f7"/>
</g>
</g></g>
<rect x="308.5" y="8.5" width="195.00" height="167.00" fill="none" stroke="#949494" stroke-width="1"/>
<path d="M308.5,158.80h2M503.5,158.80h-2M308.5,125.40h2M503.5,125.40h-2M308.5,92.00h2M503.5,92.00h-2M308.5,58.60h2M503.5,58.60h-2M308.5,25.20h2M503.5,25.20h-2M308.50,175.5v-2M308.50,8.5v2M357.25,175.5v-2M357.25,8.5v2M406.00,175.5v-2M406.00,8.5v2M454.75,175.5v-2M454.75,8.5v2M503.50,175.5v-2M503.50,8.5v2" stroke="#949494" stroke-width="0.8" fill="none"/>
<g clip-path="url(#clipc)"><g filter="url(#cm)">
<rect x="2.5" y="190.5" width="257.0" height="228.0" fill="#000"/>
<g filter="url(#b2p5_1p5)">
<path d="M90.0,300.0L96.0,287.9L102.0,281.0L108.0,275.3L114.0,270.3L120.0,265.9L126.0,261.8L132.0,258.2L138.0,254.8L144.0,251.9L150.0,249.2L156.0,246.9L162.0,244.9L168.0,243.1L174.0,241.8L180.0,240.9L186.0,240.8L192.0,241.4L198.0,242.8L204.0,244.9L210.0,247.8L216.0,251.9L222.0,257.5L228.0,270.0L228.0,270.0L222.0,281.7L216.0,288.2L210.0,293.5L204.0,298.0L198.0,301.8L192.0,305.1L186.0,307.9L180.0,310.1L174.0,311.7L168.0,313.0L162.0,314.0L156.0,314.7L150.0,315.3L144.0,315.6L138.0,315.6L132.0,315.4L126.0,314.9L120.0,314.2L114.0,313.1L108.0,311.6L102.0,309.7L96.0,306.8L90.0,300.0Z" fill="#090909"/>
<path d="M126.1,282.7L129.1,280.1L132.2,278.1L135.2,276.2L138.3,274.4L141.4,272.7L144.4,271.1L147.5,269.5L150.5,268.0L153.6,266.6L156.6,265.2L159.7,263.9L162.8,262.7L165.8,261.6L168.9,260.5L171.9,259.4L175.0,258.5L178.0,257.6L181.1,256.8L184.2,256.1L187.2,255.4L190.3,254.8L193.3,254.3L196.4,254.3L199.4,254.9L202.5,256.2L205.6,258.2L208.6,260.7L211.7,263.9L214.7,268.6L214.7,268.6L211.7,270.9L208.6,272.7L205.6,274.2L202.5,275.6L199.4,276.7L196.4,277.6L193.3,278.3L190.3,278.8L187.2,279.2L184.2,279.7L181.1,280.1L178.0,280.5L175.0,280.8L171.9,281.2L168.9,281.5L165.8,281.8L162.8,282.0L159.7,282.3L156.6,282.5L153.6,282.7L150.5,282.8L147.5,282.9L144.4,283.1L141.4,283.1L138.3,283.2L135.2,283.2L132.2,283.1L129.1,283.0L126.1,282.7Z" fill="#171717"/>
<path d="M115.0,308.0L118.9,305.7L122.8,303.9L126.7,302.3L130.7,300.8L134.6,299.4L138.5,298.1L142.4,297.0L146.3,296.0L150.2,295.1L154.1,294.4L158.0,293.8L162.0,293.3L165.9,292.9L169.8,292.7L173.7,292.6L177.6,292.7L181.5,292.9L185.4,293.2L189.3,293.6L193.3,294.1L197.2,294.8L201.1,295.7L205.0,297.0L205.0,297.0L201.1,299.3L197.2,301.1L193.3,302.7L189.3,304.2L185.4,305.6L181.5,306.9L177.6,308.0L173.7,309.0L169.8,309.9L165.9,310.6L162.0,311.2L158.0,311.7L154.1,312.1L150.2,312.3L146.3,312.4L142.4,312.3L138.5,312.1L134.6,311.8L130.7,311.4L126.7,310.9L122.8,310.2L118.9,309.3L115.0,308.0Z" fill="#212121"/>
<path d="M140.8,279.6L143.3,277.7L145.7,276.2L148.2,274.8L150.6,273.5L153.1,272.2L155.5,271.0L158.0,269.9L160.4,268.8L162.9,267.8L165.3,266.8L167.8,265.9L170.2,265.0L172.6,264.1L175.1,263.4L177.5,262.7L180.0,262.0L182.4,261.4L184.9,260.8L187.3,260.3L189.8,259.9L192.2,259.5L194.7,259.5L197.1,259.8L199.5,260.3L202.0,261.2L204.4,262.3L206.9,263.7L209.3,265.5L211.8,268.1L211.8,268.1L209.3,269.5L206.9,270.7L204.4,271.7L202.0,272.7L199.5,273.5L197.1,274.3L194.7,274.9L192.2,275.4L189.8,275.9L187.3,276.3L184.9,276.6L182.4,277.0L180.0,277.3L177.5,277.6L175.1,277.9L172.6,278.1L170.2,278.4L167.8,278.6L165.3,278.8L162.9,279.0L160.4,279.2L158.0,279.3L155.5,279.4L153.1,279.6L150.6,279.6L148.2,279.7L145.7,279.8L143.3,279.7L140.8,279.6Z" fill="#262626"/>
</g>
<g filter="url(#b1p5_0p6)">
<path d="M164.6,327.2L165.8,326.9L167.1,326.7L168.3,326.7L169.5,326.7L170.8,326.9L172.0,327.2L173.3,327.6L174.5,328.1L175.7,328.8L175.7,328.8L174.5,329.1L173.3,329.3L172.0,329.3L170.8,329.3L169.5,329.1L168.3,328.8L167.1,328.4L165.8,327.9L164.6,327.2Z" fill="#333333"/>
<path d="M157.3,316.1L158.5,315.8L159.7,315.6L160.9,315.6L162.2,315.6L163.4,315.8L164.6,316.1L165.8,316.5L167.1,317.0L168.3,317.6L168.3,317.6L167.1,317.9L165.8,318.1L164.6,318.1L163.4,318.0L162.2,317.9L160.9,317.6L159.7,317.2L158.5,316.7L157.3,316.1Z" fill="#333333"/>
<path d="M172.9,315.9L174.4,315.7L175.9,315.6L177.4,315.7L178.9,315.8L180.4,316.0L181.9,316.3L183.4,316.7L184.9,317.2L186.4,317.8L186.4,317.8L184.9,318.0L183.4,318.0L181.9,318.0L180.4,317.9L178.9,317.7L177.4,317.4L175.9,317.0L174.4,316.5L172.9,315.9Z" fill="#373737"/>
<path d="M185.2,323.8L186.1,323.5L187.1,323.3L188.1,323.2L189.0,323.3L190.0,323.4L191.0,323.6L191.9,324.0L192.9,324.4L193.9,325.0L193.9,325.0L192.9,325.4L191.9,325.5L191.0,325.6L190.0,325.6L189.0,325.4L188.1,325.2L187.1,324.8L186.1,324.4L185.2,323.8Z" fill="#373737"/>
<path d="M140.6,323.4L142.2,323.3L143.8,323.2L145.4,323.3L146.9,323.4L148.5,323.7L150.1,324.0L151.7,324.4L153.3,324.8L154.9,325.4L154.9,325.4L153.3,325.6L151.7,325.6L150.1,325.5L148.5,325.4L146.9,325.2L145.4,324.9L143.8,324.5L142.2,324.0L140.6,323.4Z" fill="#3b3b3b"/>
<path d="M137.0,315.7L138.9,315.5L140.7,315.4L142.5,315.5L144.3,315.6L146.1,315.9L147.9,316.2L149.7,316.7L151.5,317.3L153.4,318.0L153.4,318.0L151.5,318.2L149.7,318.3L147.9,318.2L146.1,318.1L144.3,317.8L142.5,317.5L140.7,317.0L138.9,316.4L137.0,315.7Z" fill="#3b3b3b"/>
<path d="M142.9,319.6L144.6,319.4L146.2,319.4L147.9,319.5L149.6,319.6L151.3,319.9L153.0,320.2L154.6,320.6L156.3,321.1L158.0,321.7L158.0,321.7L156.3,321.8L154.6,321.8L153.0,321.8L151.3,321.6L149.6,321.4L147.9,321.1L146.2,320.7L144.6,320.2L142.9,319.6Z" fill="#3b3b3b"/>
<path d="M141.3,327.0L142.9,326.9L144.5,326.8L146.1,326.9L147.7,327.0L149.3,327.3L150.9,327.6L152.5,328.0L154.1,328.4L155.7,329.0L155.7,329.0L154.1,329.2L152.5,329.2L150.9,329.1L149.3,329.0L147.7,328.7L146.1,328.4L144.5,328.1L142.9,327.6L141.3,327.0Z" fill="#3b3b3b"/>
<path d="M166.9,319.3L169.0,319.1L171.1,319.1L173.2,319.2L175.3,319.4L177.4,319.7L179.5,320.1L181.6,320.6L183.7,321.2L185.8,322.0L185.8,322.0L183.7,322.1L181.6,322.1L179.5,322.1L177.4,321.9L175.3,321.6L173.2,321.2L171.1,320.7L169.0,320.1L166.9,319.3Z" fill="#3f3f3f"/>
<path d="M115.6,308.2L117.7,307.2L119.8,306.5L121.9,305.9L124.0,305.5L126.0,305.1L128.1,304.9L130.2,304.9L132.3,304.9L134.4,305.2L134.4,305.2L132.3,306.1L130.2,306.8L128.1,307.4L126.0,307.9L124.0,308.2L121.9,308.4L119.8,308.5L117.7,308.4L115.6,308.2Z" fill="#3f3f3f"/>
<path d="M193.8,301.5L195.7,300.6L197.6,299.9L199.5,299.3L201.4,298.9L203.3,298.6L205.2,298.4L207.1,298.4L209.0,298.5L210.9,298.8L210.9,298.8L209.0,299.7L207.1,300.4L205.2,301.0L203.3,301.4L201.4,301.7L199.5,301.9L197.6,301.9L195.7,301.8L193.8,301.5Z" fill="#404040"/>
<path d="M139.9,313.9L141.5,313.0L143.1,312.4L144.7,311.9L146.4,311.5L148.0,311.2L149.6,311.1L151.3,311.1L152.9,311.2L154.5,311.5L154.5,311.5L152.9,312.3L151.3,313.0L149.6,313.5L148.0,313.9L146.4,314.2L144.7,314.3L143.1,314.3L141.5,314.2L139.9,313.9Z" fill="#434343"/>
<path d="M118.6,304.3L120.0,303.4L121.5,302.7L122.9,302.2L124.3,301.8L125.7,301.6L127.2,301.5L128.6,301.6L130.0,301.8L131.4,302.2L131.4,302.2L130.0,303.1L128.6,303.7L127.2,304.3L125.7,304.6L124.3,304.9L122.9,304.9L121.5,304.9L120.0,304.7L118.6,304.3Z" fill="#444444"/>
<path d="M144.8,311.0L146.5,310.0L148.3,309.3L150.0,308.7L151.8,308.3L153.5,308.0L155.3,307.9L157.0,307.9L158.8,308.1L160.5,308.4L160.5,308.4L158.8,309.4L157.0,310.1L155.3,310.7L153.5,311.1L151.8,311.4L150.0,311.5L148.3,311.5L146.5,311.4L144.8,311.0Z" fill="#444444"/>
<path d="M158.4,314.4L160.7,313.4L163.1,312.7L165.4,312.1L167.7,311.6L170.1,311.2L172.4,311.0L174.8,310.8L177.1,310.8L179.4,311.0L179.4,311.0L177.1,311.9L174.8,312.7L172.4,313.3L170.1,313.8L167.7,314.2L165.4,314.4L163.1,314.5L160.7,314.5L158.4,314.4Z" fill="#454545"/>
<path d="M182.9,307.9L184.6,307.1L186.3,306.5L187.9,306.1L189.6,305.7L191.3,305.4L193.0,305.3L194.6,305.2L196.3,305.3L198.0,305.5L198.0,305.5L196.3,306.2L194.6,306.8L193.0,307.3L191.3,307.7L189.6,307.9L187.9,308.1L186.3,308.1L184.6,308.1L182.9,307.9Z" fill="#464646"/>
<path d="M176.5,301.2L178.0,300.5L179.5,299.9L181.0,299.5L182.5,299.1L184.0,298.9L185.5,298.8L187.0,298.7L188.5,298.8L190.0,299.1L190.0,299.1L188.5,299.8L187.0,300.3L185.5,300.8L184.0,301.1L182.5,301.4L181.0,301.5L179.5,301.5L178.0,301.5L176.5,301.2Z" fill="#464646"/>
<path d="M141.3,301.4L143.2,300.6L145.0,300.0L146.8,299.5L148.6,299.0L150.4,298.8L152.2,298.6L154.0,298.5L155.8,298.6L157.6,298.8L157.6,298.8L155.8,299.7L154.0,300.3L152.2,300.8L150.4,301.2L148.6,301.5L146.8,301.7L145.0,301.7L143.2,301.7L141.3,301.4Z" fill="#474747"/>
<path d="M162.3,311.5L164.8,310.5L167.4,309.7L169.9,309.0L172.5,308.4L175.1,308.0L177.6,307.7L180.2,307.6L182.7,307.6L185.3,307.9L185.3,307.9L182.7,308.9L180.2,309.7L177.6,310.4L175.1,311.0L172.5,311.4L169.9,311.7L167.4,311.8L164.8,311.8L162.3,311.5Z" fill="#484848"/>
<path d="M169.7,298.2L171.6,297.3L173.5,296.6L175.5,296.0L177.4,295.6L179.3,295.3L181.2,295.1L183.2,295.0L185.1,295.1L187.0,295.4L187.0,295.4L185.1,296.4L183.2,297.1L181.2,297.6L179.3,298.1L177.4,298.4L175.5,298.6L173.5,298.6L171.6,298.5L169.7,298.2Z" fill="#484848"/>
<path d="M143.9,295.5L146.1,294.6L148.3,293.9L150.5,293.3L152.8,292.8L155.0,292.5L157.2,292.3L159.4,292.2L161.6,292.2L163.8,292.4L163.8,292.4L161.6,293.3L159.4,294.0L157.2,294.6L155.0,295.1L152.8,295.4L150.5,295.6L148.3,295.8L146.1,295.7L143.9,295.5Z" fill="#4a4a4a"/>
<path d="M159.8,323.2L161.7,323.0L163.6,322.9L165.6,323.0L167.5,323.2L169.4,323.4L171.4,323.8L173.3,324.3L175.2,324.9L177.2,325.6L177.2,325.6L175.2,325.8L173.3,325.9L171.4,325.8L169.4,325.7L167.5,325.4L165.6,325.0L163.6,324.5L161.7,323.9L159.8,323.2Z" fill="#4b4b4b"/>
<path d="M159.1,301.2L160.6,300.3L162.1,299.6L163.6,299.1L165.1,298.7L166.6,298.4L168.1,298.3L169.6,298.4L171.1,298.6L172.6,299.1L172.6,299.1L171.1,300.0L169.6,300.7L168.1,301.2L166.6,301.6L165.1,301.9L163.6,301.9L162.1,301.9L160.6,301.7L159.1,301.2Z" fill="#4b4b4b"/>
<path d="M150.9,304.2L152.3,303.5L153.7,303.0L155.1,302.6L156.5,302.2L157.8,302.0L159.2,301.9L160.6,301.9L162.0,302.0L163.4,302.2L163.4,302.2L162.0,302.9L160.6,303.4L159.2,303.9L157.8,304.2L156.5,304.4L155.1,304.5L153.7,304.6L152.3,304.5L150.9,304.2Z" fill="#4b4b4b"/>
<path d="M188.5,310.8L190.0,309.8L191.5,309.2L193.0,308.6L194.5,308.2L196.0,308.0L197.5,307.9L199.0,308.0L200.5,308.2L202.0,308.6L202.0,308.6L200.5,309.6L199.0,310.3L197.5,310.8L196.0,311.2L194.5,311.4L193.0,311.5L191.5,311.5L190.0,311.2L188.5,310.8Z" fill="#4e4e4e"/>
<path d="M147.8,298.2L149.8,297.3L151.8,296.6L153.8,296.1L155.7,295.6L157.7,295.3L159.7,295.1L161.7,295.1L163.6,295.1L165.6,295.4L165.6,295.4L163.6,296.3L161.7,297.0L159.7,297.6L157.7,298.0L155.7,298.4L153.8,298.5L151.8,298.6L149.8,298.5L147.8,298.2Z" fill="#4e4e4e"/>
<path d="M128.8,298.2L130.8,297.3L132.7,296.6L134.6,296.1L136.6,295.6L138.5,295.3L140.4,295.1L142.4,295.1L144.3,295.2L146.2,295.4L146.2,295.4L144.3,296.3L142.4,297.0L140.4,297.6L138.5,298.0L136.6,298.4L134.6,298.5L132.7,298.6L130.8,298.5L128.8,298.2Z" fill="#4f4f4f"/>
<path d="M138.5,308.4L140.9,307.4L143.3,306.7L145.7,306.0L148.1,305.5L150.5,305.1L152.9,304.9L155.3,304.7L157.7,304.7L160.1,305.0L160.1,305.0L157.7,305.9L155.3,306.7L152.9,307.3L150.5,307.9L148.1,308.2L145.7,308.5L143.3,308.6L140.9,308.6L138.5,308.4Z" fill="#505050"/>
<path d="M164.9,307.9L166.6,306.9L168.3,306.2L169.9,305.6L171.6,305.2L173.3,304.9L175.0,304.8L176.7,304.9L178.4,305.0L180.1,305.5L180.1,305.5L178.4,306.4L176.7,307.1L175.0,307.7L173.3,308.1L171.6,308.4L169.9,308.5L168.3,308.5L166.6,308.3L164.9,307.9Z" fill="#515151"/>
<path d="M115.0,302.0L117.6,301.0L120.3,300.1L122.9,299.4L125.6,298.8L128.2,298.4L130.9,298.1L133.5,298.0L136.2,298.0L138.8,298.2L138.8,298.2L136.2,299.3L133.5,300.2L130.9,300.9L128.2,301.5L125.6,301.9L122.9,302.2L120.3,302.3L117.6,302.3L115.0,302.0Z" fill="#535353"/>
<path d="M186.1,304.3L187.6,303.4L189.1,302.8L190.6,302.3L192.1,301.9L193.5,301.7L195.0,301.6L196.5,301.6L198.0,301.8L199.5,302.2L199.5,302.2L198.0,303.0L196.5,303.7L195.0,304.2L193.5,304.6L192.1,304.8L190.6,304.9L189.1,304.9L187.6,304.7L186.1,304.3Z" fill="#555555"/>
<path d="M131.0,310.7L132.3,309.9L133.7,309.3L135.0,308.8L136.3,308.5L137.6,308.3L138.9,308.2L140.3,308.2L141.6,308.4L142.9,308.8L142.9,308.8L141.6,309.5L140.3,310.1L138.9,310.6L137.6,310.9L136.3,311.1L135.0,311.2L133.7,311.2L132.3,311.0L131.0,310.7Z" fill="#555555"/>
<path d="M133.6,304.4L135.2,303.6L136.8,303.1L138.5,302.6L140.1,302.2L141.7,302.0L143.3,301.8L144.9,301.8L146.5,301.8L148.1,302.1L148.1,302.1L146.5,302.8L144.9,303.4L143.3,303.9L141.7,304.2L140.1,304.5L138.5,304.6L136.8,304.7L135.2,304.6L133.6,304.4Z" fill="#5c5c5c"/>
<path d="M165.6,304.5L167.4,303.6L169.2,302.9L170.9,302.3L172.7,301.9L174.4,301.6L176.2,301.5L178.0,301.5L179.7,301.6L181.5,302.0L181.5,302.0L179.7,302.9L178.0,303.5L176.2,304.1L174.4,304.5L172.7,304.8L170.9,304.9L169.2,305.0L167.4,304.8L165.6,304.5Z" fill="#5f5f5f"/>
</g>
<g filter="url(#b0p9_0p5)">
<path d="M95.5,289.2L99.6,287.1L103.6,285.5L107.7,284.0L111.7,282.6L115.7,281.2L119.8,279.9L123.8,278.7L127.9,277.4L131.9,276.3L136.0,275.2L140.0,274.1L144.0,273.1L148.1,272.2L152.1,271.3L156.2,270.4L160.2,269.7L164.3,269.0L168.3,268.3L172.3,267.9L176.4,267.6L180.4,267.4L184.5,267.3L188.5,267.4L192.5,267.7L196.6,268.0L200.6,268.5L204.7,269.2L208.7,270.0L212.8,271.4L212.8,271.4L208.7,274.0L204.7,276.0L200.6,277.8L196.6,279.5L192.5,281.1L188.5,282.5L184.5,283.9L180.4,285.0L176.4,286.1L172.3,287.0L168.3,287.8L164.3,288.5L160.2,289.0L156.2,289.6L152.1,290.0L148.1,290.4L144.0,290.8L140.0,291.0L136.0,291.2L131.9,291.4L127.9,291.4L123.8,291.4L119.8,291.4L115.7,291.3L111.7,291.1L107.7,290.8L103.6,290.5L99.6,290.0L95.5,289.2Z" fill="#383838"/>
<path d="M125.0,302.0L128.3,301.1L131.5,300.3L134.8,299.6L138.0,299.0L141.3,298.3L144.6,297.7L147.8,297.1L151.1,296.6L154.3,296.1L157.6,295.7L160.9,295.2L164.1,294.8L167.4,294.5L170.7,294.2L173.9,293.9L177.2,293.7L180.4,293.6L183.7,293.5L187.0,293.5L190.2,293.5L193.5,293.6L196.7,293.7L200.0,294.0L200.0,294.0L196.7,295.0L193.5,295.8L190.2,296.6L187.0,297.3L183.7,298.0L180.4,298.6L177.2,299.1L173.9,299.6L170.7,300.1L167.4,300.5L164.1,300.8L160.9,301.1L157.6,301.4L154.3,301.6L151.1,301.8L147.8,302.0L144.6,302.1L141.3,302.2L138.0,302.3L134.8,302.3L131.5,302.3L128.3,302.2L125.0,302.0Z" fill="#424242"/>
<path d="M97.5,288.9L101.4,287.1L105.3,285.7L109.2,284.3L113.1,283.1L117.0,281.8L120.9,280.6L124.9,279.5L128.8,278.4L132.7,277.3L136.6,276.3L140.5,275.3L144.4,274.4L148.3,273.5L152.2,272.7L156.1,271.9L160.0,271.2L163.9,270.5L167.8,269.9L171.7,269.4L175.6,269.1L179.5,268.9L183.4,268.8L187.3,268.8L191.3,268.9L195.2,269.2L199.1,269.5L203.0,270.0L206.9,270.7L210.8,271.8L210.8,271.8L206.9,274.0L203.0,275.8L199.1,277.4L195.2,278.9L191.3,280.3L187.3,281.6L183.4,282.8L179.5,283.8L175.6,284.8L171.7,285.6L167.8,286.4L163.9,287.0L160.0,287.6L156.1,288.1L152.2,288.6L148.3,289.0L144.4,289.4L140.5,289.7L136.6,289.9L132.7,290.1L128.8,290.2L124.9,290.3L120.9,290.3L117.0,290.3L113.1,290.2L109.2,290.1L105.3,289.9L101.4,289.6L97.5,288.9Z" fill="#4c4c4c"/>
<path d="M110.0,300.0L114.5,298.5L119.0,297.3L123.4,296.2L127.9,295.1L132.4,294.1L136.9,293.1L141.3,292.2L145.8,291.4L150.3,290.5L154.8,289.8L159.3,289.0L163.7,288.4L168.2,287.8L172.7,287.2L177.2,286.7L181.7,286.4L186.1,286.2L190.6,286.1L195.1,286.1L199.6,286.3L204.0,286.7L208.5,287.1L213.0,288.0L213.0,288.0L208.5,289.9L204.0,291.4L199.6,292.8L195.1,294.0L190.6,295.1L186.1,296.1L181.7,296.9L177.2,297.6L172.7,298.2L168.2,298.7L163.7,299.1L159.3,299.5L154.8,299.8L150.3,300.1L145.8,300.3L141.3,300.5L136.9,300.6L132.4,300.7L127.9,300.7L123.4,300.7L119.0,300.6L114.5,300.4L110.0,300.0Z" fill="#4c4c4c"/>
<path d="M98.0,294.0L99.8,293.2L101.7,292.5L103.5,291.9L105.3,291.3L107.1,290.7L109.0,290.2L110.8,289.7L112.6,289.3L114.4,288.9L116.3,288.5L118.1,288.2L119.9,287.9L121.7,287.6L123.6,287.4L125.4,287.2L127.2,287.0L129.0,286.9L130.9,286.8L132.7,286.7L134.5,286.7L136.3,286.7L138.2,286.8L140.0,287.0L140.0,287.0L138.2,287.8L136.3,288.5L134.5,289.1L132.7,289.7L130.9,290.3L129.0,290.8L127.2,291.3L125.4,291.7L123.6,292.1L121.7,292.5L119.9,292.8L118.1,293.1L116.3,293.4L114.4,293.6L112.6,293.8L110.8,294.0L109.0,294.1L107.1,294.2L105.3,294.3L103.5,294.3L101.7,294.3L99.8,294.2L98.0,294.0Z" fill="#4c4c4c"/>
<path d="M103.4,288.2L107.0,286.9L110.6,285.9L114.1,284.9L117.7,284.0L121.3,283.0L124.8,282.2L128.4,281.3L132.0,280.5L135.5,279.7L139.1,278.9L142.7,278.1L146.2,277.4L149.8,276.7L153.3,276.1L156.9,275.4L160.5,274.9L164.0,274.3L167.6,273.9L171.2,273.4L174.7,273.1L178.3,272.8L181.9,272.5L185.4,272.3L189.0,272.2L192.6,272.1L196.1,272.0L199.7,272.0L203.3,272.1L206.8,272.5L206.8,272.5L203.3,273.9L199.7,275.2L196.1,276.3L192.6,277.4L189.0,278.4L185.4,279.4L181.9,280.3L178.3,281.2L174.7,282.0L171.2,282.7L167.6,283.4L164.0,284.1L160.5,284.7L156.9,285.2L153.3,285.7L149.8,286.2L146.2,286.6L142.7,287.0L139.1,287.3L135.5,287.6L132.0,287.9L128.4,288.1L124.8,288.3L121.3,288.4L117.7,288.5L114.1,288.6L110.6,288.6L107.0,288.5L103.4,288.2Z" fill="#6b6b6b"/>
<path d="M122.0,299.0L125.8,297.8L129.7,296.9L133.5,296.0L137.3,295.1L141.1,294.3L145.0,293.5L148.8,292.8L152.6,292.1L156.4,291.4L160.3,290.8L164.1,290.2L167.9,289.7L171.7,289.2L175.6,288.7L179.4,288.3L183.2,288.0L187.0,287.8L190.9,287.7L194.7,287.7L198.5,287.8L202.3,288.0L206.2,288.4L210.0,289.0L210.0,289.0L206.2,290.5L202.3,291.7L198.5,292.8L194.7,293.7L190.9,294.6L187.0,295.4L183.2,296.1L179.4,296.6L175.6,297.1L171.7,297.5L167.9,297.9L164.1,298.2L160.3,298.5L156.4,298.7L152.6,298.9L148.8,299.1L145.0,299.2L141.1,299.3L137.3,299.4L133.5,299.4L129.7,299.4L125.8,299.3L122.0,299.0Z" fill="#6b6b6b"/>
<path d="M109.3,287.5L112.6,286.4L115.9,285.5L119.1,284.6L122.4,283.8L125.6,283.0L128.9,282.2L132.2,281.5L135.4,280.7L138.7,280.0L141.9,279.3L145.2,278.6L148.5,278.0L151.7,277.4L155.0,276.8L158.2,276.2L161.5,275.7L164.8,275.2L168.0,274.8L171.3,274.4L174.5,274.0L177.8,273.7L181.1,273.5L184.3,273.2L187.6,273.1L190.8,272.9L194.1,272.8L197.4,272.8L200.6,272.8L203.9,273.0L203.9,273.0L200.6,274.2L197.4,275.3L194.1,276.3L190.8,277.2L187.6,278.1L184.3,279.0L181.1,279.8L177.8,280.6L174.5,281.3L171.3,281.9L168.0,282.6L164.8,283.2L161.5,283.7L158.2,284.2L155.0,284.7L151.7,285.1L148.5,285.5L145.2,285.9L141.9,286.2L138.7,286.5L135.4,286.8L132.2,287.0L128.9,287.2L125.6,287.4L122.4,287.5L119.1,287.6L115.9,287.6L112.6,287.6L109.3,287.5Z" fill="#808080"/>
<path d="M128.0,298.3L131.4,297.3L134.8,296.5L138.2,295.8L141.6,295.1L145.0,294.4L148.3,293.7L151.7,293.1L155.1,292.5L158.5,291.9L161.9,291.4L165.3,290.9L168.7,290.4L172.1,290.0L175.5,289.5L178.9,289.2L182.3,288.9L185.7,288.7L189.0,288.6L192.4,288.6L195.8,288.7L199.2,288.8L202.6,289.0L206.0,289.5L206.0,289.5L202.6,290.7L199.2,291.7L195.8,292.6L192.4,293.5L189.0,294.2L185.7,294.9L182.3,295.4L178.9,295.9L175.5,296.3L172.1,296.7L168.7,297.0L165.3,297.3L161.9,297.6L158.5,297.8L155.1,298.0L151.7,298.2L148.3,298.3L145.0,298.4L141.6,298.5L138.2,298.5L134.8,298.5L131.4,298.5L128.0,298.3Z" fill="#808080"/>
<path d="M136.0,297.5L138.9,296.7L141.7,296.1L144.6,295.5L147.5,294.9L150.3,294.3L153.2,293.8L156.1,293.3L159.0,292.8L161.8,292.3L164.7,291.9L167.6,291.4L170.4,291.1L173.3,290.7L176.2,290.3L179.0,290.0L181.9,289.8L184.8,289.6L187.7,289.5L190.5,289.4L193.4,289.5L196.3,289.5L199.1,289.7L202.0,290.0L202.0,290.0L199.1,291.0L196.3,291.8L193.4,292.5L190.5,293.2L187.7,293.8L184.8,294.3L181.9,294.8L179.0,295.2L176.2,295.5L173.3,295.8L170.4,296.1L167.6,296.4L164.7,296.6L161.8,296.8L159.0,297.0L156.1,297.2L153.2,297.3L150.3,297.4L147.5,297.5L144.6,297.6L141.7,297.6L138.9,297.6L136.0,297.5Z" fill="#919191"/>
<path d="M115.2,286.7L118.2,285.8L121.1,285.0L124.0,284.2L126.9,283.5L129.8,282.8L132.8,282.1L135.7,281.4L138.6,280.8L141.5,280.1L144.5,279.5L147.4,278.9L150.3,278.4L153.2,277.9L156.1,277.4L159.1,276.9L162.0,276.4L164.9,276.0L167.8,275.6L170.7,275.3L173.7,275.0L176.6,274.7L179.5,274.5L182.4,274.2L185.3,274.0L188.3,273.9L191.2,273.7L194.1,273.6L197.0,273.6L199.9,273.7L199.9,273.7L197.0,274.7L194.1,275.6L191.2,276.4L188.3,277.2L185.3,277.9L182.4,278.6L179.5,279.3L176.6,280.0L173.7,280.6L170.7,281.2L167.8,281.8L164.9,282.3L162.0,282.8L159.1,283.3L156.1,283.7L153.2,284.1L150.3,284.5L147.4,284.9L144.5,285.2L141.5,285.5L138.6,285.8L135.7,286.0L132.8,286.2L129.8,286.4L126.9,286.6L124.0,286.7L121.1,286.8L118.2,286.8L115.2,286.7Z" fill="#949494"/>
<path d="M150.0,296.2L152.1,295.6L154.2,295.2L156.3,294.7L158.3,294.3L160.4,293.9L162.5,293.5L164.6,293.1L166.7,292.8L168.8,292.4L170.9,292.1L173.0,291.8L175.0,291.5L177.1,291.2L179.2,290.9L181.3,290.7L183.4,290.5L185.5,290.4L187.6,290.3L189.7,290.2L191.7,290.2L193.8,290.2L195.9,290.3L198.0,290.5L198.0,290.5L195.9,291.2L193.8,291.8L191.7,292.3L189.7,292.8L187.6,293.2L185.5,293.6L183.4,294.0L181.3,294.3L179.2,294.5L177.1,294.8L175.0,295.0L173.0,295.2L170.9,295.4L168.8,295.5L166.7,295.7L164.6,295.8L162.5,295.9L160.4,296.0L158.3,296.1L156.3,296.2L154.2,296.2L152.1,296.3L150.0,296.2Z" fill="#a3a3a3"/>
<path d="M120.2,286.0L122.7,285.2L125.3,284.6L127.8,283.9L130.4,283.3L132.9,282.7L135.4,282.1L138.0,281.5L140.5,281.0L143.1,280.4L145.6,279.9L148.2,279.4L150.7,279.0L153.3,278.5L155.8,278.1L158.4,277.7L160.9,277.3L163.5,277.0L166.0,276.6L168.6,276.3L171.1,276.1L173.7,275.8L176.2,275.6L178.8,275.3L181.3,275.2L183.9,275.0L186.4,274.8L188.9,274.7L191.5,274.6L194.0,274.7L194.0,274.7L191.5,275.5L188.9,276.2L186.4,276.9L183.9,277.5L181.3,278.2L178.8,278.8L176.2,279.3L173.7,279.9L171.1,280.4L168.6,281.0L166.0,281.4L163.5,281.9L160.9,282.4L158.4,282.8L155.8,283.2L153.3,283.6L150.7,283.9L148.2,284.2L145.6,284.5L143.1,284.8L140.5,285.1L138.0,285.3L135.4,285.5L132.9,285.7L130.4,285.8L127.8,286.0L125.3,286.0L122.7,286.1L120.2,286.0Z" fill="#a8a8a8"/>
<path d="M162.0,295.2L163.4,294.8L164.8,294.5L166.2,294.2L167.6,293.9L169.0,293.6L170.3,293.3L171.7,293.1L173.1,292.8L174.5,292.6L175.9,292.4L177.3,292.1L178.7,291.9L180.1,291.7L181.5,291.6L182.9,291.4L184.3,291.3L185.7,291.2L187.0,291.1L188.4,291.0L189.8,291.0L191.2,291.0L192.6,291.1L194.0,291.2L194.0,291.2L192.6,291.7L191.2,292.1L189.8,292.4L188.4,292.8L187.0,293.1L185.7,293.3L184.3,293.6L182.9,293.8L181.5,294.0L180.1,294.1L178.7,294.3L177.3,294.4L175.9,294.6L174.5,294.7L173.1,294.8L171.7,294.9L170.3,295.0L169.0,295.0L167.6,295.1L166.2,295.2L164.8,295.2L163.4,295.2L162.0,295.2Z" fill="#b8b8b8"/>
<path d="M124.1,285.5L126.3,284.8L128.5,284.3L130.7,283.7L132.9,283.2L135.1,282.7L137.4,282.2L139.6,281.7L141.8,281.3L144.0,280.8L146.2,280.4L148.4,280.0L150.6,279.6L152.8,279.2L155.0,278.8L157.2,278.5L159.4,278.1L161.6,277.8L163.8,277.5L166.1,277.3L168.3,277.0L170.5,276.8L172.7,276.6L174.9,276.4L177.1,276.2L179.3,276.0L181.5,275.9L183.7,275.7L185.9,275.6L188.1,275.6L188.1,275.6L185.9,276.3L183.7,276.9L181.5,277.5L179.3,278.0L177.1,278.5L174.9,279.0L172.7,279.5L170.5,280.0L168.3,280.5L166.1,280.9L163.8,281.3L161.6,281.7L159.4,282.1L157.2,282.5L155.0,282.8L152.8,283.1L150.6,283.4L148.4,283.7L146.2,284.0L144.0,284.3L141.8,284.5L139.6,284.7L137.4,284.9L135.1,285.1L132.9,285.2L130.7,285.3L128.5,285.4L126.3,285.5L124.1,285.5Z" fill="#bdbdbd"/>
<path d="M170.0,294.5L170.9,294.3L171.7,294.1L172.6,293.9L173.5,293.7L174.3,293.5L175.2,293.4L176.1,293.2L177.0,293.1L177.8,292.9L178.7,292.8L179.6,292.6L180.4,292.5L181.3,292.4L182.2,292.3L183.0,292.2L183.9,292.1L184.8,292.0L185.7,292.0L186.5,291.9L187.4,291.9L188.3,291.9L189.1,291.9L190.0,292.0L190.0,292.0L189.1,292.3L188.3,292.5L187.4,292.7L186.5,292.9L185.7,293.1L184.8,293.3L183.9,293.4L183.0,293.6L182.2,293.7L181.3,293.8L180.4,293.9L179.6,294.0L178.7,294.1L177.8,294.1L177.0,294.2L176.1,294.3L175.2,294.3L174.3,294.4L173.5,294.4L172.6,294.5L171.7,294.5L170.9,294.5L170.0,294.5Z" fill="#d1d1d1"/>
<path d="M128.0,285.0L129.9,284.4L131.7,284.0L133.5,283.5L135.4,283.1L137.2,282.7L139.0,282.3L140.9,281.9L142.7,281.5L144.6,281.2L146.4,280.8L148.2,280.5L150.1,280.1L151.9,279.8L153.7,279.5L155.6,279.2L157.4,279.0L159.2,278.7L161.1,278.5L162.9,278.2L164.7,278.0L166.6,277.8L168.4,277.6L170.2,277.4L172.1,277.3L173.9,277.1L175.7,277.0L177.6,276.9L179.4,276.8L181.2,276.8L181.2,276.8L179.4,277.3L177.6,277.8L175.7,278.2L173.9,278.6L172.1,279.0L170.2,279.5L168.4,279.8L166.6,280.2L164.7,280.6L162.9,280.9L161.1,281.3L159.2,281.6L157.4,281.9L155.6,282.2L153.7,282.5L151.9,282.8L150.1,283.0L148.2,283.3L146.4,283.5L144.6,283.7L142.7,283.9L140.9,284.1L139.0,284.3L137.2,284.5L135.4,284.6L133.5,284.7L131.7,284.9L129.9,284.9L128.0,285.0Z" fill="#d6d6d6"/>
<path d="M132.0,284.4L133.4,284.0L134.8,283.7L136.2,283.4L137.6,283.0L138.9,282.7L140.3,282.4L141.7,282.2L143.1,281.9L144.5,281.6L145.9,281.3L147.3,281.1L148.7,280.8L150.1,280.6L151.5,280.4L152.9,280.2L154.3,279.9L155.7,279.7L157.1,279.6L158.4,279.4L159.8,279.2L161.2,279.1L162.6,278.9L164.0,278.8L165.4,278.6L166.8,278.5L168.2,278.4L169.6,278.3L171.0,278.2L172.4,278.2L172.4,278.2L171.0,278.6L169.6,278.9L168.2,279.2L166.8,279.6L165.4,279.9L164.0,280.2L162.6,280.5L161.2,280.7L159.8,281.0L158.4,281.3L157.1,281.5L155.7,281.8L154.3,282.0L152.9,282.2L151.5,282.5L150.1,282.7L148.7,282.9L147.3,283.1L145.9,283.2L144.5,283.4L143.1,283.6L141.7,283.7L140.3,283.8L138.9,284.0L137.6,284.1L136.2,284.2L134.8,284.3L133.4,284.4L132.0,284.4Z" fill="#ebebeb"/>
<path d="M135.9,283.8L136.9,283.6L137.9,283.3L138.9,283.1L139.9,282.9L140.8,282.7L141.8,282.5L142.8,282.3L143.8,282.1L144.8,281.9L145.8,281.7L146.8,281.5L147.7,281.4L148.7,281.2L149.7,281.0L150.7,280.9L151.7,280.7L152.7,280.6L153.7,280.5L154.6,280.3L155.6,280.2L156.6,280.1L157.6,280.0L158.6,279.9L159.6,279.8L160.6,279.7L161.5,279.6L162.5,279.5L163.5,279.5L164.5,279.4L164.5,279.4L163.5,279.7L162.5,279.9L161.5,280.1L160.6,280.3L159.6,280.6L158.6,280.8L157.6,281.0L156.6,281.1L155.6,281.3L154.6,281.5L153.7,281.7L152.7,281.9L151.7,282.0L150.7,282.2L149.7,282.3L148.7,282.5L147.7,282.6L146.8,282.8L145.8,282.9L144.8,283.0L143.8,283.1L142.8,283.2L141.8,283.4L140.8,283.5L139.9,283.5L138.9,283.6L137.9,283.7L136.9,283.8L135.9,283.8Z" fill="#fafafa"/>
</g>
</g></g>
<rect x="32.5" y="220.5" width="197.00" height="168.00" fill="none" stroke="#949494" stroke-width="1"/>
<path d="M32.5,371.70h2M229.5,371.70h-2M32.5,338.10h2M229.5,338.10h-2M32.5,304.50h2M229.5,304.50h-2M32.5,270.90h2M229.5,270.90h-2M32.5,237.30h2M229.5,237.30h-2M32.50,388.5v-2M32.50,220.5v2M81.75,388.5v-2M81.75,220.5v2M131.00,388.5v-2M131.00,220.5v2M180.25,388.5v-2M180.25,220.5v2M229.50,388.5v-2M229.50,220.5v2" stroke="#949494" stroke-width="0.8" fill="none"/>
<g clip-path="url(#clipd)"><g filter="url(#cm)">
<rect x="277.5" y="190.5" width="258.0" height="228.0" fill="#000"/>
<g filter="url(#b2p5_1p5)">
<path d="M360.0,300.0L366.2,287.9L372.4,281.0L378.7,275.3L384.9,270.3L391.1,265.9L397.3,261.8L403.5,258.2L409.7,254.8L416.0,251.9L422.2,249.2L428.4,246.9L434.6,244.9L440.8,243.1L447.0,241.8L453.3,240.9L459.5,240.8L465.7,241.4L471.9,242.8L478.1,244.9L484.3,247.8L490.6,251.9L496.8,257.5L503.0,270.0L503.0,270.0L496.8,281.7L490.6,288.2L484.3,293.5L478.1,298.0L471.9,301.8L465.7,305.1L459.5,307.9L453.3,310.1L447.0,311.7L440.8,313.0L434.6,314.0L428.4,314.7L422.2,315.3L416.0,315.6L409.7,315.6L403.5,315.4L397.3,314.9L391.1,314.2L384.9,313.1L378.7,311.6L372.4,309.7L366.2,306.8L360.0,300.0Z" fill="#090909"/>
<path d="M390.0,268.0L394.6,265.6L399.1,263.6L403.7,261.8L408.3,260.1L412.8,258.6L417.4,257.1L422.0,255.7L426.5,254.5L431.1,253.3L435.7,252.3L440.2,251.4L444.8,250.6L449.3,250.0L453.9,249.4L458.5,249.0L463.0,248.7L467.6,248.5L472.2,248.4L476.7,248.4L481.3,248.5L485.9,248.8L490.4,249.2L495.0,250.0L495.0,250.0L490.4,251.8L485.9,253.3L481.3,254.7L476.7,256.1L472.2,257.4L467.6,258.6L463.0,259.7L458.5,260.8L453.9,261.8L449.3,262.7L444.8,263.6L440.2,264.4L435.7,265.1L431.1,265.7L426.5,266.3L422.0,266.8L417.4,267.2L412.8,267.5L408.3,267.8L403.7,268.0L399.1,268.2L394.6,268.2L390.0,268.0Z" fill="#141414"/>
<path d="M390.0,314.0L393.7,311.4L397.4,309.5L401.1,307.6L404.8,306.0L408.5,304.5L412.2,303.1L415.9,301.8L419.6,300.7L423.3,299.8L427.0,299.0L430.7,298.3L434.3,297.8L438.0,297.4L441.7,297.2L445.4,297.1L449.1,297.1L452.8,297.3L456.5,297.7L460.2,298.2L463.9,298.8L467.6,299.5L471.3,300.5L475.0,302.0L475.0,302.0L471.3,304.6L467.6,306.5L463.9,308.4L460.2,310.0L456.5,311.5L452.8,312.9L449.1,314.2L445.4,315.3L441.7,316.2L438.0,317.0L434.3,317.7L430.7,318.2L427.0,318.6L423.3,318.8L419.6,318.9L415.9,318.9L412.2,318.7L408.5,318.3L404.8,317.8L401.1,317.2L397.4,316.5L393.7,315.5L390.0,314.0Z" fill="#1f1f1f"/>
<path d="M364.9,289.7L369.4,287.4L373.8,285.4L378.2,283.5L382.7,281.7L387.1,279.9L391.5,278.1L396.0,276.4L400.4,274.9L404.9,273.5L409.3,272.1L413.7,270.7L418.2,269.4L422.6,268.1L427.1,266.9L431.5,265.7L435.9,264.6L440.4,263.5L444.8,262.7L449.2,262.0L453.7,261.4L458.1,261.0L462.6,260.7L467.0,260.6L471.4,260.5L475.9,260.6L480.3,260.8L484.7,261.2L489.2,261.7L493.6,262.8L493.6,262.8L489.2,266.1L484.7,268.8L480.3,271.3L475.9,273.6L471.4,275.7L467.0,277.6L462.6,279.4L458.1,280.9L453.7,282.4L449.2,283.6L444.8,284.6L440.4,285.5L435.9,286.4L431.5,287.3L427.1,288.0L422.6,288.7L418.2,289.3L413.7,289.8L409.3,290.2L404.9,290.5L400.4,290.7L396.0,290.9L391.5,291.1L387.1,291.2L382.7,291.2L378.2,291.2L373.8,291.0L369.4,290.6L364.9,289.7Z" fill="#262626"/>
<path d="M395.0,304.0L398.6,302.8L402.2,301.9L405.8,301.0L409.4,300.2L413.0,299.5L416.7,298.8L420.3,298.2L423.9,297.6L427.5,297.1L431.1,296.6L434.7,296.2L438.3,295.8L441.9,295.5L445.5,295.3L449.1,295.1L452.7,295.0L456.3,295.0L460.0,295.0L463.6,295.0L467.2,295.1L470.8,295.3L474.4,295.5L478.0,296.0L478.0,296.0L474.4,297.2L470.8,298.1L467.2,299.0L463.6,299.8L460.0,300.5L456.3,301.2L452.7,301.8L449.1,302.4L445.5,302.9L441.9,303.4L438.3,303.8L434.7,304.2L431.1,304.5L427.5,304.7L423.9,304.9L420.3,305.0L416.7,305.0L413.0,305.0L409.4,305.0L405.8,304.9L402.2,304.7L398.6,304.5L395.0,304.0Z" fill="#383838"/>
</g>
<g filter="url(#b1p5_0p6)">
<path d="M438.8,327.2L441.0,327.1L443.2,327.1L445.4,327.2L447.6,327.4L449.8,327.7L452.1,328.0L454.3,328.4L456.5,328.9L458.7,329.6L458.7,329.6L456.5,329.7L454.3,329.6L452.1,329.5L449.8,329.3L447.6,329.1L445.4,328.7L443.2,328.3L441.0,327.8L438.8,327.2Z" fill="#2d2d2d"/>
<path d="M412.8,327.2L415.0,327.0L417.2,327.0L419.4,327.0L421.6,327.2L423.8,327.5L426.0,327.8L428.2,328.3L430.4,328.8L432.7,329.6L432.7,329.6L430.4,329.7L428.2,329.8L426.0,329.7L423.8,329.5L421.6,329.3L419.4,328.9L417.2,328.4L415.0,327.9L412.8,327.2Z" fill="#2e2e2e"/>
<path d="M454.5,321.5L456.0,321.2L457.6,321.1L459.2,321.1L460.8,321.2L462.3,321.4L463.9,321.7L465.5,322.1L467.1,322.6L468.7,323.3L468.7,323.3L467.1,323.6L465.5,323.7L463.9,323.7L462.3,323.6L460.8,323.4L459.2,323.1L457.6,322.7L456.0,322.2L454.5,321.5Z" fill="#2f2f2f"/>
<path d="M447.5,324.4L449.2,324.2L451.0,324.1L452.8,324.1L454.6,324.2L456.4,324.4L458.2,324.7L459.9,325.2L461.7,325.7L463.5,326.4L463.5,326.4L461.7,326.6L459.9,326.7L458.2,326.7L456.4,326.6L454.6,326.4L452.8,326.1L451.0,325.7L449.2,325.1L447.5,324.4Z" fill="#303030"/>
<path d="M454.9,317.6L456.2,317.2L457.6,317.0L458.9,317.0L460.2,317.0L461.6,317.2L462.9,317.5L464.3,317.8L465.6,318.3L466.9,319.0L466.9,319.0L465.6,319.3L464.3,319.5L462.9,319.6L461.6,319.5L460.2,319.4L458.9,319.1L457.6,318.7L456.2,318.2L454.9,317.6Z" fill="#313131"/>
<path d="M439.0,317.7L440.0,317.4L441.0,317.2L442.0,317.1L443.0,317.1L444.0,317.3L445.0,317.5L446.0,317.8L447.0,318.2L448.0,318.8L448.0,318.8L447.0,319.2L446.0,319.3L445.0,319.4L444.0,319.4L443.0,319.3L442.0,319.1L441.0,318.7L440.0,318.3L439.0,317.7Z" fill="#313131"/>
<path d="M406.3,317.7L407.3,317.4L408.3,317.3L409.3,317.2L410.2,317.2L411.2,317.3L412.2,317.6L413.2,317.9L414.2,318.3L415.2,318.8L415.2,318.8L414.2,319.1L413.2,319.3L412.2,319.4L411.2,319.3L410.2,319.2L409.3,319.0L408.3,318.7L407.3,318.3L406.3,317.7Z" fill="#323232"/>
<path d="M418.3,317.3L420.1,317.2L421.9,317.2L423.7,317.2L425.5,317.4L427.3,317.6L429.1,317.9L430.9,318.2L432.7,318.7L434.4,319.3L434.4,319.3L432.7,319.4L430.9,319.4L429.1,319.3L427.3,319.2L425.5,319.0L423.7,318.7L421.9,318.3L420.1,317.9L418.3,317.3Z" fill="#343434"/>
<path d="M425.9,313.4L427.8,313.2L429.7,313.1L431.5,313.1L433.4,313.2L435.2,313.5L437.1,313.8L438.9,314.2L440.8,314.8L442.7,315.4L442.7,315.4L440.8,315.7L438.9,315.8L437.1,315.8L435.2,315.6L433.4,315.4L431.5,315.1L429.7,314.7L427.8,314.1L425.9,313.4Z" fill="#343434"/>
<path d="M411.8,323.5L414.3,322.6L416.8,321.8L419.2,321.2L421.7,320.6L424.2,320.2L426.6,319.8L429.1,319.6L431.6,319.5L434.0,319.5L434.0,319.5L431.6,320.4L429.1,321.1L426.6,321.8L424.2,322.4L421.7,322.8L419.2,323.1L416.8,323.4L414.3,323.5L411.8,323.5Z" fill="#373737"/>
<path d="M416.9,321.7L418.2,321.3L419.5,321.2L420.8,321.1L422.2,321.1L423.5,321.3L424.8,321.6L426.1,322.0L427.4,322.4L428.7,323.1L428.7,323.1L427.4,323.5L426.1,323.6L424.8,323.7L423.5,323.7L422.2,323.5L420.8,323.2L419.5,322.8L418.2,322.4L416.9,321.7Z" fill="#393939"/>
<path d="M436.8,299.0L439.0,298.0L441.2,297.2L443.4,296.6L445.6,296.0L447.8,295.6L450.0,295.4L452.2,295.3L454.4,295.3L456.6,295.5L456.6,295.5L454.4,296.4L452.2,297.2L450.0,297.9L447.8,298.4L445.6,298.8L443.4,299.1L441.2,299.2L439.0,299.2L436.8,299.0Z" fill="#3c3c3c"/>
<path d="M403.8,324.6L405.3,324.4L406.7,324.4L408.1,324.4L409.6,324.5L411.0,324.6L412.4,324.9L413.8,325.2L415.3,325.6L416.7,326.2L416.7,326.2L415.3,326.4L413.8,326.5L412.4,326.5L411.0,326.4L409.6,326.2L408.1,325.9L406.7,325.6L405.3,325.2L403.8,324.6Z" fill="#3d3d3d"/>
<path d="M460.2,304.2L461.7,303.3L463.2,302.6L464.7,302.0L466.2,301.6L467.7,301.3L469.2,301.2L470.7,301.2L472.2,301.4L473.7,301.8L473.7,301.8L472.2,302.8L470.7,303.5L469.2,304.1L467.7,304.5L466.2,304.7L464.7,304.9L463.2,304.8L461.7,304.7L460.2,304.2Z" fill="#3e3e3e"/>
<path d="M395.5,312.7L396.7,312.0L397.9,311.5L399.1,311.1L400.3,310.8L401.5,310.6L402.7,310.4L403.9,310.4L405.1,310.5L406.3,310.7L406.3,310.7L405.1,311.4L403.9,311.9L402.7,312.3L401.5,312.6L400.3,312.8L399.1,312.9L397.9,313.0L396.7,312.9L395.5,312.7Z" fill="#3e3e3e"/>
<path d="M432.4,321.4L434.3,321.2L436.2,321.1L438.0,321.1L439.9,321.2L441.8,321.5L443.7,321.8L445.6,322.2L447.5,322.7L449.4,323.4L449.4,323.4L447.5,323.6L445.6,323.7L443.7,323.7L441.8,323.6L439.9,323.3L438.0,323.0L436.2,322.6L434.3,322.1L432.4,321.4Z" fill="#3e3e3e"/>
<path d="M446.0,301.0L447.2,300.3L448.4,299.8L449.6,299.4L450.8,299.1L452.1,298.9L453.3,298.8L454.5,298.7L455.7,298.8L456.9,299.0L456.9,299.0L455.7,299.7L454.5,300.2L453.3,300.6L452.1,300.9L450.8,301.1L449.6,301.2L448.4,301.3L447.2,301.2L446.0,301.0Z" fill="#404040"/>
<path d="M456.2,317.2L458.7,316.1L461.2,315.2L463.7,314.5L466.2,313.9L468.7,313.5L471.2,313.2L473.7,313.0L476.2,313.0L478.7,313.1L478.7,313.1L476.2,314.2L473.7,315.1L471.2,315.8L468.7,316.4L466.2,316.9L463.7,317.2L461.2,317.4L458.7,317.4L456.2,317.2Z" fill="#404040"/>
<path d="M400.0,321.7L401.2,321.4L402.4,321.2L403.6,321.2L404.8,321.2L406.1,321.4L407.3,321.6L408.5,322.0L409.7,322.4L410.9,323.1L410.9,323.1L409.7,323.4L408.5,323.5L407.3,323.6L406.1,323.6L404.8,323.4L403.6,323.2L402.4,322.8L401.2,322.4L400.0,321.7Z" fill="#404040"/>
<path d="M415.8,319.4L416.9,318.7L418.1,318.2L419.2,317.8L420.3,317.5L421.5,317.3L422.6,317.2L423.7,317.2L424.9,317.3L426.0,317.6L426.0,317.6L424.9,318.2L423.7,318.8L422.6,319.2L421.5,319.5L420.3,319.7L419.2,319.8L418.1,319.8L416.9,319.7L415.8,319.4Z" fill="#424242"/>
<path d="M390.7,307.3L392.0,306.5L393.4,305.8L394.7,305.3L396.1,304.9L397.4,304.7L398.8,304.6L400.1,304.6L401.5,304.8L402.8,305.2L402.8,305.2L401.5,306.0L400.1,306.7L398.8,307.2L397.4,307.6L396.1,307.8L394.7,307.9L393.4,307.9L392.0,307.7L390.7,307.3Z" fill="#454545"/>
<path d="M393.9,304.4L395.6,303.5L397.3,302.7L399.0,302.2L400.7,301.7L402.4,301.4L404.0,301.2L405.7,301.2L407.4,301.3L409.1,301.7L409.1,301.7L407.4,302.6L405.7,303.3L404.0,303.9L402.4,304.4L400.7,304.7L399.0,304.8L397.3,304.8L395.6,304.7L393.9,304.4Z" fill="#454545"/>
<path d="M419.9,324.2L422.1,324.1L424.3,324.0L426.5,324.1L428.7,324.3L430.9,324.5L433.1,324.9L435.3,325.4L437.5,325.9L439.7,326.6L439.7,326.6L437.5,326.8L435.3,326.8L433.1,326.7L430.9,326.5L428.7,326.3L426.5,325.9L424.3,325.5L422.1,324.9L419.9,324.2Z" fill="#464646"/>
<path d="M390.2,316.4L391.8,315.5L393.3,314.9L394.8,314.3L396.3,313.9L397.8,313.7L399.4,313.5L400.9,313.5L402.4,313.6L403.9,313.9L403.9,313.9L402.4,314.8L400.9,315.5L399.4,316.0L397.8,316.4L396.3,316.7L394.8,316.8L393.3,316.8L391.8,316.7L390.2,316.4Z" fill="#474747"/>
<path d="M393.1,310.1L394.6,309.4L396.1,308.8L397.6,308.3L399.2,308.0L400.7,307.7L402.2,307.5L403.7,307.5L405.2,307.5L406.7,307.7L406.7,307.7L405.2,308.4L403.7,309.0L402.2,309.5L400.7,309.9L399.2,310.1L397.6,310.3L396.1,310.4L394.6,310.3L393.1,310.1Z" fill="#474747"/>
<path d="M411.1,299.2L413.5,298.1L415.9,297.3L418.2,296.6L420.6,296.0L423.0,295.6L425.4,295.3L427.8,295.2L430.2,295.1L432.6,295.3L432.6,295.3L430.2,296.3L427.8,297.2L425.4,297.9L423.0,298.4L420.6,298.9L418.2,299.2L415.9,299.3L413.5,299.3L411.1,299.2Z" fill="#494949"/>
<path d="M411.6,313.5L413.8,312.7L416.1,312.0L418.3,311.4L420.5,310.9L422.7,310.5L425.0,310.2L427.2,310.0L429.4,309.8L431.7,309.9L431.7,309.9L429.4,310.7L427.2,311.4L425.0,312.0L422.7,312.5L420.5,312.9L418.3,313.2L416.1,313.4L413.8,313.5L411.6,313.5Z" fill="#494949"/>
<path d="M404.7,300.9L405.8,300.1L407.0,299.5L408.1,299.1L409.3,298.7L410.4,298.5L411.5,298.4L412.7,298.5L413.8,298.7L415.0,299.1L415.0,299.1L413.8,299.9L412.7,300.5L411.5,301.0L410.4,301.3L409.3,301.5L408.1,301.6L407.0,301.5L405.8,301.3L404.7,300.9Z" fill="#494949"/>
<path d="M427.8,320.6L430.4,319.6L433.0,318.8L435.6,318.1L438.2,317.5L440.8,317.0L443.4,316.7L446.0,316.4L448.6,316.3L451.2,316.4L451.2,316.4L448.6,317.4L446.0,318.2L443.4,318.9L440.8,319.5L438.2,320.0L435.6,320.3L433.0,320.5L430.4,320.7L427.8,320.6Z" fill="#4a4a4a"/>
<path d="M428.7,317.2L431.2,316.3L433.8,315.6L436.3,314.9L438.8,314.4L441.3,313.9L443.8,313.6L446.3,313.3L448.9,313.1L451.4,313.1L451.4,313.1L448.9,314.0L446.3,314.8L443.8,315.4L441.3,316.0L438.8,316.4L436.3,316.8L433.8,317.0L431.2,317.2L428.7,317.2Z" fill="#4b4b4b"/>
<path d="M459.4,313.4L461.6,312.5L463.7,311.7L465.8,311.1L467.9,310.6L470.1,310.2L472.2,310.0L474.3,309.8L476.4,309.8L478.6,310.0L478.6,310.0L476.4,310.9L474.3,311.6L472.2,312.3L470.1,312.8L467.9,313.1L465.8,313.4L463.7,313.5L461.6,313.6L459.4,313.4Z" fill="#4b4b4b"/>
<path d="M439.0,304.7L441.1,303.8L443.2,303.0L445.3,302.3L447.5,301.8L449.6,301.4L451.7,301.2L453.8,301.1L455.9,301.1L458.1,301.3L458.1,301.3L455.9,302.3L453.8,303.1L451.7,303.7L449.6,304.2L447.5,304.6L445.3,304.9L443.2,305.0L441.1,305.0L439.0,304.7Z" fill="#4b4b4b"/>
<path d="M414.9,305.0L417.3,303.9L419.6,303.0L422.0,302.3L424.4,301.7L426.7,301.3L429.1,301.0L431.5,300.8L433.9,300.9L436.2,301.1L436.2,301.1L433.9,302.2L431.5,303.1L429.1,303.8L426.7,304.4L424.4,304.8L422.0,305.1L419.6,305.2L417.3,305.2L414.9,305.0Z" fill="#4c4c4c"/>
<path d="M446.0,307.4L447.5,306.5L448.9,305.8L450.3,305.3L451.7,304.9L453.1,304.6L454.5,304.5L456.0,304.5L457.4,304.7L458.8,305.1L458.8,305.1L457.4,306.0L456.0,306.7L454.5,307.2L453.1,307.6L451.7,307.9L450.3,308.0L448.9,308.0L447.5,307.8L446.0,307.4Z" fill="#4f4f4f"/>
<path d="M420.7,301.8L422.9,300.9L425.2,300.1L427.5,299.5L429.7,299.0L432.0,298.6L434.3,298.3L436.5,298.1L438.8,298.0L441.1,298.2L441.1,298.2L438.8,299.1L436.5,299.9L434.3,300.5L432.0,301.0L429.7,301.5L427.5,301.7L425.2,301.9L422.9,302.0L420.7,301.8Z" fill="#505050"/>
<path d="M440.5,310.6L442.5,309.6L444.5,308.8L446.5,308.1L448.6,307.6L450.6,307.3L452.6,307.0L454.6,307.0L456.6,307.0L458.6,307.3L458.6,307.3L456.6,308.3L454.6,309.1L452.6,309.7L450.6,310.2L448.6,310.6L446.5,310.8L444.5,310.9L442.5,310.8L440.5,310.6Z" fill="#515151"/>
<path d="M407.4,316.7L409.2,315.7L411.1,315.0L412.9,314.4L414.7,313.9L416.6,313.6L418.4,313.4L420.2,313.3L422.1,313.4L423.9,313.7L423.9,313.7L422.1,314.6L420.2,315.4L418.4,316.0L416.6,316.4L414.7,316.8L412.9,317.0L411.1,317.0L409.2,316.9L407.4,316.7Z" fill="#515151"/>
<path d="M411.8,311.0L414.4,310.0L417.0,309.2L419.6,308.5L422.1,307.9L424.7,307.4L427.3,307.1L429.9,306.8L432.5,306.7L435.0,306.8L435.0,306.8L432.5,307.8L429.9,308.7L427.3,309.4L424.7,310.0L422.1,310.4L419.6,310.8L417.0,311.0L414.4,311.1L411.8,311.0Z" fill="#535353"/>
<path d="M405.3,308.3L407.8,307.3L410.3,306.6L412.9,305.9L415.4,305.3L417.9,304.9L420.4,304.5L422.9,304.3L425.5,304.2L428.0,304.2L428.0,304.2L425.5,305.2L422.9,305.9L420.4,306.6L417.9,307.2L415.4,307.6L412.9,308.0L410.3,308.2L407.8,308.3L405.3,308.3Z" fill="#545454"/>
<path d="M433.9,313.5L436.1,312.6L438.3,311.8L440.5,311.2L442.7,310.7L444.9,310.3L447.0,310.0L449.2,309.9L451.4,309.8L453.6,309.9L453.6,309.9L451.4,310.8L449.2,311.6L447.0,312.2L444.9,312.7L442.7,313.1L440.5,313.4L438.3,313.5L436.1,313.6L433.9,313.5Z" fill="#585858"/>
<path d="M432.6,307.3L433.9,306.6L435.1,306.1L436.4,305.7L437.6,305.3L438.9,305.1L440.2,305.0L441.4,304.9L442.7,305.0L443.9,305.2L443.9,305.2L442.7,305.9L441.4,306.4L440.2,306.8L438.9,307.2L437.6,307.4L436.4,307.5L435.1,307.6L433.9,307.5L432.6,307.3Z" fill="#585858"/>
</g>
<g filter="url(#b0p9_0p5)">
<path d="M368.9,289.0L373.0,287.1L377.1,285.4L381.2,283.8L385.3,282.3L389.4,280.8L393.5,279.4L397.6,278.0L401.7,276.7L405.7,275.5L409.8,274.3L413.9,273.1L418.0,271.9L422.1,270.8L426.2,269.7L430.3,268.7L434.4,267.7L438.5,266.8L442.6,265.9L446.7,265.2L450.8,264.7L454.9,264.2L459.0,263.8L463.1,263.5L467.2,263.3L471.3,263.2L475.4,263.2L479.5,263.2L483.6,263.4L487.7,264.0L487.7,264.0L483.6,266.8L479.5,269.1L475.4,271.1L471.3,273.0L467.2,274.8L463.1,276.4L459.0,277.9L454.9,279.3L450.8,280.5L446.7,281.6L442.6,282.6L438.5,283.4L434.4,284.3L430.3,285.1L426.2,285.8L422.1,286.5L418.0,287.1L413.9,287.6L409.8,288.0L405.7,288.4L401.7,288.7L397.6,288.9L393.5,289.2L389.4,289.4L385.3,289.6L381.2,289.7L377.1,289.6L373.0,289.5L368.9,289.0Z" fill="#4c4c4c"/>
<path d="M372.0,301.3L377.1,299.7L382.3,298.4L387.4,297.1L392.5,296.0L397.7,294.8L402.8,293.8L407.9,292.8L413.0,291.8L418.2,290.9L423.3,290.1L428.4,289.3L433.6,288.5L438.7,287.8L443.8,287.2L449.0,286.6L454.1,286.2L459.2,286.0L464.3,285.9L469.5,286.1L474.6,286.4L479.7,286.9L484.9,287.6L490.0,288.8L490.0,288.8L484.9,291.1L479.7,292.9L474.6,294.5L469.5,295.9L464.3,297.1L459.2,298.1L454.1,299.0L449.0,299.6L443.8,300.2L438.7,300.6L433.6,301.0L428.4,301.4L423.3,301.7L418.2,301.9L413.0,302.1L407.9,302.2L402.8,302.3L397.7,302.3L392.5,302.3L387.4,302.2L382.3,302.1L377.1,301.8L372.0,301.3Z" fill="#4c4c4c"/>
<path d="M374.8,287.7L378.6,286.0L382.3,284.5L386.1,283.0L389.8,281.6L393.6,280.3L397.4,279.0L401.1,277.8L404.9,276.6L408.6,275.5L412.4,274.4L416.1,273.3L419.9,272.3L423.6,271.2L427.4,270.3L431.1,269.3L434.9,268.4L438.7,267.5L442.4,266.7L446.2,266.1L449.9,265.6L453.7,265.1L457.4,264.8L461.2,264.5L464.9,264.3L468.7,264.2L472.5,264.2L476.2,264.2L480.0,264.4L483.7,264.9L483.7,264.9L480.0,267.4L476.2,269.4L472.5,271.3L468.7,273.0L464.9,274.6L461.2,276.0L457.4,277.4L453.7,278.6L449.9,279.8L446.2,280.7L442.4,281.6L438.7,282.4L434.9,283.2L431.1,283.9L427.4,284.6L423.6,285.2L419.9,285.8L416.1,286.2L412.4,286.7L408.6,287.0L404.9,287.3L401.1,287.6L397.4,287.7L393.6,287.9L389.8,288.1L386.1,288.2L382.3,288.2L378.6,288.2L374.8,287.7Z" fill="#6b6b6b"/>
<path d="M398.0,298.7L401.9,297.4L405.7,296.4L409.6,295.4L413.5,294.5L417.3,293.6L421.2,292.8L425.1,292.0L429.0,291.2L432.8,290.5L436.7,289.8L440.6,289.2L444.4,288.6L448.3,288.1L452.2,287.6L456.0,287.1L459.9,286.8L463.8,286.6L467.7,286.6L471.5,286.7L475.4,287.0L479.3,287.4L483.1,288.1L487.0,289.1L487.0,289.1L483.1,291.0L479.3,292.4L475.4,293.7L471.5,294.8L467.7,295.8L463.8,296.6L459.9,297.3L456.0,297.7L452.2,298.1L448.3,298.5L444.4,298.8L440.6,299.0L436.7,299.2L432.8,299.4L429.0,299.5L425.1,299.6L421.2,299.6L417.3,299.6L413.5,299.6L409.6,299.5L405.7,299.4L401.9,299.1L398.0,298.7Z" fill="#6b6b6b"/>
<path d="M407.3,292.5L408.4,291.8L409.4,291.4L410.4,291.0L411.5,290.8L412.5,290.7L413.5,290.7L414.6,290.9L415.6,291.1L416.7,291.6L416.7,291.6L415.6,292.2L414.6,292.6L413.5,293.0L412.5,293.2L411.5,293.3L410.4,293.3L409.4,293.2L408.4,292.9L407.3,292.5Z" fill="#767676"/>
<path d="M465.3,295.1L466.2,294.4L467.2,294.0L468.2,293.6L469.2,293.4L470.2,293.3L471.1,293.3L472.1,293.5L473.1,293.7L474.1,294.2L474.1,294.2L473.1,294.9L472.1,295.4L471.1,295.7L470.2,296.0L469.2,296.1L468.2,296.0L467.2,295.9L466.2,295.6L465.3,295.1Z" fill="#767676"/>
<path d="M419.9,294.3L420.9,293.6L421.8,293.2L422.7,292.8L423.6,292.6L424.6,292.5L425.5,292.6L426.4,292.7L427.3,293.0L428.2,293.4L428.2,293.4L427.3,294.1L426.4,294.5L425.5,294.8L424.6,295.1L423.6,295.2L422.7,295.1L421.8,295.0L420.9,294.7L419.9,294.3Z" fill="#7a7a7a"/>
<path d="M402.4,295.6L403.5,295.0L404.5,294.5L405.6,294.2L406.7,293.9L407.8,293.8L408.8,293.8L409.9,294.0L411.0,294.2L412.1,294.6L412.1,294.6L411.0,295.3L409.9,295.8L408.8,296.1L407.8,296.3L406.7,296.4L405.6,296.4L404.5,296.3L403.5,296.1L402.4,295.6Z" fill="#7b7b7b"/>
<path d="M415.4,291.0L416.4,290.4L417.4,290.0L418.4,289.6L419.5,289.4L420.5,289.3L421.5,289.3L422.5,289.4L423.5,289.7L424.5,290.1L424.5,290.1L423.5,290.7L422.5,291.1L421.5,291.4L420.5,291.6L419.5,291.7L418.4,291.7L417.4,291.6L416.4,291.4L415.4,291.0Z" fill="#7d7d7d"/>
<path d="M416.0,295.0L416.8,294.4L417.5,294.0L418.3,293.7L419.1,293.5L419.9,293.4L420.7,293.4L421.5,293.6L422.3,293.8L423.0,294.3L423.0,294.3L422.3,294.9L421.5,295.3L420.7,295.6L419.9,295.8L419.1,295.9L418.3,295.9L417.5,295.7L416.8,295.4L416.0,295.0Z" fill="#7d7d7d"/>
<path d="M433.8,294.4L434.8,293.8L435.8,293.4L436.8,293.0L437.9,292.8L438.9,292.7L439.9,292.7L440.9,292.9L441.9,293.1L442.9,293.5L442.9,293.5L441.9,294.1L440.9,294.5L439.9,294.8L438.9,295.1L437.9,295.2L436.8,295.1L435.8,295.0L434.8,294.8L433.8,294.4Z" fill="#7f7f7f"/>
<path d="M406.0,297.9L409.4,296.8L412.9,295.9L416.3,295.1L419.7,294.3L423.2,293.5L426.6,292.8L430.0,292.1L433.5,291.5L436.9,290.8L440.3,290.3L443.8,289.7L447.2,289.2L450.7,288.7L454.1,288.3L457.5,287.9L461.0,287.6L464.4,287.4L467.8,287.4L471.3,287.5L474.7,287.7L478.1,288.1L481.6,288.6L485.0,289.5L485.0,289.5L481.6,291.1L478.1,292.4L474.7,293.5L471.3,294.4L467.8,295.3L464.4,296.0L461.0,296.5L457.5,296.9L454.1,297.3L450.7,297.6L447.2,297.8L443.8,298.0L440.3,298.2L436.9,298.4L433.5,298.5L430.0,298.6L426.6,298.6L423.2,298.6L419.7,298.6L416.3,298.5L412.9,298.4L409.4,298.3L406.0,297.9Z" fill="#808080"/>
<path d="M382.7,286.0L386.1,284.4L389.5,283.0L392.9,281.7L396.3,280.4L399.6,279.3L403.0,278.2L406.4,277.1L409.8,276.0L413.2,275.0L416.5,274.0L419.9,273.0L423.3,272.1L426.7,271.1L430.1,270.2L433.4,269.4L436.8,268.6L440.2,267.8L443.6,267.1L447.0,266.6L450.3,266.1L453.7,265.7L457.1,265.4L460.5,265.1L463.9,264.9L467.2,264.8L470.6,264.8L474.0,264.9L477.4,265.0L480.8,265.5L480.8,265.5L477.4,267.7L474.0,269.5L470.6,271.2L467.2,272.7L463.9,274.2L460.5,275.5L457.1,276.7L453.7,277.8L450.3,278.8L447.0,279.7L443.6,280.5L440.2,281.2L436.8,281.9L433.4,282.5L430.1,283.1L426.7,283.7L423.3,284.2L419.9,284.6L416.5,285.0L413.2,285.4L409.8,285.7L406.4,285.9L403.0,286.1L399.6,286.2L396.3,286.3L392.9,286.4L389.5,286.4L386.1,286.4L382.7,286.0Z" fill="#858585"/>
<path d="M421.8,289.7L422.4,289.1L423.1,288.7L423.7,288.3L424.4,288.1L425.0,288.1L425.7,288.1L426.3,288.3L427.0,288.6L427.6,289.1L427.6,289.1L427.0,289.8L426.3,290.2L425.7,290.5L425.0,290.7L424.4,290.8L423.7,290.7L423.1,290.5L422.4,290.2L421.8,289.7Z" fill="#8a8a8a"/>
<path d="M455.0,294.3L456.0,293.7L456.9,293.2L457.9,292.9L458.9,292.6L459.9,292.5L460.9,292.6L461.9,292.7L462.9,293.0L463.9,293.4L463.9,293.4L462.9,294.0L461.9,294.5L460.9,294.8L459.9,295.1L458.9,295.2L457.9,295.1L456.9,295.0L456.0,294.7L455.0,294.3Z" fill="#8b8b8b"/>
<path d="M461.5,291.8L462.5,291.1L463.6,290.7L464.6,290.3L465.6,290.1L466.6,290.0L467.6,290.0L468.6,290.2L469.7,290.4L470.7,290.8L470.7,290.8L469.7,291.5L468.6,291.9L467.6,292.3L466.6,292.5L465.6,292.6L464.6,292.6L463.6,292.4L462.5,292.2L461.5,291.8Z" fill="#8e8e8e"/>
<path d="M451.2,289.8L451.8,289.4L452.4,289.1L452.9,288.9L453.5,288.7L454.0,288.7L454.6,288.7L455.1,288.8L455.7,289.0L456.3,289.3L456.3,289.3L455.7,289.8L455.1,290.1L454.6,290.3L454.0,290.5L453.5,290.5L452.9,290.5L452.4,290.4L451.8,290.2L451.2,289.8Z" fill="#919191"/>
<path d="M414.0,297.1L417.0,296.2L420.0,295.4L423.0,294.7L426.0,294.1L429.0,293.4L432.0,292.8L435.0,292.2L438.0,291.7L441.0,291.2L444.0,290.7L447.0,290.2L450.0,289.8L453.0,289.4L456.0,289.0L459.0,288.7L462.0,288.4L465.0,288.3L468.0,288.2L471.0,288.3L474.0,288.5L477.0,288.8L480.0,289.2L483.0,289.9L483.0,289.9L480.0,291.2L477.0,292.3L474.0,293.2L471.0,294.0L468.0,294.7L465.0,295.3L462.0,295.8L459.0,296.1L456.0,296.4L453.0,296.7L450.0,296.9L447.0,297.1L444.0,297.2L441.0,297.4L438.0,297.5L435.0,297.6L432.0,297.6L429.0,297.6L426.0,297.6L423.0,297.6L420.0,297.5L417.0,297.4L414.0,297.1Z" fill="#919191"/>
<path d="M427.0,293.2L427.6,292.8L428.2,292.5L428.8,292.3L429.4,292.1L430.0,292.1L430.6,292.1L431.2,292.2L431.8,292.3L432.4,292.6L432.4,292.6L431.8,293.0L431.2,293.3L430.6,293.5L430.0,293.6L429.4,293.7L428.8,293.7L428.2,293.6L427.6,293.4L427.0,293.2Z" fill="#939393"/>
<path d="M392.6,283.8L395.6,282.3L398.5,281.2L401.4,280.1L404.4,279.0L407.3,278.0L410.3,277.0L413.2,276.0L416.1,275.1L419.1,274.1L422.0,273.2L424.9,272.4L427.9,271.5L430.8,270.7L433.7,269.9L436.7,269.2L439.6,268.4L442.5,267.8L445.5,267.2L448.4,266.8L451.4,266.4L454.3,266.0L457.2,265.8L460.2,265.6L463.1,265.4L466.0,265.4L469.0,265.4L471.9,265.5L474.8,265.6L477.8,266.1L477.8,266.1L474.8,268.1L471.9,269.7L469.0,271.1L466.0,272.5L463.1,273.8L460.2,274.9L457.2,276.0L454.3,277.0L451.4,277.9L448.4,278.6L445.5,279.3L442.5,279.9L439.6,280.5L436.7,281.0L433.7,281.6L430.8,282.0L427.9,282.5L424.9,282.9L422.0,283.2L419.1,283.5L416.1,283.7L413.2,283.9L410.3,284.1L407.3,284.2L404.4,284.3L401.4,284.3L398.5,284.2L395.6,284.1L392.6,283.8Z" fill="#9e9e9e"/>
<path d="M424.0,296.1L426.4,295.4L428.9,294.8L431.3,294.2L433.7,293.7L436.2,293.2L438.6,292.7L441.0,292.3L443.5,291.8L445.9,291.4L448.3,291.0L450.8,290.7L453.2,290.3L455.7,290.0L458.1,289.7L460.5,289.5L463.0,289.3L465.4,289.2L467.8,289.1L470.3,289.2L472.7,289.3L475.1,289.6L477.6,289.9L480.0,290.4L480.0,290.4L477.6,291.4L475.1,292.2L472.7,292.9L470.3,293.6L467.8,294.1L465.4,294.6L463.0,295.0L460.5,295.3L458.1,295.5L455.7,295.7L453.2,295.9L450.8,296.1L448.3,296.2L445.9,296.3L443.5,296.4L441.0,296.5L438.6,296.5L436.2,296.5L433.7,296.5L431.3,296.5L428.9,296.4L426.4,296.3L424.0,296.1Z" fill="#a3a3a3"/>
<path d="M434.0,295.1L435.8,294.6L437.6,294.1L439.3,293.7L441.1,293.4L442.9,293.0L444.7,292.7L446.5,292.4L448.3,292.1L450.0,291.8L451.8,291.5L453.6,291.3L455.4,291.0L457.2,290.8L459.0,290.7L460.7,290.5L462.5,290.4L464.3,290.4L466.1,290.4L467.9,290.4L469.7,290.5L471.4,290.6L473.2,290.8L475.0,291.1L475.0,291.1L473.2,291.8L471.4,292.3L469.7,292.8L467.9,293.2L466.1,293.6L464.3,293.9L462.5,294.2L460.7,294.5L459.0,294.7L457.2,294.8L455.4,295.0L453.6,295.1L451.8,295.2L450.0,295.3L448.3,295.4L446.5,295.4L444.7,295.4L442.9,295.5L441.1,295.4L439.3,295.4L437.6,295.4L435.8,295.3L434.0,295.1Z" fill="#b5b5b5"/>
<path d="M400.6,282.1L403.2,280.8L405.7,279.8L408.3,278.8L410.9,277.8L413.5,276.9L416.1,276.0L418.7,275.1L421.3,274.2L423.9,273.4L426.5,272.6L429.1,271.8L431.7,271.1L434.3,270.3L436.9,269.6L439.5,269.0L442.1,268.4L444.7,267.9L447.3,267.4L449.9,267.0L452.4,266.7L455.0,266.4L457.6,266.2L460.2,266.1L462.8,265.9L465.4,265.9L468.0,265.9L470.6,266.0L473.2,266.1L475.8,266.5L475.8,266.5L473.2,268.2L470.6,269.5L468.0,270.8L465.4,271.9L462.8,273.0L460.2,274.0L457.6,274.9L455.0,275.8L452.4,276.6L449.9,277.3L447.3,277.9L444.7,278.5L442.1,279.0L439.5,279.5L436.9,280.0L434.3,280.4L431.7,280.8L429.1,281.2L426.5,281.5L423.9,281.8L421.3,282.0L418.7,282.2L416.1,282.4L413.5,282.5L410.9,282.5L408.3,282.6L405.7,282.5L403.2,282.4L400.6,282.1Z" fill="#b8b8b8"/>
<path d="M406.5,280.9L408.8,279.8L411.0,278.8L413.3,278.0L415.5,277.1L417.8,276.3L420.0,275.5L422.3,274.7L424.5,274.0L426.8,273.2L429.0,272.5L431.3,271.9L433.5,271.2L435.8,270.6L438.0,270.0L440.3,269.5L442.5,269.0L444.8,268.6L447.1,268.2L449.3,267.9L451.6,267.6L453.8,267.4L456.1,267.2L458.3,267.0L460.6,266.9L462.8,266.9L465.1,266.9L467.3,266.9L469.6,267.0L471.8,267.3L471.8,267.3L469.6,268.7L467.3,269.8L465.1,270.8L462.8,271.7L460.6,272.6L458.3,273.5L456.1,274.2L453.8,275.0L451.6,275.7L449.3,276.3L447.1,276.8L444.8,277.3L442.5,277.8L440.3,278.2L438.0,278.7L435.8,279.1L433.5,279.4L431.3,279.8L429.0,280.1L426.8,280.3L424.5,280.6L422.3,280.8L420.0,280.9L417.8,281.1L415.5,281.1L413.3,281.2L411.0,281.2L408.8,281.1L406.5,280.9Z" fill="#cccccc"/>
<path d="M412.4,279.6L414.3,278.7L416.2,278.0L418.1,277.2L420.0,276.5L421.8,275.8L423.7,275.2L425.6,274.5L427.5,273.9L429.3,273.3L431.2,272.7L433.1,272.2L435.0,271.6L436.8,271.1L438.7,270.7L440.6,270.2L442.5,269.8L444.4,269.5L446.2,269.2L448.1,268.9L450.0,268.7L451.9,268.5L453.7,268.3L455.6,268.2L457.5,268.1L459.4,268.0L461.3,268.0L463.1,268.0L465.0,268.1L466.9,268.3L466.9,268.3L465.0,269.4L463.1,270.2L461.3,271.0L459.4,271.8L457.5,272.5L455.6,273.1L453.7,273.8L451.9,274.4L450.0,274.9L448.1,275.4L446.2,275.9L444.4,276.3L442.5,276.7L440.6,277.1L438.7,277.5L436.8,277.8L435.0,278.1L433.1,278.4L431.2,278.7L429.3,278.9L427.5,279.1L425.6,279.3L423.7,279.5L421.8,279.6L420.0,279.7L418.1,279.8L416.2,279.8L414.3,279.8L412.4,279.6Z" fill="#e0e0e0"/>
<path d="M420.4,277.9L421.7,277.4L423.0,276.8L424.3,276.4L425.5,275.9L426.8,275.4L428.1,275.0L429.4,274.6L430.7,274.2L432.0,273.8L433.3,273.4L434.6,273.0L435.9,272.6L437.2,272.3L438.5,272.0L439.8,271.7L441.1,271.4L442.4,271.1L443.7,270.9L445.0,270.7L446.3,270.6L447.6,270.4L448.9,270.3L450.2,270.2L451.5,270.1L452.8,270.0L454.1,270.0L455.4,270.0L456.7,270.0L458.0,270.1L458.0,270.1L456.7,270.7L455.4,271.2L454.1,271.7L452.8,272.1L451.5,272.6L450.2,273.0L448.9,273.4L447.6,273.7L446.3,274.1L445.0,274.4L443.7,274.7L442.4,275.0L441.1,275.3L439.8,275.6L438.5,275.8L437.2,276.1L435.9,276.3L434.6,276.5L433.3,276.7L432.0,276.9L430.7,277.1L429.4,277.3L428.1,277.4L426.8,277.6L425.5,277.7L424.3,277.8L423.0,277.9L421.7,278.0L420.4,277.9Z" fill="#fafafa"/>
</g>
</g></g>
<rect x="307.5" y="220.5" width="198.00" height="168.00" fill="none" stroke="#949494" stroke-width="1"/>
<path d="M307.5,371.70h2M505.5,371.70h-2M307.5,338.10h2M505.5,338.10h-2M307.5,304.50h2M505.5,304.50h-2M307.5,270.90h2M505.5,270.90h-2M307.5,237.30h2M505.5,237.30h-2M307.50,388.5v-2M307.50,220.5v2M357.00,388.5v-2M357.00,220.5v2M406.50,388.5v-2M406.50,220.5v2M456.00,388.5v-2M456.00,220.5v2M505.50,388.5v-2M505.50,220.5v2" stroke="#949494" stroke-width="0.8" fill="none"/>
<text x="29.90" y="177.70" font-size="11.5" text-anchor="end" fill="#222" stroke="#222">-2</text>
<text x="29.90" y="136.45" font-size="11.5" text-anchor="end" fill="#222" stroke="#222">-1</text>
<text x="29.90" y="95.20" font-size="11.5" text-anchor="end" fill="#222" stroke="#222">0</text>
<text x="29.90" y="53.95" font-size="11.5" text-anchor="end" fill="#222" stroke="#222">1</text>
<text x="29.90" y="12.70" font-size="11.5" text-anchor="end" fill="#222" stroke="#222">2</text>
<text x="34.50" y="188.00" font-size="11.5" text-anchor="middle" fill="#222" stroke="#222">0</text>
<text x="83.00" y="188.00" font-size="11.5" text-anchor="middle" fill="#222" stroke="#222">50</text>
<text x="131.50" y="188.00" font-size="11.5" text-anchor="middle" fill="#222" stroke="#222">100</text>
<text x="180.00" y="188.00" font-size="11.5" text-anchor="middle" fill="#222" stroke="#222">150</text>
<text x="228.50" y="188.00" font-size="11.5" text-anchor="middle" fill="#222" stroke="#222">200</text>
<text x="303.90" y="164.00" font-size="11.5" text-anchor="end" fill="#222" stroke="#222">-2</text>
<text x="303.90" y="130.60" font-size="11.5" text-anchor="end" fill="#222" stroke="#222">-1</text>
<text x="303.90" y="97.20" font-size="11.5" text-anchor="end" fill="#222" stroke="#222">0</text>
<text x="303.90" y="63.80" font-size="11.5" text-anchor="end" fill="#222" stroke="#222">1</text>
<text x="303.90" y="30.40" font-size="11.5" text-anchor="end" fill="#222" stroke="#222">2</text>
<text x="308.50" y="189.60" font-size="11.5" text-anchor="middle" fill="#222" stroke="#222">0</text>
<text x="357.25" y="189.60" font-size="11.5" text-anchor="middle" fill="#222" stroke="#222">50</text>
<text x="406.00" y="189.60" font-size="11.5" text-anchor="middle" fill="#222" stroke="#222">100</text>
<text x="454.75" y="189.60" font-size="11.5" text-anchor="middle" fill="#222" stroke="#222">150</text>
<text x="503.50" y="189.60" font-size="11.5" text-anchor="middle" fill="#222" stroke="#222">200</text>
<text x="27.90" y="375.90" font-size="11.5" text-anchor="end" fill="#222" stroke="#222">-2</text>
<text x="27.90" y="342.30" font-size="11.5" text-anchor="end" fill="#222" stroke="#222">-1</text>
<text x="27.90" y="308.70" font-size="11.5" text-anchor="end" fill="#222" stroke="#222">0</text>
<text x="27.90" y="275.10" font-size="11.5" text-anchor="end" fill="#222" stroke="#222">1</text>
<text x="27.90" y="241.50" font-size="11.5" text-anchor="end" fill="#222" stroke="#222">2</text>
<text x="32.50" y="401.00" font-size="11.5" text-anchor="middle" fill="#222" stroke="#222">0</text>
<text x="81.75" y="401.00" font-size="11.5" text-anchor="middle" fill="#222" stroke="#222">50</text>
<text x="131.00" y="401.00" font-size="11.5" text-anchor="middle" fill="#222" stroke="#222">100</text>
<text x="180.25" y="401.00" font-size="11.5" text-anchor="middle" fill="#222" stroke="#222">150</text>
<text x="229.50" y="401.00" font-size="11.5" text-anchor="middle" fill="#222" stroke="#222">200</text>
<text x="302.90" y="375.50" font-size="11.5" text-anchor="end" fill="#222" stroke="#222">-2</text>
<text x="302.90" y="341.90" font-size="11.5" text-anchor="end" fill="#222" stroke="#222">-1</text>
<text x="302.90" y="308.30" font-size="11.5" text-anchor="end" fill="#222" stroke="#222">0</text>
<text x="302.90" y="274.70" font-size="11.5" text-anchor="end" fill="#222" stroke="#222">1</text>
<text x="302.90" y="241.10" font-size="11.5" text-anchor="end" fill="#222" stroke="#222">2</text>
<text x="307.50" y="401.40" font-size="11.5" text-anchor="middle" fill="#222" stroke="#222">0</text>
<text x="357.00" y="401.40" font-size="11.5" text-anchor="middle" fill="#222" stroke="#222">50</text>
<text x="406.50" y="401.40" font-size="11.5" text-anchor="middle" fill="#222" stroke="#222">100</text>
<text x="456.00" y="401.40" font-size="11.5" text-anchor="middle" fill="#222" stroke="#222">150</text>
<text x="505.50" y="401.40" font-size="11.5" text-anchor="middle" fill="#222" stroke="#222">200</text>
<text x="81.3" y="204.0" font-size="14" textLength="96.5" lengthAdjust="spacingAndGlyphs" fill="#111" stroke="#111">Frequency (kHz)</text>
<text x="353.8" y="204.0" font-size="14" textLength="97.2" lengthAdjust="spacingAndGlyphs" fill="#111" stroke="#111">Frequency (kHz)</text>
<text x="78.6" y="417.0" font-size="14" textLength="98.3" lengthAdjust="spacingAndGlyphs" fill="#111" stroke="#111">Frequency (kHz)</text>
<text x="359.0" y="416.2" font-size="14" textLength="97.5" lengthAdjust="spacingAndGlyphs" fill="#111" stroke="#111">Frequency (kHz)</text>
<text transform="translate(18.0,156.4) rotate(-90)" x="0" y="0" font-size="13.5" textLength="124.6" lengthAdjust="spacingAndGlyphs" fill="#111" stroke="#111">Wavenumber (rad/m)</text>
<text transform="translate(285.6,155.2) rotate(-90)" x="0" y="0" font-size="13.5" textLength="125.9" lengthAdjust="spacingAndGlyphs" fill="#111" stroke="#111">Wavenumber (rad/m)</text>
<text transform="translate(17.0,368.1) rotate(-90)" x="0" y="0" font-size="13.5" textLength="125.3" lengthAdjust="spacingAndGlyphs" fill="#111" stroke="#111">Wavenumber (rad/m)</text>
<text transform="translate(292.6,365.2) rotate(-90)" x="0" y="0" font-size="13.5" textLength="123.9" lengthAdjust="spacingAndGlyphs" fill="#111" stroke="#111">Wavenumber (rad/m)</text>
<text x="13.8" y="203.2" font-size="13.5" fill="#111" stroke="#111">(<tspan font-weight="bold">a</tspan>)</text>
<text x="301.8" y="203.6" font-size="13.5" fill="#111" stroke="#111">(<tspan font-weight="bold">b</tspan>)</text>
<text x="8.7" y="416.0" font-size="13.5" fill="#111" stroke="#111">(<tspan font-weight="bold">c</tspan>)</text>
<text x="294.4" y="416.0" font-size="13.5" fill="#111" stroke="#111">(<tspan font-weight="bold">d</tspan>)</text>
<polyline points="34.50,91.00 36.96,88.21 39.41,86.64 41.87,85.36 44.32,84.25 46.78,83.29 49.23,82.40 51.69,81.56 54.15,80.78 56.60,80.06 59.06,79.41 61.51,78.84 63.97,78.33 66.42,77.86 68.88,77.43 71.34,77.03 73.79,76.65 76.25,76.29 78.70,75.93 81.16,75.58 83.61,75.22 86.07,74.85 88.53,74.47 90.98,74.11 93.44,73.75 95.89,73.40 98.35,73.04 100.80,72.69 103.26,72.33 105.72,71.96 108.17,71.58 110.63,71.20 113.08,70.81 115.54,70.43 117.99,70.03 120.45,69.64 122.91,69.24 125.36,68.83 127.82,68.42 130.27,68.00 132.73,67.58 135.18,67.15 137.64,66.71 140.09,66.27 142.55,65.82 145.01,65.37 147.46,64.91 149.92,64.45 152.37,63.99 154.83,63.52 157.28,63.05 159.74,62.59 162.20,62.12 164.65,61.65 167.11,61.18 169.56,60.71 172.02,60.24 174.47,59.76 176.93,59.29 179.39,58.81 181.84,58.33 184.30,57.85 186.75,57.36 189.21,56.87 191.66,56.38 194.12,55.89 196.58,55.39 199.03,54.88 201.49,54.37 203.94,53.86 206.40,53.34 208.85,52.82 211.31,52.30 213.77,51.77 216.22,51.23 218.68,50.70 221.13,50.16 223.59,49.61 226.04,49.06 228.50,48.51" fill="none" stroke="#111" stroke-width="1.5" clip-path="url(#clipa)"/>
<polyline points="34.50,91.00 36.96,90.72 39.41,90.45 41.87,90.17 44.32,89.89 46.78,89.62 49.23,89.34 51.69,89.06 54.15,88.79 56.60,88.51 59.06,88.23 61.51,87.96 63.97,87.68 66.42,87.40 68.88,87.13 71.34,86.85 73.79,86.57 76.25,86.30 78.70,86.02 81.16,85.74 83.61,85.47 86.07,85.19 88.53,84.91 90.98,84.63 93.44,84.36 95.89,84.08 98.35,83.80 100.80,83.53 103.26,83.25 105.72,82.97 108.17,82.70 110.63,82.42 113.08,82.14 115.54,81.87 117.99,81.59 120.45,81.31 122.91,81.04 125.36,80.76 127.82,80.48 130.27,80.21 132.73,79.93 135.18,79.65 137.64,79.38 140.09,79.10 142.55,78.82 145.01,78.55 147.46,78.27 149.92,77.99 152.37,77.72 154.83,77.44 157.28,77.16 159.74,76.89 162.20,76.61 164.65,76.33 167.11,76.06 169.56,75.78 172.02,75.50 174.47,75.23 176.93,74.95 179.39,74.67 181.84,74.40 184.30,74.12 186.75,73.84 189.21,73.57 191.66,73.29 194.12,73.01 196.58,72.74 199.03,72.46 201.49,72.18 203.94,71.90 206.40,71.63 208.85,71.35 211.31,71.07 213.77,70.80 216.22,70.52 218.68,70.24 221.13,69.97 223.59,69.69 226.04,69.41 228.50,69.14" fill="none" stroke="#1010f0" stroke-width="1.5" clip-path="url(#clipa)"/>
<polyline points="34.50,91.00 36.96,90.87 39.41,90.73 41.87,90.59 44.32,90.45 46.78,90.31 49.23,90.17 51.69,90.03 54.15,89.88 56.60,89.74 59.06,89.59 61.51,89.44 63.97,89.29 66.42,89.14 68.88,88.99 71.34,88.83 73.79,88.68 76.25,88.52 78.70,88.36 81.16,88.20 83.61,88.04 86.07,87.88 88.53,87.72 90.98,87.55 93.44,87.39 95.89,87.22 98.35,87.05 100.80,86.88 103.26,86.71 105.72,86.53 108.17,86.36 110.63,86.18 113.08,86.01 115.54,85.83 117.99,85.65 120.45,85.47 122.91,85.28 125.36,85.10 127.82,84.92 130.27,84.73 132.73,84.54 135.18,84.35 137.64,84.16 140.09,83.97 142.55,83.78 145.01,83.58 147.46,83.38 149.92,83.19 152.37,82.99 154.83,82.79 157.28,82.59 159.74,82.38 162.20,82.18 164.65,81.97 167.11,81.77 169.56,81.56 172.02,81.35 174.47,81.14 176.93,80.93 179.39,80.71 181.84,80.50 184.30,80.28 186.75,80.06 189.21,79.84 191.66,79.62 194.12,79.40 196.58,79.18 199.03,78.95 201.49,78.73 203.94,78.50 206.40,78.27 208.85,78.04 211.31,77.81 213.77,77.58 216.22,77.34 218.68,77.11 221.13,76.87 223.59,76.63 226.04,76.39 228.50,76.15" fill="none" stroke="#f01010" stroke-width="1.5" clip-path="url(#clipa)"/>
<polyline points="34.50,91.00 36.96,91.13 39.41,91.27 41.87,91.41 44.32,91.55 46.78,91.69 49.23,91.83 51.69,91.97 54.15,92.12 56.60,92.26 59.06,92.41 61.51,92.56 63.97,92.71 66.42,92.86 68.88,93.01 71.34,93.17 73.79,93.32 76.25,93.48 78.70,93.64 81.16,93.80 83.61,93.96 86.07,94.12 88.53,94.28 90.98,94.45 93.44,94.61 95.89,94.78 98.35,94.95 100.80,95.12 103.26,95.29 105.72,95.47 108.17,95.64 110.63,95.82 113.08,95.99 115.54,96.17 117.99,96.35 120.45,96.53 122.91,96.72 125.36,96.90 127.82,97.08 130.27,97.27 132.73,97.46 135.18,97.65 137.64,97.84 140.09,98.03 142.55,98.22 145.01,98.42 147.46,98.62 149.92,98.81 152.37,99.01 154.83,99.21 157.28,99.41 159.74,99.62 162.20,99.82 164.65,100.03 167.11,100.23 169.56,100.44 172.02,100.65 174.47,100.86 176.93,101.07 179.39,101.29 181.84,101.50 184.30,101.72 186.75,101.94 189.21,102.16 191.66,102.38 194.12,102.60 196.58,102.82 199.03,103.05 201.49,103.27 203.94,103.50 206.40,103.73 208.85,103.96 211.31,104.19 213.77,104.42 216.22,104.66 218.68,104.89 221.13,105.13 223.59,105.37 226.04,105.61 228.50,105.85" fill="none" stroke="#f01010" stroke-width="1.6" stroke-dasharray="4,3" clip-path="url(#clipa)"/>
<polyline points="34.50,91.00 36.96,91.29 39.41,91.57 41.87,91.86 44.32,92.15 46.78,92.44 49.23,92.72 51.69,93.01 54.15,93.30 56.60,93.58 59.06,93.87 61.51,94.16 63.97,94.45 66.42,94.73 68.88,95.02 71.34,95.31 73.79,95.59 76.25,95.88 78.70,96.17 81.16,96.46 83.61,96.74 86.07,97.03 88.53,97.32 90.98,97.61 93.44,97.89 95.89,98.18 98.35,98.47 100.80,98.75 103.26,99.04 105.72,99.33 108.17,99.62 110.63,99.90 113.08,100.19 115.54,100.48 117.99,100.76 120.45,101.05 122.91,101.34 125.36,101.63 127.82,101.91 130.27,102.20 132.73,102.49 135.18,102.77 137.64,103.06 140.09,103.35 142.55,103.64 145.01,103.92 147.46,104.21 149.92,104.50 152.37,104.78 154.83,105.07 157.28,105.36 159.74,105.65 162.20,105.93 164.65,106.22 167.11,106.51 169.56,106.80 172.02,107.08 174.47,107.37 176.93,107.66 179.39,107.94 181.84,108.23 184.30,108.52 186.75,108.81 189.21,109.09 191.66,109.38 194.12,109.67 196.58,109.95 199.03,110.24 201.49,110.53 203.94,110.82 206.40,111.10 208.85,111.39 211.31,111.68 213.77,111.96 216.22,112.25 218.68,112.54 221.13,112.83 223.59,113.11 226.04,113.40 228.50,113.69" fill="none" stroke="#1010f0" stroke-width="1.6" stroke-dasharray="4,3" clip-path="url(#clipa)"/>
<polyline points="34.50,92.24 36.96,92.95 39.41,93.63 41.87,94.31 44.32,94.99 46.78,95.65 49.23,96.31 51.69,96.96 54.15,97.61 56.60,98.25 59.06,98.89 61.51,99.53 63.97,100.16 66.42,100.79 68.88,101.42 71.34,102.05 73.79,102.68 76.25,103.30 78.70,103.94 81.16,104.57 83.61,105.20 86.07,105.83 88.53,106.45 90.98,107.07 93.44,107.68 95.89,108.29 98.35,108.89 100.80,109.47 103.26,110.05 105.72,110.61 108.17,111.16 110.63,111.69 113.08,112.22 115.54,112.74 117.99,113.24 120.45,113.74 122.91,114.24 125.36,114.72 127.82,115.20 130.27,115.68 132.73,116.15 135.18,116.62 137.64,117.08 140.09,117.54 142.55,118.00 145.01,118.46 147.46,118.92 149.92,119.38 152.37,119.83 154.83,120.29 157.28,120.73 159.74,121.18 162.20,121.62 164.65,122.05 167.11,122.49 169.56,122.92 172.02,123.35 174.47,123.78 176.93,124.21 179.39,124.65 181.84,125.08 184.30,125.51 186.75,125.95 189.21,126.39 191.66,126.83 194.12,127.27 196.58,127.71 199.03,128.15 201.49,128.60 203.94,129.04 206.40,129.48 208.85,129.93 211.31,130.37 213.77,130.81 216.22,131.26 218.68,131.70 221.13,132.15 223.59,132.59 226.04,133.04 228.50,133.49" fill="none" stroke="#111" stroke-width="1.6" stroke-dasharray="4,3" clip-path="url(#clipa)"/>
<polyline points="308.50,92.00 310.97,89.60 313.44,88.25 315.91,87.14 318.37,86.19 320.84,85.36 323.31,84.59 325.78,83.87 328.25,83.20 330.72,82.58 333.18,82.02 335.65,81.53 338.12,81.09 340.59,80.69 343.06,80.32 345.53,79.97 347.99,79.65 350.46,79.33 352.93,79.03 355.40,78.72 357.87,78.41 360.34,78.09 362.80,77.77 365.27,77.46 367.74,77.15 370.21,76.85 372.68,76.54 375.15,76.24 377.61,75.93 380.08,75.61 382.55,75.28 385.02,74.96 387.49,74.62 389.96,74.29 392.42,73.95 394.89,73.61 397.36,73.27 399.83,72.92 402.30,72.56 404.77,72.20 407.23,71.84 409.70,71.47 412.17,71.09 414.64,70.71 417.11,70.32 419.58,69.94 422.04,69.54 424.51,69.15 426.98,68.75 429.45,68.35 431.92,67.94 434.39,67.54 436.85,67.14 439.32,66.73 441.79,66.33 444.26,65.92 446.73,65.52 449.20,65.11 451.66,64.70 454.13,64.29 456.60,63.88 459.07,63.46 461.54,63.05 464.01,62.62 466.47,62.20 468.94,61.77 471.41,61.34 473.88,60.91 476.35,60.47 478.82,60.03 481.28,59.59 483.75,59.14 486.22,58.69 488.69,58.23 491.16,57.77 493.63,57.31 496.09,56.84 498.56,56.37 501.03,55.90 503.50,55.43" fill="none" stroke="#111" stroke-width="1.5" clip-path="url(#clipb)"/>
<polyline points="308.50,92.00 310.97,94.46 313.44,95.84 315.91,96.97 318.37,97.94 320.84,98.79 323.31,99.58 325.78,100.31 328.25,101.00 330.72,101.63 333.18,102.20 335.65,102.71 338.12,103.16 340.59,103.57 343.06,103.95 345.53,104.30 347.99,104.64 350.46,104.96 352.93,105.27 355.40,105.58 357.87,105.90 360.34,106.22 362.80,106.55 365.27,106.87 367.74,107.19 370.21,107.50 372.68,107.81 375.15,108.12 377.61,108.44 380.08,108.77 382.55,109.10 385.02,109.43 387.49,109.77 389.96,110.11 392.42,110.46 394.89,110.81 397.36,111.16 399.83,111.52 402.30,111.88 404.77,112.25 407.23,112.62 409.70,113.00 412.17,113.39 414.64,113.78 417.11,114.17 419.58,114.57 422.04,114.97 424.51,115.38 426.98,115.78 429.45,116.19 431.92,116.60 434.39,117.02 436.85,117.43 439.32,117.84 441.79,118.26 444.26,118.67 446.73,119.09 449.20,119.50 451.66,119.92 454.13,120.34 456.60,120.76 459.07,121.19 461.54,121.62 464.01,122.05 466.47,122.48 468.94,122.92 471.41,123.36 473.88,123.80 476.35,124.25 478.82,124.70 481.28,125.15 483.75,125.61 486.22,126.08 488.69,126.54 491.16,127.01 493.63,127.48 496.09,127.96 498.56,128.44 501.03,128.92 503.50,129.41" fill="none" stroke="#111" stroke-width="1.5" clip-path="url(#clipb)"/>
<polyline points="308.50,92.00 310.97,91.85 313.44,91.70 315.91,91.54 318.37,91.38 320.84,91.22 323.31,91.06 325.78,90.89 328.25,90.72 330.72,90.54 333.18,90.37 335.65,90.19 338.12,90.01 340.59,89.82 343.06,89.64 345.53,89.44 347.99,89.25 350.46,89.06 352.93,88.86 355.40,88.65 357.87,88.45 360.34,88.24 362.80,88.03 365.27,87.82 367.74,87.60 370.21,87.38 372.68,87.16 375.15,86.94 377.61,86.71 380.08,86.48 382.55,86.24 385.02,86.01 387.49,85.77 389.96,85.53 392.42,85.28 394.89,85.03 397.36,84.78 399.83,84.53 402.30,84.27 404.77,84.01 407.23,83.75 409.70,83.49 412.17,83.22 414.64,82.95 417.11,82.68 419.58,82.40 422.04,82.12 424.51,81.84 426.98,81.55 429.45,81.26 431.92,80.97 434.39,80.68 436.85,80.38 439.32,80.08 441.79,79.78 444.26,79.48 446.73,79.17 449.20,78.86 451.66,78.54 454.13,78.23 456.60,77.91 459.07,77.59 461.54,77.26 464.01,76.93 466.47,76.60 468.94,76.27 471.41,75.93 473.88,75.59 476.35,75.25 478.82,74.90 481.28,74.55 483.75,74.20 486.22,73.85 488.69,73.49 491.16,73.13 493.63,72.77 496.09,72.41 498.56,72.04 501.03,71.67 503.50,71.29" fill="none" stroke="#f01010" stroke-width="1.5" clip-path="url(#clipb)"/>
<polyline points="308.50,92.00 310.97,92.15 313.44,92.31 315.91,92.47 318.37,92.63 320.84,92.80 323.31,92.96 325.78,93.13 328.25,93.31 330.72,93.48 333.18,93.66 335.65,93.85 338.12,94.03 340.59,94.22 343.06,94.41 345.53,94.61 347.99,94.80 350.46,95.00 352.93,95.21 355.40,95.41 357.87,95.62 360.34,95.83 362.80,96.05 365.27,96.27 367.74,96.49 370.21,96.71 372.68,96.94 375.15,97.16 377.61,97.40 380.08,97.63 382.55,97.87 385.02,98.11 387.49,98.36 389.96,98.60 392.42,98.85 394.89,99.10 397.36,99.36 399.83,99.62 402.30,99.88 404.77,100.15 407.23,100.41 409.70,100.68 412.17,100.96 414.64,101.23 417.11,101.51 419.58,101.79 422.04,102.08 424.51,102.37 426.98,102.66 429.45,102.95 431.92,103.25 434.39,103.55 436.85,103.85 439.32,104.15 441.79,104.46 444.26,104.77 446.73,105.09 449.20,105.41 451.66,105.73 454.13,106.05 456.60,106.37 459.07,106.70 461.54,107.03 464.01,107.37 466.47,107.71 468.94,108.05 471.41,108.39 473.88,108.74 476.35,109.09 478.82,109.44 481.28,109.79 483.75,110.15 486.22,110.51 488.69,110.88 491.16,111.24 493.63,111.61 496.09,111.99 498.56,112.36 501.03,112.74 503.50,113.12" fill="none" stroke="#f01010" stroke-width="1.5" clip-path="url(#clipb)"/>
<polyline points="308.50,92.00 310.97,91.64 313.44,91.27 315.91,90.91 318.37,90.55 320.84,90.18 323.31,89.82 325.78,89.45 328.25,89.09 330.72,88.73 333.18,88.36 335.65,88.00 338.12,87.64 340.59,87.27 343.06,86.91 345.53,86.55 347.99,86.18 350.46,85.82 352.93,85.46 355.40,85.09 357.87,84.73 360.34,84.36 362.80,84.00 365.27,83.64 367.74,83.27 370.21,82.91 372.68,82.55 375.15,82.18 377.61,81.82 380.08,81.46 382.55,81.09 385.02,80.73 387.49,80.36 389.96,80.00 392.42,79.64 394.89,79.27 397.36,78.91 399.83,78.55 402.30,78.18 404.77,77.82 407.23,77.46 409.70,77.09 412.17,76.73 414.64,76.37 417.11,76.00 419.58,75.64 422.04,75.27 424.51,74.91 426.98,74.55 429.45,74.18 431.92,73.82 434.39,73.46 436.85,73.09 439.32,72.73 441.79,72.37 444.26,72.00 446.73,71.64 449.20,71.28 451.66,70.91 454.13,70.55 456.60,70.18 459.07,69.82 461.54,69.46 464.01,69.09 466.47,68.73 468.94,68.37 471.41,68.00 473.88,67.64 476.35,67.28 478.82,66.91 481.28,66.55 483.75,66.18 486.22,65.82 488.69,65.46 491.16,65.09 493.63,64.73 496.09,64.37 498.56,64.00 501.03,63.64 503.50,63.28" fill="none" stroke="#1010f0" stroke-width="1.6" stroke-dasharray="4,3" clip-path="url(#clipb)"/>
<polyline points="308.50,92.00 310.97,92.38 313.44,92.77 315.91,93.15 318.37,93.54 320.84,93.92 323.31,94.31 325.78,94.69 328.25,95.08 330.72,95.46 333.18,95.85 335.65,96.23 338.12,96.62 340.59,97.00 343.06,97.39 345.53,97.77 347.99,98.16 350.46,98.54 352.93,98.93 355.40,99.31 357.87,99.69 360.34,100.08 362.80,100.46 365.27,100.85 367.74,101.23 370.21,101.62 372.68,102.00 375.15,102.39 377.61,102.77 380.08,103.16 382.55,103.54 385.02,103.93 387.49,104.31 389.96,104.70 392.42,105.08 394.89,105.47 397.36,105.85 399.83,106.24 402.30,106.62 404.77,107.00 407.23,107.39 409.70,107.77 412.17,108.16 414.64,108.54 417.11,108.93 419.58,109.31 422.04,109.70 424.51,110.08 426.98,110.47 429.45,110.85 431.92,111.24 434.39,111.62 436.85,112.01 439.32,112.39 441.79,112.78 444.26,113.16 446.73,113.55 449.20,113.93 451.66,114.31 454.13,114.70 456.60,115.08 459.07,115.47 461.54,115.85 464.01,116.24 466.47,116.62 468.94,117.01 471.41,117.39 473.88,117.78 476.35,118.16 478.82,118.55 481.28,118.93 483.75,119.32 486.22,119.70 488.69,120.09 491.16,120.47 493.63,120.86 496.09,121.24 498.56,121.62 501.03,122.01 503.50,122.39" fill="none" stroke="#1010f0" stroke-width="1.6" stroke-dasharray="4,3" clip-path="url(#clipb)"/>
<polyline points="32.50,304.50 34.99,302.16 37.49,300.84 39.98,299.77 42.47,298.84 44.97,298.03 47.46,297.29 49.96,296.58 52.45,295.93 54.94,295.33 57.44,294.79 59.93,294.30 62.42,293.88 64.92,293.48 67.41,293.12 69.91,292.79 72.40,292.47 74.89,292.16 77.39,291.87 79.88,291.57 82.37,291.27 84.87,290.96 87.36,290.65 89.85,290.34 92.35,290.04 94.84,289.74 97.34,289.45 99.83,289.15 102.32,288.85 104.82,288.54 107.31,288.22 109.80,287.90 112.30,287.58 114.79,287.25 117.28,286.92 119.78,286.59 122.27,286.26 124.77,285.91 127.26,285.57 129.75,285.22 132.25,284.86 134.74,284.50 137.23,284.14 139.73,283.77 142.22,283.39 144.72,283.01 147.21,282.63 149.70,282.24 152.20,281.86 154.69,281.47 157.18,281.07 159.68,280.68 162.17,280.29 164.66,279.89 167.16,279.50 169.65,279.11 172.15,278.71 174.64,278.31 177.13,277.92 179.63,277.52 182.12,277.11 184.61,276.71 187.11,276.30 189.60,275.89 192.09,275.48 194.59,275.07 197.08,274.65 199.58,274.22 202.07,273.80 204.56,273.37 207.06,272.93 209.55,272.50 212.04,272.06 214.54,271.61 217.03,271.17 219.53,270.72 222.02,270.26 224.51,269.81 227.01,269.35 229.50,268.88" fill="none" stroke="#111" stroke-width="1.5" clip-path="url(#clipc)"/>
<polyline points="32.50,304.50 34.99,306.84 37.49,308.16 39.98,309.23 42.47,310.16 44.97,310.97 47.46,311.71 49.96,312.42 52.45,313.07 54.94,313.67 57.44,314.21 59.93,314.70 62.42,315.12 64.92,315.52 67.41,315.88 69.91,316.21 72.40,316.53 74.89,316.84 77.39,317.13 79.88,317.43 82.37,317.73 84.87,318.04 87.36,318.35 89.85,318.66 92.35,318.96 94.84,319.26 97.34,319.55 99.83,319.85 102.32,320.15 104.82,320.46 107.31,320.78 109.80,321.10 112.30,321.42 114.79,321.75 117.28,322.08 119.78,322.41 122.27,322.74 124.77,323.09 127.26,323.43 129.75,323.78 132.25,324.14 134.74,324.50 137.23,324.86 139.73,325.23 142.22,325.61 144.72,325.99 147.21,326.37 149.70,326.76 152.20,327.14 154.69,327.53 157.18,327.93 159.68,328.32 162.17,328.71 164.66,329.11 167.16,329.50 169.65,329.89 172.15,330.29 174.64,330.69 177.13,331.08 179.63,331.48 182.12,331.89 184.61,332.29 187.11,332.70 189.60,333.11 192.09,333.52 194.59,333.93 197.08,334.35 199.58,334.78 202.07,335.20 204.56,335.63 207.06,336.07 209.55,336.50 212.04,336.94 214.54,337.39 217.03,337.83 219.53,338.28 222.02,338.74 224.51,339.19 227.01,339.65 229.50,340.12" fill="none" stroke="#111" stroke-width="1.5" clip-path="url(#clipc)"/>
<polyline points="32.50,304.50 34.99,304.18 37.49,303.86 39.98,303.54 42.47,303.22 44.97,302.91 47.46,302.59 49.96,302.27 52.45,301.95 54.94,301.63 57.44,301.31 59.93,300.99 62.42,300.67 64.92,300.35 67.41,300.03 69.91,299.72 72.40,299.40 74.89,299.08 77.39,298.76 79.88,298.44 82.37,298.12 84.87,297.80 87.36,297.48 89.85,297.16 92.35,296.84 94.84,296.53 97.34,296.21 99.83,295.89 102.32,295.57 104.82,295.25 107.31,294.93 109.80,294.61 112.30,294.29 114.79,293.97 117.28,293.65 119.78,293.34 122.27,293.02 124.77,292.70 127.26,292.38 129.75,292.06 132.25,291.74 134.74,291.42 137.23,291.10 139.73,290.78 142.22,290.46 144.72,290.15 147.21,289.83 149.70,289.51 152.20,289.19 154.69,288.87 157.18,288.55 159.68,288.23 162.17,287.91 164.66,287.59 167.16,287.27 169.65,286.96 172.15,286.64 174.64,286.32 177.13,286.00 179.63,285.68 182.12,285.36 184.61,285.04 187.11,284.72 189.60,284.40 192.09,284.08 194.59,283.77 197.08,283.45 199.58,283.13 202.07,282.81 204.56,282.49 207.06,282.17 209.55,281.85 212.04,281.53 214.54,281.21 217.03,280.89 219.53,280.58 222.02,280.26 224.51,279.94 227.01,279.62 229.50,279.30" fill="none" stroke="#1010f0" stroke-width="1.5" clip-path="url(#clipc)"/>
<polyline points="32.50,304.50 34.99,304.36 37.49,304.21 39.98,304.06 42.47,303.92 44.97,303.77 47.46,303.62 49.96,303.46 52.45,303.31 54.94,303.15 57.44,303.00 59.93,302.84 62.42,302.68 64.92,302.52 67.41,302.35 69.91,302.19 72.40,302.02 74.89,301.86 77.39,301.69 79.88,301.52 82.37,301.35 84.87,301.17 87.36,301.00 89.85,300.82 92.35,300.65 94.84,300.47 97.34,300.29 99.83,300.10 102.32,299.92 104.82,299.74 107.31,299.55 109.80,299.36 112.30,299.17 114.79,298.98 117.28,298.79 119.78,298.60 122.27,298.40 124.77,298.20 127.26,298.01 129.75,297.81 132.25,297.61 134.74,297.40 137.23,297.20 139.73,296.99 142.22,296.79 144.72,296.58 147.21,296.37 149.70,296.16 152.20,295.94 154.69,295.73 157.18,295.51 159.68,295.30 162.17,295.08 164.66,294.86 167.16,294.64 169.65,294.41 172.15,294.19 174.64,293.96 177.13,293.73 179.63,293.50 182.12,293.27 184.61,293.04 187.11,292.81 189.60,292.57 192.09,292.34 194.59,292.10 197.08,291.86 199.58,291.62 202.07,291.38 204.56,291.13 207.06,290.89 209.55,290.64 212.04,290.39 214.54,290.14 217.03,289.89 219.53,289.64 222.02,289.39 224.51,289.13 227.01,288.87 229.50,288.61" fill="none" stroke="#f01010" stroke-width="1.5" clip-path="url(#clipc)"/>
<polyline points="32.50,304.50 34.99,304.64 37.49,304.78 39.98,304.93 42.47,305.07 44.97,305.22 47.46,305.37 49.96,305.52 52.45,305.67 54.94,305.82 57.44,305.97 59.93,306.13 62.42,306.29 64.92,306.44 67.41,306.60 69.91,306.77 72.40,306.93 74.89,307.09 77.39,307.26 79.88,307.42 82.37,307.59 84.87,307.76 87.36,307.93 89.85,308.10 92.35,308.28 94.84,308.45 97.34,308.63 99.83,308.81 102.32,308.99 104.82,309.17 107.31,309.35 109.80,309.53 112.30,309.72 114.79,309.91 117.28,310.09 119.78,310.28 122.27,310.47 124.77,310.67 127.26,310.86 129.75,311.05 132.25,311.25 134.74,311.45 137.23,311.65 139.73,311.85 142.22,312.05 144.72,312.26 147.21,312.46 149.70,312.67 152.20,312.87 154.69,313.08 157.18,313.29 159.68,313.51 162.17,313.72 164.66,313.94 167.16,314.15 169.65,314.37 172.15,314.59 174.64,314.81 177.13,315.03 179.63,315.25 182.12,315.48 184.61,315.71 187.11,315.93 189.60,316.16 192.09,316.39 194.59,316.63 197.08,316.86 199.58,317.09 202.07,317.33 204.56,317.57 207.06,317.81 209.55,318.05 212.04,318.29 214.54,318.53 217.03,318.78 219.53,319.02 222.02,319.27 224.51,319.52 227.01,319.77 229.50,320.02" fill="none" stroke="#f01010" stroke-width="1.5" clip-path="url(#clipc)"/>
<polyline points="32.50,304.50 34.99,304.81 37.49,305.12 39.98,305.43 42.47,305.74 44.97,306.05 47.46,306.36 49.96,306.67 52.45,306.98 54.94,307.29 57.44,307.60 59.93,307.92 62.42,308.23 64.92,308.54 67.41,308.85 69.91,309.16 72.40,309.47 74.89,309.78 77.39,310.09 79.88,310.40 82.37,310.71 84.87,311.02 87.36,311.33 89.85,311.64 92.35,311.95 94.84,312.26 97.34,312.57 99.83,312.88 102.32,313.19 104.82,313.50 107.31,313.81 109.80,314.12 112.30,314.44 114.79,314.75 117.28,315.06 119.78,315.37 122.27,315.68 124.77,315.99 127.26,316.30 129.75,316.61 132.25,316.92 134.74,317.23 137.23,317.54 139.73,317.85 142.22,318.16 144.72,318.47 147.21,318.78 149.70,319.09 152.20,319.40 154.69,319.71 157.18,320.02 159.68,320.33 162.17,320.65 164.66,320.96 167.16,321.27 169.65,321.58 172.15,321.89 174.64,322.20 177.13,322.51 179.63,322.82 182.12,323.13 184.61,323.44 187.11,323.75 189.60,324.06 192.09,324.37 194.59,324.68 197.08,324.99 199.58,325.30 202.07,325.61 204.56,325.92 207.06,326.23 209.55,326.54 212.04,326.85 214.54,327.17 217.03,327.48 219.53,327.79 222.02,328.10 224.51,328.41 227.01,328.72 229.50,329.03" fill="none" stroke="#1010f0" stroke-width="1.6" stroke-dasharray="4,3" clip-path="url(#clipc)"/>
<polyline points="307.50,304.50 310.01,301.96 312.51,300.53 315.02,299.37 317.53,298.36 320.03,297.48 322.54,296.67 325.04,295.91 327.55,295.20 330.06,294.55 332.56,293.96 335.07,293.44 337.58,292.97 340.08,292.55 342.59,292.16 345.09,291.79 347.60,291.45 350.11,291.12 352.61,290.79 355.12,290.47 357.63,290.15 360.13,289.81 362.64,289.47 365.15,289.14 367.65,288.81 370.16,288.49 372.66,288.17 375.17,287.84 377.68,287.52 380.18,287.18 382.69,286.84 385.20,286.49 387.70,286.14 390.21,285.79 392.72,285.43 395.22,285.07 397.73,284.71 400.23,284.34 402.74,283.96 405.25,283.58 407.75,283.20 410.26,282.81 412.77,282.41 415.27,282.01 417.78,281.60 420.28,281.19 422.79,280.77 425.30,280.35 427.80,279.93 430.31,279.51 432.82,279.09 435.32,278.66 437.83,278.23 440.34,277.81 442.84,277.38 445.35,276.95 447.85,276.52 450.36,276.09 452.87,275.66 455.37,275.23 457.88,274.79 460.39,274.35 462.89,273.91 465.40,273.46 467.91,273.02 470.41,272.57 472.92,272.11 475.42,271.65 477.93,271.19 480.44,270.72 482.94,270.25 485.45,269.78 487.96,269.30 490.46,268.82 492.97,268.34 495.47,267.85 497.98,267.36 500.49,266.86 502.99,266.36 505.50,265.86" fill="none" stroke="#111" stroke-width="1.5" clip-path="url(#clipd)"/>
<polyline points="307.50,304.50 310.01,307.02 312.51,308.43 315.02,309.59 317.53,310.59 320.03,311.45 322.54,312.26 325.04,313.01 327.55,313.72 330.06,314.36 332.56,314.95 335.07,315.47 337.58,315.93 340.08,316.35 342.59,316.74 345.09,317.10 347.60,317.44 350.11,317.77 352.61,318.09 355.12,318.40 357.63,318.73 360.13,319.06 362.64,319.40 365.15,319.73 367.65,320.05 370.16,320.37 372.66,320.69 375.17,321.01 377.68,321.34 380.18,321.67 382.69,322.01 385.20,322.35 387.70,322.70 390.21,323.05 392.72,323.40 395.22,323.76 397.73,324.12 400.23,324.49 402.74,324.86 405.25,325.24 407.75,325.62 410.26,326.00 412.77,326.40 415.27,326.80 417.78,327.20 420.28,327.61 422.79,328.02 425.30,328.44 427.80,328.85 430.31,329.27 432.82,329.69 435.32,330.12 437.83,330.54 440.34,330.96 442.84,331.39 445.35,331.81 447.85,332.23 450.36,332.66 452.87,333.09 455.37,333.52 457.88,333.95 460.39,334.39 462.89,334.82 465.40,335.27 467.91,335.71 470.41,336.16 472.92,336.61 475.42,337.06 477.93,337.52 480.44,337.98 482.94,338.45 485.45,338.92 487.96,339.39 490.46,339.87 492.97,340.35 495.47,340.83 497.98,341.32 500.49,341.81 502.99,342.31 505.50,342.80" fill="none" stroke="#111" stroke-width="1.5" clip-path="url(#clipd)"/>
<polyline points="307.50,304.50 310.01,304.38 312.51,304.26 315.02,304.13 317.53,304.01 320.03,303.88 322.54,303.75 325.04,303.62 327.55,303.49 330.06,303.35 332.56,303.22 335.07,303.08 337.58,302.95 340.08,302.81 342.59,302.67 345.09,302.52 347.60,302.38 350.11,302.24 352.61,302.09 355.12,301.94 357.63,301.79 360.13,301.64 362.64,301.49 365.15,301.34 367.65,301.18 370.16,301.02 372.66,300.87 375.17,300.71 377.68,300.55 380.18,300.38 382.69,300.22 385.20,300.05 387.70,299.89 390.21,299.72 392.72,299.55 395.22,299.38 397.73,299.21 400.23,299.03 402.74,298.86 405.25,298.68 407.75,298.50 410.26,298.32 412.77,298.14 415.27,297.96 417.78,297.77 420.28,297.59 422.79,297.40 425.30,297.21 427.80,297.02 430.31,296.83 432.82,296.63 435.32,296.44 437.83,296.24 440.34,296.05 442.84,295.85 445.35,295.65 447.85,295.44 450.36,295.24 452.87,295.04 455.37,294.83 457.88,294.62 460.39,294.41 462.89,294.20 465.40,293.99 467.91,293.78 470.41,293.56 472.92,293.34 475.42,293.13 477.93,292.91 480.44,292.69 482.94,292.46 485.45,292.24 487.96,292.01 490.46,291.79 492.97,291.56 495.47,291.33 497.98,291.10 500.49,290.86 502.99,290.63 505.50,290.39" fill="none" stroke="#f01010" stroke-width="1.5" clip-path="url(#clipd)"/>
<polyline points="307.50,304.50 310.01,304.62 312.51,304.74 315.02,304.86 317.53,304.98 320.03,305.11 322.54,305.24 325.04,305.36 327.55,305.49 330.06,305.62 332.56,305.75 335.07,305.89 337.58,306.02 340.08,306.16 342.59,306.29 345.09,306.43 347.60,306.57 350.11,306.72 352.61,306.86 355.12,307.00 357.63,307.15 360.13,307.30 362.64,307.45 365.15,307.60 367.65,307.75 370.16,307.90 372.66,308.05 375.17,308.21 377.68,308.37 380.18,308.53 382.69,308.69 385.20,308.85 387.70,309.01 390.21,309.18 392.72,309.34 395.22,309.51 397.73,309.68 400.23,309.85 402.74,310.02 405.25,310.19 407.75,310.37 410.26,310.54 412.77,310.72 415.27,310.90 417.78,311.08 420.28,311.26 422.79,311.44 425.30,311.63 427.80,311.81 430.31,312.00 432.82,312.19 435.32,312.38 437.83,312.57 440.34,312.76 442.84,312.96 445.35,313.15 447.85,313.35 450.36,313.55 452.87,313.75 455.37,313.95 457.88,314.15 460.39,314.36 462.89,314.56 465.40,314.77 467.91,314.98 470.41,315.19 472.92,315.40 475.42,315.61 477.93,315.83 480.44,316.04 482.94,316.26 485.45,316.48 487.96,316.70 490.46,316.92 492.97,317.14 495.47,317.37 497.98,317.59 500.49,317.82 502.99,318.05 505.50,318.28" fill="none" stroke="#f01010" stroke-width="1.5" clip-path="url(#clipd)"/>
<polyline points="307.50,304.50 310.01,304.22 312.51,303.93 315.02,303.65 317.53,303.36 320.03,303.08 322.54,302.79 325.04,302.51 327.55,302.22 330.06,301.94 332.56,301.65 335.07,301.37 337.58,301.08 340.08,300.80 342.59,300.51 345.09,300.23 347.60,299.94 350.11,299.66 352.61,299.37 355.12,299.09 357.63,298.80 360.13,298.52 362.64,298.23 365.15,297.95 367.65,297.66 370.16,297.38 372.66,297.09 375.17,296.81 377.68,296.52 380.18,296.24 382.69,295.95 385.20,295.67 387.70,295.38 390.21,295.10 392.72,294.81 395.22,294.53 397.73,294.24 400.23,293.96 402.74,293.67 405.25,293.39 407.75,293.10 410.26,292.82 412.77,292.53 415.27,292.25 417.78,291.96 420.28,291.68 422.79,291.39 425.30,291.11 427.80,290.82 430.31,290.54 432.82,290.25 435.32,289.97 437.83,289.68 440.34,289.40 442.84,289.11 445.35,288.83 447.85,288.54 450.36,288.26 452.87,287.97 455.37,287.69 457.88,287.40 460.39,287.12 462.89,286.83 465.40,286.55 467.91,286.26 470.41,285.98 472.92,285.69 475.42,285.41 477.93,285.12 480.44,284.84 482.94,284.55 485.45,284.27 487.96,283.98 490.46,283.70 492.97,283.41 495.47,283.13 497.98,282.84 500.49,282.56 502.99,282.27 505.50,281.99" fill="none" stroke="#1010f0" stroke-width="1.6" stroke-dasharray="4,3" clip-path="url(#clipd)"/>
<polyline points="307.50,304.50 310.01,304.78 312.51,305.06 315.02,305.34 317.53,305.62 320.03,305.90 322.54,306.18 325.04,306.46 327.55,306.75 330.06,307.03 332.56,307.31 335.07,307.59 337.58,307.87 340.08,308.15 342.59,308.43 345.09,308.71 347.60,308.99 350.11,309.27 352.61,309.55 355.12,309.83 357.63,310.11 360.13,310.39 362.64,310.68 365.15,310.96 367.65,311.24 370.16,311.52 372.66,311.80 375.17,312.08 377.68,312.36 380.18,312.64 382.69,312.92 385.20,313.20 387.70,313.48 390.21,313.76 392.72,314.04 395.22,314.32 397.73,314.61 400.23,314.89 402.74,315.17 405.25,315.45 407.75,315.73 410.26,316.01 412.77,316.29 415.27,316.57 417.78,316.85 420.28,317.13 422.79,317.41 425.30,317.69 427.80,317.97 430.31,318.25 432.82,318.54 435.32,318.82 437.83,319.10 440.34,319.38 442.84,319.66 445.35,319.94 447.85,320.22 450.36,320.50 452.87,320.78 455.37,321.06 457.88,321.34 460.39,321.62 462.89,321.90 465.40,322.18 467.91,322.47 470.41,322.75 472.92,323.03 475.42,323.31 477.93,323.59 480.44,323.87 482.94,324.15 485.45,324.43 487.96,324.71 490.46,324.99 492.97,325.27 495.47,325.55 497.98,325.83 500.49,326.11 502.99,326.40 505.50,326.68" fill="none" stroke="#1010f0" stroke-width="1.6" stroke-dasharray="4,3" clip-path="url(#clipd)"/>
<text x="232.5" y="50.5" font-size="13.4" textLength="16.0" lengthAdjust="spacingAndGlyphs" fill="#111" stroke="#111">A0</text>
<text x="231.5" y="67.3" font-size="13.4" textLength="17.8" lengthAdjust="spacingAndGlyphs" fill="#00f" stroke="#00f">SH</text>
<text x="231.5" y="82.2" font-size="13.4" textLength="13.9" lengthAdjust="spacingAndGlyphs" fill="#f00" stroke="#f00">S0</text>
<text x="509.9" y="53.5" font-size="13.4" textLength="22.7" lengthAdjust="spacingAndGlyphs" fill="#111" stroke="#111">+A0</text>
<text x="506.0" y="68.0" font-size="13.4" textLength="30.3" lengthAdjust="spacingAndGlyphs" fill="#00f" stroke="#00f">+SH0</text>
<text x="509.4" y="81.4" font-size="13.4" textLength="18.6" lengthAdjust="spacingAndGlyphs" fill="#f00" stroke="#f00">+S0</text>
<text x="507.8" y="115.0" font-size="13.4" textLength="17.1" lengthAdjust="spacingAndGlyphs" fill="#f00" stroke="#f00">-S0</text>
<text x="508.6" y="128.0" font-size="13.4" textLength="28.4" lengthAdjust="spacingAndGlyphs" fill="#00f" stroke="#00f">-SH0</text>
<text x="506.0" y="141.4" font-size="13.4" textLength="19.4" lengthAdjust="spacingAndGlyphs" fill="#111" stroke="#111">-A0</text>
<text x="239.9" y="268.6" font-size="13.4" textLength="23.3" lengthAdjust="spacingAndGlyphs" fill="#111" stroke="#111">+A0</text>
<text x="239.4" y="283.1" font-size="13.4" textLength="30.2" lengthAdjust="spacingAndGlyphs" fill="#00f" stroke="#00f">+SH0</text>
<text x="239.9" y="296.0" font-size="13.4" textLength="19.4" lengthAdjust="spacingAndGlyphs" fill="#f00" stroke="#f00">+S0</text>
<text x="239.4" y="323.0" font-size="13.4" textLength="17.3" lengthAdjust="spacingAndGlyphs" fill="#f00" stroke="#f00">-S0</text>
<text x="239.4" y="336.2" font-size="13.4" textLength="28.4" lengthAdjust="spacingAndGlyphs" fill="#00f" stroke="#00f">-SH0</text>
<text x="239.4" y="348.3" font-size="13.4" textLength="21.2" lengthAdjust="spacingAndGlyphs" fill="#111" stroke="#111">-A0</text>
<text x="517.1" y="266.8" font-size="13.4" textLength="22.5" lengthAdjust="spacingAndGlyphs" fill="#111" stroke="#111">+A0</text>
<text x="515.0" y="282.3" font-size="13.4" textLength="31.1" lengthAdjust="spacingAndGlyphs" fill="#00f" stroke="#00f">+SH0</text>
<text x="515.6" y="294.0" font-size="13.4" textLength="18.1" lengthAdjust="spacingAndGlyphs" fill="#f00" stroke="#f00">+S0</text>
<text x="515.6" y="322.0" font-size="13.4" textLength="17.0" lengthAdjust="spacingAndGlyphs" fill="#f00" stroke="#f00">-S0</text>
<text x="512.5" y="334.1" font-size="13.4" textLength="27.9" lengthAdjust="spacingAndGlyphs" fill="#00f" stroke="#00f">-SH0</text>
<text x="517.1" y="347.8" font-size="13.4" textLength="19.9" lengthAdjust="spacingAndGlyphs" fill="#111" stroke="#111">-A0</text>
<text x="308.8" y="18.6" font-size="13.8" textLength="222.2" lengthAdjust="spacingAndGlyphs" fill="#111" stroke="#111">New strong wavenumber components</text>
<text x="314.0" y="170.3" font-size="13.8" textLength="96.2" lengthAdjust="spacingAndGlyphs" fill="#111" stroke="#111">Strong reflection</text>
<text x="41.5" y="231.6" font-size="13.8" textLength="181.9" lengthAdjust="spacingAndGlyphs" fill="#111" stroke="#111">New wavenumber components</text>
<text x="47.9" y="366.8" font-size="13.8" textLength="90.5" lengthAdjust="spacingAndGlyphs" fill="#111" stroke="#111">Weak reflection</text>
<text x="320.3" y="231.3" font-size="13.8" textLength="181.5" lengthAdjust="spacingAndGlyphs" fill="#111" stroke="#111">New wavenumber components</text>
<text x="340.3" y="365.7" font-size="13.8" textLength="89.9" lengthAdjust="spacingAndGlyphs" fill="#111" stroke="#111">Weak reflection</text>
<ellipse cx="438.5" cy="47.0" rx="54.6" ry="15.7" transform="rotate(-10.9 438.5 47.0)" fill="none" stroke="#f00" stroke-width="2" stroke-dasharray="5.5,3.2"/>
<ellipse cx="458.7" cy="141.5" rx="37.7" ry="25.0" transform="rotate(0 458.7 141.5)" fill="none" stroke="#000" stroke-width="2" stroke-dasharray="5.5,3.2"/>
<ellipse cx="167.5" cy="258.1" rx="56.4" ry="13.9" transform="rotate(-11.6 167.5 258.1)" fill="none" stroke="#f00" stroke-width="2" stroke-dasharray="5.5,3.2"/>
<ellipse cx="165.5" cy="338.3" rx="49.5" ry="21.3" transform="rotate(0 165.5 338.3)" fill="none" stroke="#000" stroke-width="2" stroke-dasharray="5.5,3.2"/>
<ellipse cx="441.3" cy="253.5" rx="58.8" ry="10.7" transform="rotate(-12.1 441.3 253.5)" fill="none" stroke="#f00" stroke-width="2" stroke-dasharray="5.5,3.2"/>
<ellipse cx="452.0" cy="341.5" rx="47.2" ry="19.1" transform="rotate(0 452.0 341.5)" fill="none" stroke="#000" stroke-width="2" stroke-dasharray="5.5,3.2"/>
<line x1="409.5" y1="26.1" x2="422.7" y2="32.3" stroke="#f00" stroke-width="1.6" marker-end="url(#ahr)"/>
<line x1="408.5" y1="162.2" x2="429.5" y2="151.8" stroke="#000" stroke-width="1.4" marker-end="url(#ahk)"/>
</svg></body></html>
